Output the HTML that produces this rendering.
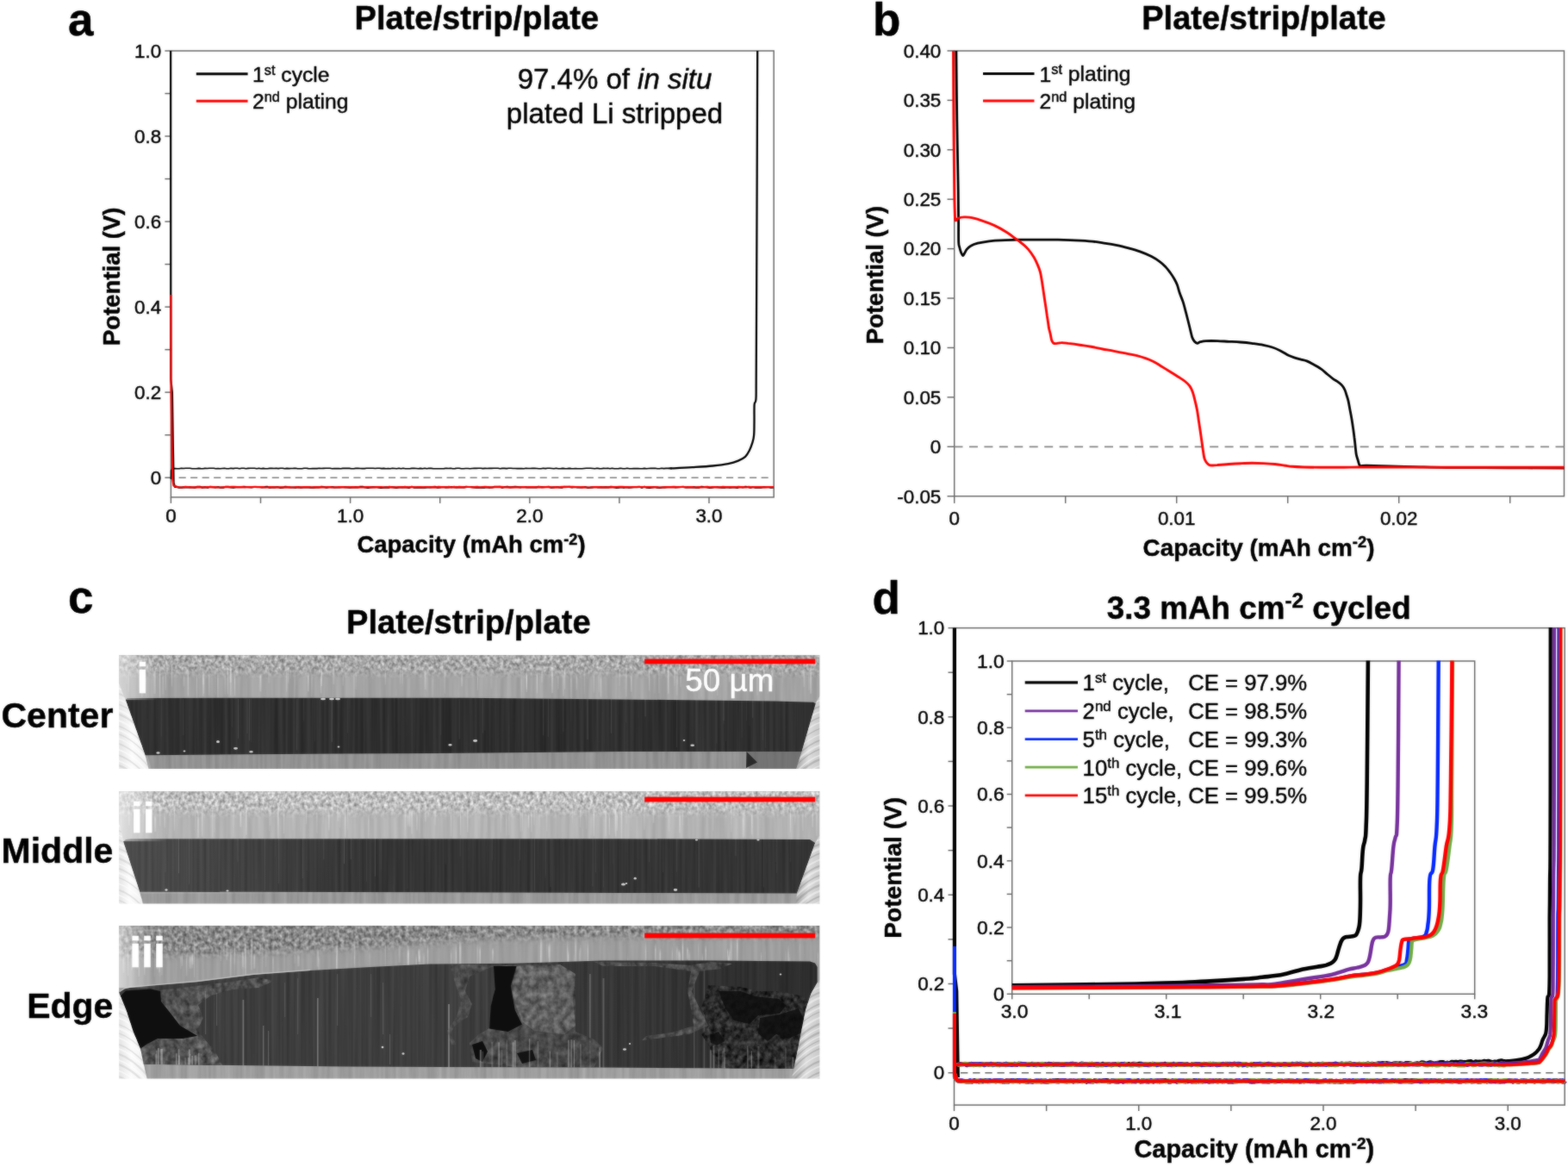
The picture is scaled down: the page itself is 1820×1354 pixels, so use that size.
<!DOCTYPE html>
<html lang="en"><head><meta charset="utf-8"><title>Figure</title>
<style>
html,body{margin:0;padding:0;background:#fff;}
body{width:1820px;height:1354px;overflow:hidden;}
svg{display:block;}
text{font-family:"Liberation Sans",sans-serif;stroke:#000;stroke-width:0.45px;stroke-linejoin:round;}
text[fill="#fff"]{stroke:#fff;}
</style></head><body>
<svg width="1820" height="1354" viewBox="0 0 1820 1354">
<defs><filter id="soft" filterUnits="userSpaceOnUse" x="0" y="0" width="1820" height="1354" color-interpolation-filters="sRGB"><feGaussianBlur in="SourceGraphic" stdDeviation="1" result="b"/><feComposite in="SourceGraphic" in2="b" operator="arithmetic" k1="0" k2="0.6" k3="0.4" k4="0"/></filter></defs>
<g filter="url(#soft)">
<rect x="0" y="0" width="1820" height="1354" fill="#fff"/>
<g id="panel-a">
<text x="79" y="41" font-size="53" text-anchor="start" font-weight="bold" fill="#000" >a</text>
<text x="553.3" y="34" font-size="38.1" text-anchor="middle" font-weight="bold" fill="#000" >Plate/strip/plate</text>
<rect x="198.4" y="59" width="699.8000000000001" height="517.9" fill="none" stroke="#686868" stroke-width="1.45"/>
<line x1="198.4" y1="576.9" x2="198.4" y2="583.9" stroke="#686868" stroke-width="1.45"/>
<line x1="406.6" y1="576.9" x2="406.6" y2="583.9" stroke="#686868" stroke-width="1.45"/>
<line x1="614.8" y1="576.9" x2="614.8" y2="583.9" stroke="#686868" stroke-width="1.45"/>
<line x1="822.9999999999999" y1="576.9" x2="822.9999999999999" y2="583.9" stroke="#686868" stroke-width="1.45"/>
<line x1="302.5" y1="576.9" x2="302.5" y2="583.9" stroke="#686868" stroke-width="1.45"/>
<line x1="510.69999999999993" y1="576.9" x2="510.69999999999993" y2="583.9" stroke="#686868" stroke-width="1.45"/>
<line x1="718.9" y1="576.9" x2="718.9" y2="583.9" stroke="#686868" stroke-width="1.45"/>
<line x1="191.4" y1="59.00000000000006" x2="198.4" y2="59.00000000000006" stroke="#686868" stroke-width="1.45"/>
<line x1="191.4" y1="158.04000000000002" x2="198.4" y2="158.04000000000002" stroke="#686868" stroke-width="1.45"/>
<line x1="191.4" y1="257.08000000000004" x2="198.4" y2="257.08000000000004" stroke="#686868" stroke-width="1.45"/>
<line x1="191.4" y1="356.12" x2="198.4" y2="356.12" stroke="#686868" stroke-width="1.45"/>
<line x1="191.4" y1="455.16" x2="198.4" y2="455.16" stroke="#686868" stroke-width="1.45"/>
<line x1="191.4" y1="554.2" x2="198.4" y2="554.2" stroke="#686868" stroke-width="1.45"/>
<line x1="191.4" y1="108.52000000000004" x2="198.4" y2="108.52000000000004" stroke="#686868" stroke-width="1.45"/>
<line x1="191.4" y1="207.56000000000006" x2="198.4" y2="207.56000000000006" stroke="#686868" stroke-width="1.45"/>
<line x1="191.4" y1="306.6" x2="198.4" y2="306.6" stroke="#686868" stroke-width="1.45"/>
<line x1="191.4" y1="405.64000000000004" x2="198.4" y2="405.64000000000004" stroke="#686868" stroke-width="1.45"/>
<line x1="191.4" y1="504.68000000000006" x2="198.4" y2="504.68000000000006" stroke="#686868" stroke-width="1.45"/>
<text x="198.4" y="606.1" font-size="22.4" text-anchor="middle" font-weight="normal" fill="#000" >0</text>
<text x="406.6" y="606.1" font-size="22.4" text-anchor="middle" font-weight="normal" fill="#000" >1.0</text>
<text x="614.8" y="606.1" font-size="22.4" text-anchor="middle" font-weight="normal" fill="#000" >2.0</text>
<text x="822.9999999999999" y="606.1" font-size="22.4" text-anchor="middle" font-weight="normal" fill="#000" >3.0</text>
<text x="187.20000000000002" y="66.79520000000005" font-size="22.4" text-anchor="end" font-weight="normal" fill="#000" >1.0</text>
<text x="187.20000000000002" y="165.83520000000001" font-size="22.4" text-anchor="end" font-weight="normal" fill="#000" >0.8</text>
<text x="187.20000000000002" y="264.87520000000006" font-size="22.4" text-anchor="end" font-weight="normal" fill="#000" >0.6</text>
<text x="187.20000000000002" y="363.9152" font-size="22.4" text-anchor="end" font-weight="normal" fill="#000" >0.4</text>
<text x="187.20000000000002" y="462.95520000000005" font-size="22.4" text-anchor="end" font-weight="normal" fill="#000" >0.2</text>
<text x="187.20000000000002" y="561.9952000000001" font-size="22.4" text-anchor="end" font-weight="normal" fill="#000" >0</text>
<line x1="207.6" y1="554.3" x2="893" y2="554.3" stroke="#808080" stroke-width="1.6" stroke-dasharray="8.1 5.42"/>
<path d="M198.1,59.0 L198.3,440.0 L199.9,455.0 L200.9,520.0 L201.6,560.0 L203.0,565.0 L205.0,564.9 L208.0,565.6 L211.0,565.6 L214.0,565.1 L217.0,565.3 L220.0,565.2 L223.0,565.5 L226.0,565.6 L229.0,564.9 L232.0,564.8 L235.0,565.6 L238.0,565.2 L241.0,565.6 L244.0,564.8 L247.0,565.2 L250.0,565.5 L253.0,565.0 L256.0,565.7 L259.0,565.7 L262.0,564.8 L265.0,564.8 L268.0,565.3 L271.0,565.7 L274.0,565.2 L277.0,565.0 L280.0,565.2 L283.0,564.8 L286.0,565.0 L289.0,565.2 L292.0,565.3 L295.0,565.0 L298.0,565.0 L301.0,565.0 L304.0,565.3 L307.0,565.1 L310.0,564.8 L313.0,565.6 L316.0,565.4 L319.0,565.4 L322.0,565.0 L325.0,565.8 L328.0,565.7 L331.0,564.9 L334.0,565.1 L337.0,565.5 L340.0,565.5 L343.0,565.7 L346.0,565.2 L349.0,565.6 L352.0,565.5 L355.0,565.1 L358.0,565.4 L361.0,565.7 L364.0,565.6 L367.0,565.3 L370.0,565.4 L373.0,564.8 L376.0,565.0 L379.0,565.6 L382.0,565.2 L385.0,565.0 L388.0,565.3 L391.0,565.5 L394.0,565.5 L397.0,565.2 L400.0,565.2 L403.0,565.3 L406.0,565.6 L409.0,565.3 L412.0,565.2 L415.0,565.3 L418.0,564.8 L421.0,564.8 L424.0,565.5 L427.0,565.8 L430.0,565.4 L433.0,565.2 L436.0,565.0 L439.0,565.3 L442.0,565.8 L445.0,565.6 L448.0,565.3 L451.0,565.7 L454.0,565.0 L457.0,565.3 L460.0,565.8 L463.0,565.4 L466.0,565.3 L469.0,565.1 L472.0,565.3 L475.0,565.8 L478.0,564.8 L481.0,565.6 L484.0,565.6 L487.0,565.7 L490.0,565.5 L493.0,565.6 L496.0,565.3 L499.0,565.4 L502.0,565.2 L505.0,564.9 L508.0,565.7 L511.0,565.4 L514.0,565.0 L517.0,565.3 L520.0,565.3 L523.0,565.2 L526.0,565.1 L529.0,565.3 L532.0,565.4 L535.0,565.4 L538.0,565.3 L541.0,564.8 L544.0,565.0 L547.0,565.0 L550.0,565.4 L553.0,565.7 L556.0,565.6 L559.0,565.6 L562.0,565.6 L565.0,565.1 L568.0,565.6 L571.0,565.5 L574.0,564.9 L577.0,564.8 L580.0,564.8 L583.0,565.6 L586.0,565.0 L589.0,564.9 L592.0,565.4 L595.0,565.1 L598.0,564.9 L601.0,565.0 L604.0,565.3 L607.0,565.0 L610.0,565.1 L613.0,565.5 L616.0,565.3 L619.0,565.1 L622.0,565.3 L625.0,564.8 L628.0,565.2 L631.0,565.2 L634.0,565.0 L637.0,564.9 L640.0,565.7 L643.0,565.3 L646.0,565.0 L649.0,565.4 L652.0,565.6 L655.0,564.8 L658.0,564.8 L661.0,564.9 L664.0,565.5 L667.0,565.0 L670.0,565.5 L673.0,565.5 L676.0,565.3 L679.0,565.0 L682.0,565.8 L685.0,565.6 L688.0,565.3 L691.0,565.0 L694.0,565.4 L697.0,565.2 L700.0,565.4 L703.0,565.1 L706.0,565.4 L709.0,564.9 L712.0,565.1 L715.0,565.8 L718.0,565.7 L721.0,565.1 L724.0,565.7 L727.0,565.1 L730.0,565.7 L733.0,565.5 L736.0,565.2 L739.0,565.1 L742.0,564.8 L745.0,565.7 L748.0,564.8 L751.0,565.6 L754.0,565.8 L757.0,565.4 L760.0,565.0 L763.0,565.7 L766.0,565.8 L769.0,565.5 L772.0,565.3 L775.0,565.2 L778.0,565.1 L781.0,565.0 L784.0,565.5 L787.0,565.2 L790.0,565.0 L793.0,564.9 L796.0,565.5 L799.0,565.1 L802.0,565.3 L805.0,565.1 L808.0,565.7 L811.0,565.7 L814.0,564.8 L817.0,565.0 L820.0,565.1 L823.0,565.8 L826.0,565.6 L829.0,565.1 L832.0,565.0 L835.0,565.5 L838.0,565.6 L841.0,565.7 L844.0,565.1 L847.0,565.7 L850.0,565.5 L853.0,565.3 L856.0,565.8 L859.0,565.0 L862.0,565.5 L865.0,564.9 L868.0,565.0 L871.0,565.7 L874.0,565.0 L877.0,565.6 L880.0,565.4 L883.0,565.6 L886.0,565.2 L889.0,565.1 L892.0,565.1 L895.0,565.7 L898.0,565.3" fill="none" stroke="#000" stroke-width="2.2" stroke-linejoin="round" stroke-linecap="butt" />
<path d="M198.5,556.0 L198.6,546.0 L200.0,543.6 L203.0,543.6 L205.5,543.8 L208.0,543.8 L210.5,543.2 L213.0,543.5 L215.5,543.2 L218.0,543.2 L220.5,543.2 L223.0,543.8 L225.5,543.7 L228.0,543.7 L230.5,543.4 L233.0,543.6 L235.5,543.7 L238.0,543.4 L240.5,543.5 L243.0,543.3 L245.5,543.2 L248.0,543.3 L250.5,543.8 L253.0,543.5 L255.5,543.8 L258.0,543.5 L260.5,543.3 L263.0,543.7 L265.5,543.7 L268.0,543.2 L270.5,543.6 L273.0,543.2 L275.5,543.2 L278.0,543.8 L280.5,543.2 L283.0,543.3 L285.5,543.8 L288.0,543.4 L290.5,543.2 L293.0,543.3 L295.5,543.3 L298.0,543.7 L300.5,543.2 L303.0,543.8 L305.5,543.4 L308.0,543.8 L310.5,543.8 L313.0,543.4 L315.5,543.3 L318.0,543.5 L320.5,543.2 L323.0,543.6 L325.5,543.2 L328.0,543.2 L330.5,543.8 L333.0,543.4 L335.5,543.6 L338.0,543.5 L340.5,543.4 L343.0,543.2 L345.5,543.8 L348.0,543.8 L350.5,543.8 L353.0,543.2 L355.5,543.3 L358.0,543.6 L360.5,543.8 L363.0,543.5 L365.5,543.6 L368.0,543.6 L370.5,543.3 L373.0,543.5 L375.5,543.4 L378.0,543.3 L380.5,543.2 L383.0,543.3 L385.5,543.8 L388.0,543.5 L390.5,543.6 L393.0,543.6 L395.5,543.8 L398.0,543.4 L400.5,543.4 L403.0,543.4 L405.5,543.4 L408.0,543.7 L410.5,543.8 L413.0,543.4 L415.5,543.4 L418.0,543.5 L420.5,543.6 L423.0,543.6 L425.5,543.3 L428.0,543.2 L430.5,543.3 L433.0,543.2 L435.5,543.5 L438.0,543.2 L440.5,543.2 L443.0,543.6 L445.5,543.4 L448.0,543.7 L450.5,543.5 L453.0,543.8 L455.5,543.3 L458.0,543.5 L460.5,543.7 L463.0,543.2 L465.5,543.8 L468.0,543.3 L470.5,543.7 L473.0,543.8 L475.5,543.7 L478.0,543.4 L480.5,543.2 L483.0,543.5 L485.5,543.8 L488.0,543.4 L490.5,543.8 L493.0,543.2 L495.5,543.8 L498.0,543.2 L500.5,543.4 L503.0,543.8 L505.5,543.7 L508.0,543.8 L510.5,543.7 L513.0,543.7 L515.5,543.6 L518.0,543.3 L520.5,543.5 L523.0,543.3 L525.5,543.7 L528.0,543.6 L530.5,543.3 L533.0,543.2 L535.5,543.8 L538.0,543.7 L540.5,543.5 L543.0,543.5 L545.5,543.7 L548.0,543.5 L550.5,543.4 L553.0,543.4 L555.5,543.3 L558.0,543.2 L560.5,543.6 L563.0,543.4 L565.5,543.5 L568.0,543.2 L570.5,543.4 L573.0,543.2 L575.5,543.2 L578.0,543.3 L580.5,543.7 L583.0,543.4 L585.5,543.4 L588.0,543.6 L590.5,543.3 L593.0,543.2 L595.5,543.5 L598.0,543.5 L600.5,543.6 L603.0,543.5 L605.5,543.6 L608.0,543.7 L610.5,543.3 L613.0,543.5 L615.5,543.5 L618.0,543.3 L620.5,543.4 L623.0,543.5 L625.5,543.8 L628.0,543.8 L630.5,543.3 L633.0,543.6 L635.5,543.2 L638.0,543.2 L640.5,543.5 L643.0,543.8 L645.5,543.3 L648.0,543.7 L650.5,543.8 L653.0,543.4 L655.5,543.6 L658.0,543.7 L660.5,543.4 L663.0,543.6 L665.5,543.7 L668.0,543.6 L670.5,543.7 L673.0,543.8 L675.5,543.8 L678.0,543.5 L680.5,543.3 L683.0,543.3 L685.5,543.3 L688.0,543.5 L690.5,543.7 L693.0,543.2 L695.5,543.6 L698.0,543.7 L700.5,543.4 L703.0,543.5 L705.5,543.3 L708.0,543.7 L710.5,543.2 L713.0,543.8 L715.5,543.7 L718.0,543.6 L720.5,543.3 L723.0,543.8 L725.5,543.8 L728.0,543.2 L730.5,543.7 L733.0,543.7 L735.5,543.6 L738.0,543.6 L740.5,543.5 L743.0,543.8 L745.5,543.8 L748.0,543.4 L750.5,543.7 L753.0,543.5 L755.5,543.3 L758.0,543.4 L760.5,543.2 L763.0,543.8 L765.5,543.8 L768.0,543.2 L770.5,543.6 L773.0,543.4 L775.5,543.2 L780.0,543.4" fill="none" stroke="#000" stroke-width="1.6" stroke-linejoin="round" stroke-linecap="butt" />
<path d="M778.0,543.5 C778.3,543.4 775.7,543.6 780.0,543.4 C784.3,543.2 795.7,542.7 803.6,542.2 C811.5,541.7 820.4,541.2 827.3,540.5 C834.2,539.8 840.1,539.1 845.0,538.1 C849.9,537.1 853.4,536.0 856.8,534.6 C860.1,533.2 862.9,531.8 865.1,529.8 C867.3,527.8 868.4,525.5 869.8,522.7 C871.2,520.0 872.5,516.2 873.4,513.3 C874.3,510.3 874.8,508.9 875.1,505.0 C875.5,501.1 875.4,495.9 875.5,490.0 C875.6,484.1 875.3,474.0 875.6,469.6 C875.9,465.2 877.0,468.5 877.4,463.6 C877.8,458.7 877.6,462.3 877.7,440.0 C877.8,417.7 878.0,393.5 878.2,330.0 C878.5,266.5 879.0,104.2 879.2,59.0" fill="none" stroke="#000" stroke-width="2.3" stroke-linejoin="round" stroke-linecap="butt" />
<path d="M198.4,342.0 L198.5,440.0 L199.3,500.0 L200.2,555.0 L201.5,563.5 L206.0,565.0 L209.0,565.5 L212.0,565.5 L215.0,564.9 L218.0,565.0 L221.0,565.4 L224.0,565.3 L227.0,565.3 L230.0,565.1 L233.0,565.3 L236.0,565.3 L239.0,565.2 L242.0,565.0 L245.0,565.2 L248.0,565.1 L251.0,565.3 L254.0,565.5 L257.0,565.5 L260.0,565.2 L263.0,565.2 L266.0,565.1 L269.0,564.9 L272.0,564.9 L275.0,565.2 L278.0,565.1 L281.0,565.1 L284.0,565.4 L287.0,565.2 L290.0,565.2 L293.0,565.0 L296.0,564.9 L299.0,565.1 L302.0,565.0 L305.0,565.2 L308.0,565.5 L311.0,565.3 L314.0,565.0 L317.0,565.4 L320.0,565.4 L323.0,565.3 L326.0,565.4 L329.0,565.4 L332.0,565.4 L335.0,565.1 L338.0,565.5 L341.0,565.5 L344.0,565.0 L347.0,565.4 L350.0,565.3 L353.0,565.2 L356.0,565.2 L359.0,565.2 L362.0,565.5 L365.0,565.2 L368.0,565.4 L371.0,565.1 L374.0,565.4 L377.0,565.4 L380.0,565.2 L383.0,565.2 L386.0,565.5 L389.0,565.3 L392.0,565.2 L395.0,565.0 L398.0,565.1 L401.0,565.3 L404.0,565.0 L407.0,565.4 L410.0,565.1 L413.0,565.4 L416.0,565.1 L419.0,565.5 L422.0,565.3 L425.0,565.2 L428.0,565.2 L431.0,565.3 L434.0,565.3 L437.0,565.1 L440.0,565.0 L443.0,565.2 L446.0,565.5 L449.0,565.3 L452.0,564.9 L455.0,565.4 L458.0,565.3 L461.0,565.4 L464.0,565.0 L467.0,565.3 L470.0,564.9 L473.0,565.3 L476.0,565.1 L479.0,565.0 L482.0,565.4 L485.0,565.0 L488.0,565.2 L491.0,565.4 L494.0,565.0 L497.0,565.0 L500.0,565.4 L503.0,565.2 L506.0,565.3 L509.0,564.9 L512.0,565.1 L515.0,565.0 L518.0,565.3 L521.0,564.9 L524.0,565.5 L527.0,564.9 L530.0,565.3 L533.0,564.9 L536.0,565.1 L539.0,565.4 L542.0,565.0 L545.0,565.0 L548.0,565.3 L551.0,565.1 L554.0,564.9 L557.0,565.5 L560.0,565.0 L563.0,564.9 L566.0,565.1 L569.0,565.3 L572.0,565.3 L575.0,565.0 L578.0,565.1 L581.0,564.9 L584.0,565.2 L587.0,565.4 L590.0,565.3 L593.0,565.4 L596.0,565.4 L599.0,565.4 L602.0,565.3 L605.0,565.2 L608.0,565.0 L611.0,565.3 L614.0,565.1 L617.0,565.0 L620.0,565.2 L623.0,565.4 L626.0,565.0 L629.0,565.3 L632.0,565.1 L635.0,565.2 L638.0,565.0 L641.0,565.5 L644.0,565.1 L647.0,565.3 L650.0,565.2 L653.0,564.9 L656.0,565.2 L659.0,565.0 L662.0,564.9 L665.0,564.9 L668.0,565.0 L671.0,565.0 L674.0,565.3 L677.0,565.2 L680.0,565.5 L683.0,565.5 L686.0,565.5 L689.0,565.0 L692.0,565.2 L695.0,565.1 L698.0,565.3 L701.0,565.3 L704.0,565.4 L707.0,565.3 L710.0,565.1 L713.0,565.2 L716.0,565.2 L719.0,564.9 L722.0,564.9 L725.0,565.1 L728.0,565.0 L731.0,565.3 L734.0,565.0 L737.0,565.0 L740.0,565.0 L743.0,565.0 L746.0,565.0 L749.0,565.2 L752.0,565.2 L755.0,565.1 L758.0,565.3 L761.0,565.0 L764.0,565.4 L767.0,565.5 L770.0,565.3 L773.0,565.2 L776.0,565.2 L779.0,565.2 L782.0,564.9 L785.0,565.2 L788.0,565.2 L791.0,565.0 L794.0,565.0 L797.0,565.4 L800.0,565.1 L803.0,565.2 L806.0,565.5 L809.0,565.3 L812.0,565.1 L815.0,565.5 L818.0,565.1 L821.0,564.9 L824.0,565.3 L827.0,565.0 L830.0,565.1 L833.0,565.4 L836.0,565.3 L839.0,564.9 L842.0,565.2 L845.0,565.1 L848.0,565.2 L851.0,565.0 L854.0,565.3 L857.0,564.9 L860.0,565.1 L863.0,565.1 L866.0,565.5 L869.0,564.9 L872.0,565.4 L875.0,565.0 L878.0,565.2 L881.0,565.1 L884.0,565.2 L887.0,565.4 L890.0,565.1 L893.0,565.0 L896.0,565.0 L898.0,565.2" fill="none" stroke="#ff0000" stroke-width="2.2" stroke-linejoin="round" stroke-linecap="butt" />
<line x1="227.8" y1="85.8" x2="287.6" y2="85.8" stroke="#000" stroke-width="3.1"/>
<line x1="227.8" y1="117.2" x2="287.6" y2="117.2" stroke="#ff0000" stroke-width="3.1"/>
<text x="293" y="95" font-size="24.7">1<tspan font-size="66%" dy="-0.52em">st</tspan><tspan dy="0.343em"> </tspan>cycle</text>
<text x="293" y="126.3" font-size="24.7">2<tspan font-size="66%" dy="-0.52em">nd</tspan><tspan dy="0.343em"> </tspan>plating</text>
<text x="713.5" y="103" font-size="33" text-anchor="middle">97.4% of <tspan font-style="italic">in situ</tspan></text>
<text x="713.5" y="142.6" font-size="33" text-anchor="middle" font-weight="normal" fill="#000" >plated Li stripped</text>
<text transform="translate(138.8,320.8) rotate(-90)" font-size="27.5" font-weight="bold" text-anchor="middle">Potential (V)</text>
<text x="547" y="641" font-size="27.5" font-weight="bold" text-anchor="middle">Capacity (mAh cm<tspan font-size="66%" dy="-0.52em">-2</tspan><tspan dy="0.343em">)</tspan></text>
</g>
<g id="panel-b">
<text x="1013" y="41" font-size="53" text-anchor="start" font-weight="bold" fill="#000" >b</text>
<text x="1467" y="34" font-size="38.1" text-anchor="middle" font-weight="bold" fill="#000" >Plate/strip/plate</text>
<rect x="1107.7" y="59" width="707.8" height="516.7" fill="none" stroke="#686868" stroke-width="1.45"/>
<line x1="1107.7" y1="575.7" x2="1107.7" y2="583.9000000000001" stroke="#686868" stroke-width="1.45"/>
<line x1="1365.7" y1="575.7" x2="1365.7" y2="583.9000000000001" stroke="#686868" stroke-width="1.45"/>
<line x1="1623.7" y1="575.7" x2="1623.7" y2="583.9000000000001" stroke="#686868" stroke-width="1.45"/>
<line x1="1236.7" y1="575.7" x2="1236.7" y2="583.9000000000001" stroke="#686868" stroke-width="1.45"/>
<line x1="1494.7" y1="575.7" x2="1494.7" y2="583.9000000000001" stroke="#686868" stroke-width="1.45"/>
<line x1="1752.7" y1="575.7" x2="1752.7" y2="583.9000000000001" stroke="#686868" stroke-width="1.45"/>
<line x1="1099.5" y1="58.939999999999884" x2="1107.7" y2="58.939999999999884" stroke="#686868" stroke-width="1.45"/>
<line x1="1099.5" y1="116.35999999999996" x2="1107.7" y2="116.35999999999996" stroke="#686868" stroke-width="1.45"/>
<line x1="1099.5" y1="173.77999999999992" x2="1107.7" y2="173.77999999999992" stroke="#686868" stroke-width="1.45"/>
<line x1="1099.5" y1="231.19999999999993" x2="1107.7" y2="231.19999999999993" stroke="#686868" stroke-width="1.45"/>
<line x1="1099.5" y1="288.6199999999999" x2="1107.7" y2="288.6199999999999" stroke="#686868" stroke-width="1.45"/>
<line x1="1099.5" y1="346.03999999999996" x2="1107.7" y2="346.03999999999996" stroke="#686868" stroke-width="1.45"/>
<line x1="1099.5" y1="403.4599999999999" x2="1107.7" y2="403.4599999999999" stroke="#686868" stroke-width="1.45"/>
<line x1="1099.5" y1="460.87999999999994" x2="1107.7" y2="460.87999999999994" stroke="#686868" stroke-width="1.45"/>
<line x1="1099.5" y1="518.3" x2="1107.7" y2="518.3" stroke="#686868" stroke-width="1.45"/>
<line x1="1099.5" y1="575.7199999999999" x2="1107.7" y2="575.7199999999999" stroke="#686868" stroke-width="1.45"/>
<text x="1107.7" y="608.7" font-size="22.4" text-anchor="middle" font-weight="normal" fill="#000" >0</text>
<text x="1365.7" y="608.7" font-size="22.4" text-anchor="middle" font-weight="normal" fill="#000" >0.01</text>
<text x="1623.7" y="608.7" font-size="22.4" text-anchor="middle" font-weight="normal" fill="#000" >0.02</text>
<text x="1092.3" y="66.73519999999988" font-size="22.4" text-anchor="end" font-weight="normal" fill="#000" >0.40</text>
<text x="1092.3" y="124.15519999999995" font-size="22.4" text-anchor="end" font-weight="normal" fill="#000" >0.35</text>
<text x="1092.3" y="181.5751999999999" font-size="22.4" text-anchor="end" font-weight="normal" fill="#000" >0.30</text>
<text x="1092.3" y="238.99519999999993" font-size="22.4" text-anchor="end" font-weight="normal" fill="#000" >0.25</text>
<text x="1092.3" y="296.4151999999999" font-size="22.4" text-anchor="end" font-weight="normal" fill="#000" >0.20</text>
<text x="1092.3" y="353.8352" font-size="22.4" text-anchor="end" font-weight="normal" fill="#000" >0.15</text>
<text x="1092.3" y="411.25519999999995" font-size="22.4" text-anchor="end" font-weight="normal" fill="#000" >0.10</text>
<text x="1092.3" y="468.67519999999996" font-size="22.4" text-anchor="end" font-weight="normal" fill="#000" >0.05</text>
<text x="1092.3" y="526.0952" font-size="22.4" text-anchor="end" font-weight="normal" fill="#000" >0</text>
<text x="1092.3" y="583.5151999999999" font-size="22.4" text-anchor="end" font-weight="normal" fill="#000" >-0.05</text>
<line x1="1107.7" y1="518.3" x2="1815.5" y2="518.3" stroke="#858585" stroke-width="1.75" stroke-dasharray="10 7.45" stroke-dashoffset="0.2"/>
<path d="M1109.9,59.0 C1110.1,72.5 1110.4,113.2 1110.8,140.0 C1111.2,166.8 1111.9,200.0 1112.2,220.0 C1112.5,240.0 1112.5,249.7 1112.6,259.9 C1112.6,270.1 1112.5,276.7 1112.7,281.2 C1112.9,285.6 1113.1,284.5 1113.6,286.5 C1114.1,288.5 1114.9,291.5 1115.6,293.1 C1116.3,294.8 1116.9,296.4 1117.6,296.5 C1118.3,296.6 1118.8,295.0 1119.6,293.8 C1120.4,292.6 1121.0,290.6 1122.3,289.1 C1123.5,287.7 1124.8,286.3 1126.9,285.2 C1129.0,284.0 1131.3,283.1 1134.9,282.2 C1138.4,281.3 1143.8,280.4 1148.2,279.8 C1152.6,279.3 1155.9,279.0 1161.5,278.8 C1167.0,278.5 1173.7,278.4 1181.4,278.2 C1189.2,278.1 1200.3,278.1 1208.0,278.1 C1215.8,278.1 1221.3,278.1 1228.0,278.2 C1234.6,278.4 1241.3,278.5 1247.9,278.8 C1254.6,279.1 1262.0,279.5 1267.9,280.1 C1273.8,280.7 1278.5,281.6 1283.3,282.3 C1288.1,283.0 1292.2,283.7 1296.6,284.6 C1301.0,285.5 1305.5,286.7 1309.9,287.9 C1314.3,289.1 1318.8,290.3 1323.2,291.9 C1327.6,293.5 1332.6,295.6 1336.5,297.6 C1340.4,299.6 1343.7,301.8 1346.5,303.9 C1349.3,305.9 1351.1,307.8 1353.1,309.9 C1355.1,312.0 1356.7,314.2 1358.4,316.5 C1360.1,318.8 1361.8,321.5 1363.1,323.8 C1364.4,326.1 1365.4,327.8 1366.4,330.5 C1367.4,333.2 1368.1,336.5 1369.2,339.8 C1370.3,343.1 1372.0,346.7 1373.2,350.4 C1374.4,354.2 1375.5,358.6 1376.5,362.4 C1377.5,366.2 1378.3,369.5 1379.2,373.0 C1380.1,376.6 1381.1,380.6 1381.8,383.7 C1382.6,386.8 1383.1,389.5 1383.8,391.6 C1384.6,393.8 1385.5,395.2 1386.5,396.3 C1387.5,397.4 1388.7,398.2 1389.8,398.3 C1390.9,398.4 1391.5,397.1 1393.1,396.7 C1394.8,396.3 1396.5,395.8 1399.8,395.6 C1403.1,395.5 1408.7,395.5 1413.1,395.6 C1417.5,395.7 1422.0,396.1 1426.4,396.3 C1430.8,396.5 1435.2,396.6 1439.7,397.0 C1444.1,397.3 1448.5,397.7 1453.0,398.3 C1457.4,398.9 1462.3,399.5 1466.3,400.3 C1470.3,401.1 1473.6,401.8 1476.9,403.0 C1480.2,404.1 1483.1,405.4 1486.2,406.9 C1489.3,408.5 1492.9,410.9 1495.5,412.3 C1498.2,413.6 1499.7,414.1 1502.2,414.9 C1504.6,415.7 1507.7,416.5 1510.2,417.2 C1512.6,417.8 1514.6,418.1 1516.8,418.9 C1519.0,419.8 1520.7,420.7 1523.5,422.2 C1526.2,423.7 1530.2,425.8 1533.1,427.9 C1536.0,429.9 1538.6,432.5 1541.1,434.5 C1543.5,436.5 1545.7,438.4 1547.7,439.8 C1549.7,441.3 1551.4,441.9 1553.0,443.2 C1554.7,444.4 1556.4,445.6 1557.7,447.2 C1559.0,448.7 1560.1,450.6 1561.0,452.5 C1561.9,454.4 1562.3,456.4 1563.0,458.5 C1563.7,460.6 1564.3,462.2 1565.0,465.1 C1565.7,468.0 1566.3,472.2 1567.0,475.7 C1567.7,479.3 1568.4,482.8 1569.0,486.4 C1569.6,489.9 1570.1,493.5 1570.6,497.0 C1571.1,500.6 1571.6,504.1 1572.0,507.7 C1572.5,511.2 1572.9,515.0 1573.2,518.3 C1573.6,521.6 1573.8,524.9 1574.3,527.6 C1574.8,530.3 1575.6,532.1 1576.3,534.3 C1577.0,536.4 1576.9,539.2 1578.6,540.2 C1580.2,541.2 1580.6,540.1 1586.3,540.2 C1592.0,540.4 1604.0,540.7 1612.9,540.9 C1621.7,541.1 1628.3,541.3 1639.5,541.6 C1650.7,541.8 1661.6,542.3 1680.0,542.5 C1698.4,542.7 1727.4,542.7 1750.0,542.8 C1772.6,542.9 1804.6,543.1 1815.5,543.2" fill="none" stroke="#000" stroke-width="2.8" stroke-linejoin="round" stroke-linecap="butt" />
<path d="M1106.5,59.0 C1106.6,72.5 1106.7,113.2 1106.9,140.0 C1107.1,166.8 1107.5,202.2 1107.7,220.0 C1107.9,237.8 1108.1,240.7 1108.3,246.6 C1108.5,252.5 1108.3,254.5 1109.0,255.6 C1109.6,256.7 1110.6,253.9 1112.3,253.2 C1113.9,252.6 1116.3,252.0 1118.9,251.9 C1121.6,251.8 1124.5,251.8 1128.2,252.6 C1132.0,253.4 1137.1,255.0 1141.5,256.6 C1146.0,258.1 1150.4,259.8 1154.8,261.9 C1159.3,264.0 1164.4,266.9 1168.1,269.2 C1171.9,271.5 1174.6,273.7 1177.4,275.9 C1180.3,278.0 1182.8,279.6 1185.4,281.8 C1188.1,284.1 1191.0,286.4 1193.4,289.1 C1195.8,291.9 1198.3,295.6 1200.1,298.5 C1201.8,301.3 1202.8,303.6 1204.0,306.4 C1205.3,309.3 1206.5,312.4 1207.4,315.7 C1208.3,319.1 1208.7,322.4 1209.4,326.4 C1210.0,330.4 1210.7,335.2 1211.4,339.7 C1212.0,344.1 1212.7,348.5 1213.4,353.0 C1214.0,357.4 1214.7,361.8 1215.3,366.3 C1216.0,370.7 1217.0,377.3 1217.3,379.6 C1217.7,381.9 1217.0,378.6 1217.3,380.0 C1217.6,381.4 1218.7,385.5 1219.3,388.0 C1219.8,390.4 1220.1,393.0 1220.6,394.6 C1221.2,396.3 1221.7,397.3 1222.6,398.0 C1223.5,398.6 1224.4,398.7 1225.9,398.6 C1227.5,398.6 1229.6,397.6 1231.9,397.6 C1234.2,397.5 1236.3,397.9 1239.9,398.4 C1243.4,398.8 1248.8,399.5 1253.2,400.2 C1257.6,400.9 1262.1,401.5 1266.5,402.3 C1270.9,403.1 1275.4,404.2 1279.8,405.0 C1284.2,405.8 1288.7,406.4 1293.1,407.3 C1297.5,408.1 1302.0,409.0 1306.4,409.9 C1310.8,410.8 1315.7,411.6 1319.7,412.6 C1323.7,413.6 1327.2,414.8 1330.3,415.9 C1333.4,417.0 1335.6,417.9 1338.3,419.2 C1341.0,420.6 1343.2,422.0 1346.3,423.9 C1349.4,425.8 1353.4,428.3 1356.9,430.5 C1360.5,432.7 1364.5,435.2 1367.6,437.2 C1370.7,439.2 1373.3,440.7 1375.5,442.5 C1377.7,444.3 1379.4,445.8 1380.9,447.8 C1382.3,449.8 1383.2,451.8 1384.2,454.5 C1385.2,457.1 1385.9,460.2 1386.8,463.8 C1387.7,467.3 1388.7,471.5 1389.5,475.7 C1390.3,480.0 1390.8,484.6 1391.5,489.0 C1392.2,493.5 1392.9,498.1 1393.5,502.3 C1394.1,506.6 1394.7,510.8 1395.2,514.3 C1395.7,517.9 1396.1,520.7 1396.5,523.6 C1397.0,526.5 1397.3,529.5 1397.9,531.6 C1398.5,533.7 1399.3,535.0 1400.1,536.2 C1401.0,537.5 1401.8,538.3 1402.8,538.9 C1403.8,539.5 1404.5,539.9 1406.1,540.0 C1407.8,540.1 1409.4,539.8 1412.8,539.6 C1416.1,539.3 1421.5,538.8 1426.1,538.5 C1430.6,538.2 1435.5,537.9 1440.0,537.7 C1444.6,537.5 1448.9,537.3 1453.3,537.3 C1457.7,537.3 1462.2,537.4 1466.6,537.6 C1471.0,537.8 1475.9,538.1 1479.9,538.5 C1483.9,538.9 1487.2,539.5 1490.5,540.0 C1493.9,540.4 1496.1,541.0 1499.8,541.3 C1503.6,541.6 1507.6,541.8 1513.1,542.0 C1518.7,542.1 1525.3,542.2 1533.1,542.2 C1540.8,542.3 1552.1,542.3 1559.7,542.2 C1567.2,542.2 1569.4,542.0 1578.3,542.0 C1587.2,541.9 1595.9,541.9 1612.9,542.0 C1629.8,542.0 1657.2,542.2 1680.0,542.2 C1702.9,542.3 1727.4,542.3 1750.0,542.3 C1772.6,542.3 1804.6,542.2 1815.5,542.2" fill="none" stroke="#ff0000" stroke-width="2.9" stroke-linejoin="round" stroke-linecap="butt" />
<line x1="1141" y1="85.5" x2="1200.5" y2="85.5" stroke="#000" stroke-width="3.1"/>
<line x1="1141" y1="117" x2="1200.5" y2="117" stroke="#ff0000" stroke-width="3.1"/>
<text x="1206.5" y="94.5" font-size="24.7">1<tspan font-size="66%" dy="-0.52em">st</tspan><tspan dy="0.343em"> </tspan>plating</text>
<text x="1206.5" y="126" font-size="24.7">2<tspan font-size="66%" dy="-0.52em">nd</tspan><tspan dy="0.343em"> </tspan>plating</text>
<text transform="translate(1025,319) rotate(-90)" font-size="27.5" font-weight="bold" text-anchor="middle">Potential (V)</text>
<text x="1461" y="645" font-size="27.9" font-weight="bold" text-anchor="middle">Capacity (mAh cm<tspan font-size="66%" dy="-0.52em">-2</tspan><tspan dy="0.343em">)</tspan></text>
</g>
<g id="panel-c">
<defs><linearGradient id="stkfade" x1="0" y1="0" x2="0" y2="1"><stop offset="0" stop-color="#fff" stop-opacity="0"/><stop offset="0.3" stop-color="#fff" stop-opacity="1"/><stop offset="1" stop-color="#fff" stop-opacity="0.45"/></linearGradient></defs>
<text x="79" y="710.8" font-size="53" text-anchor="start" font-weight="bold" fill="#000" >c</text>
<text x="543.8" y="735" font-size="38.1" text-anchor="middle" font-weight="bold" fill="#000" >Plate/strip/plate</text>
<text x="131.4" y="843.5" font-size="41" text-anchor="end" font-weight="bold" fill="#000" >Center</text>
<text x="131.4" y="1001" font-size="41" text-anchor="end" font-weight="bold" fill="#000" >Middle</text>
<text x="131.4" y="1181" font-size="41" text-anchor="end" font-weight="bold" fill="#000" >Edge</text>
<defs>
<clipPath id="clip1"><rect x="138.2" y="760.1" width="813.2" height="132.0"/></clipPath>
<filter id="top1" filterUnits="userSpaceOnUse" x="138.2" y="760.1" width="813.2" height="132.0" color-interpolation-filters="sRGB"><feTurbulence type="fractalNoise" baseFrequency="0.16 0.008" numOctaves="2" seed="11" result="n"/><feColorMatrix in="n" type="matrix" values="0.13 0 0 0 0.575 0.13 0 0 0 0.575 0.13 0 0 0 0.575 0 0 0 0 1" result="g"/><feComposite in="g" in2="SourceGraphic" operator="in"/></filter>
<filter id="spk1" filterUnits="userSpaceOnUse" x="138.2" y="760.1" width="813.2" height="132.0" color-interpolation-filters="sRGB"><feTurbulence type="fractalNoise" baseFrequency="0.26 0.221" numOctaves="2" seed="21" result="n"/><feColorMatrix in="n" type="matrix" values="0.62 0 0 0 0.350 0.62 0 0 0 0.350 0.62 0 0 0 0.350 0 0 0 0 1" result="g"/><feComposite in="g" in2="SourceGraphic" operator="in"/></filter>
<filter id="drk1" filterUnits="userSpaceOnUse" x="138.2" y="760.1" width="813.2" height="132.0" color-interpolation-filters="sRGB"><feTurbulence type="fractalNoise" baseFrequency="0.25 0.004" numOctaves="2" seed="31" result="n"/><feColorMatrix in="n" type="matrix" values="0.12 0 0 0 0.125 0.12 0 0 0 0.125 0.12 0 0 0 0.125 0 0 0 0 1" result="g"/><feComposite in="g" in2="SourceGraphic" operator="in"/></filter>
<filter id="stp1" filterUnits="userSpaceOnUse" x="138.2" y="760.1" width="813.2" height="132.0" color-interpolation-filters="sRGB"><feTurbulence type="fractalNoise" baseFrequency="0.2 0.01" numOctaves="2" seed="41" result="n"/><feColorMatrix in="n" type="matrix" values="0.14 0 0 0 0.505 0.14 0 0 0 0.505 0.14 0 0 0 0.505 0 0 0 0 1" result="g"/><feComposite in="g" in2="SourceGraphic" operator="in"/></filter>
<filter id="clm1" filterUnits="userSpaceOnUse" x="138.2" y="760.1" width="813.2" height="132.0" color-interpolation-filters="sRGB"><feTurbulence type="fractalNoise" baseFrequency="0.14 0.12" numOctaves="3" seed="51" result="n"/><feColorMatrix in="n" type="matrix" values="0.5 0 0 0 0.090 0.5 0 0 0 0.090 0.5 0 0 0 0.090 0 0 0 0 1" result="g"/><feComposite in="g" in2="SourceGraphic" operator="in"/></filter>
<linearGradient id="spkg1" x1="0" y1="0" x2="0" y2="1"><stop offset="0" stop-color="#fff"/><stop offset="0.5" stop-color="#fff"/><stop offset="1" stop-color="#000"/></linearGradient>
<mask id="spkm1" maskUnits="userSpaceOnUse" x="138.2" y="760.1" width="813.2" height="28"><rect x="138.2" y="760.1" width="813.2" height="28" fill="url(#spkg1)"/></mask>
<filter id="clmd1" filterUnits="userSpaceOnUse" x="138.2" y="760.1" width="813.2" height="132.0" color-interpolation-filters="sRGB"><feTurbulence type="fractalNoise" baseFrequency="0.16 0.14" numOctaves="3" seed="61" result="n"/><feColorMatrix in="n" type="matrix" values="0.42 0 0 0 -0.040 0.42 0 0 0 -0.040 0.42 0 0 0 -0.040 0 0 0 0 1" result="g"/><feComposite in="g" in2="SourceGraphic" operator="in"/></filter>
<linearGradient id="lc1" x1="0" y1="0" x2="1" y2="0"><stop offset="0" stop-color="#e2e2e2"/><stop offset="0.45" stop-color="#fcfcfc"/><stop offset="1" stop-color="#f0f0f0"/></linearGradient>
<linearGradient id="rc1" x1="0" y1="0" x2="1" y2="0"><stop offset="0" stop-color="#a8a8a8"/><stop offset="0.5" stop-color="#dcdcdc"/><stop offset="1" stop-color="#c8c8c8"/></linearGradient>
<linearGradient id="lg1" x1="0" y1="0" x2="1" y2="0"><stop offset="0" stop-color="#fff" stop-opacity="0.55"/><stop offset="1" stop-color="#fff" stop-opacity="0"/></linearGradient>
</defs>
<g clip-path="url(#clip1)"><g style="filter:blur(0.6px)">
<rect x="135.2" y="757.1" width="819.2" height="138.0" fill="#888" filter="url(#top1)"/>
<rect x="135.2" y="757.1" width="819.2" height="138.0" fill="#888" opacity="0"/>
<g mask="url(#spkm1)"><rect x="138.2" y="760.1" width="813.2" height="28" fill="#aaa" filter="url(#spk1)"/></g>
<rect x="610.8" y="781.0" width="1.1" height="22.0" fill="url(#stkfade)" opacity="0.37"/><rect x="677.7" y="772.1" width="1.1" height="32.9" fill="url(#stkfade)" opacity="0.18"/><rect x="310.9" y="770.8" width="2.2" height="21.9" fill="url(#stkfade)" opacity="0.14"/><rect x="764.3" y="772.7" width="1.3" height="31.4" fill="url(#stkfade)" opacity="0.24"/><rect x="466.6" y="772.4" width="1.1" height="21.5" fill="url(#stkfade)" opacity="0.23"/><rect x="807.8" y="780.5" width="1.8" height="21.3" fill="url(#stkfade)" opacity="0.29"/><rect x="446.6" y="777.5" width="1.4" height="16.9" fill="url(#stkfade)" opacity="0.23"/><rect x="515.6" y="768.4" width="1.5" height="36.3" fill="url(#stkfade)" opacity="0.21"/><rect x="145.9" y="768.6" width="1.6" height="25.0" fill="url(#stkfade)" opacity="0.16"/><rect x="191.7" y="778.3" width="1.0" height="22.3" fill="url(#stkfade)" opacity="0.30"/><rect x="668.7" y="780.4" width="1.5" height="20.1" fill="url(#stkfade)" opacity="0.25"/><rect x="845.7" y="768.2" width="1.8" height="23.2" fill="url(#stkfade)" opacity="0.30"/><rect x="164.2" y="780.4" width="1.3" height="28.2" fill="url(#stkfade)" opacity="0.37"/><rect x="234.9" y="779.4" width="1.8" height="28.3" fill="url(#stkfade)" opacity="0.32"/><rect x="252.3" y="778.4" width="1.1" height="30.8" fill="url(#stkfade)" opacity="0.33"/><rect x="501.3" y="781.5" width="2.0" height="27.8" fill="url(#stkfade)" opacity="0.16"/><rect x="412.7" y="777.7" width="0.9" height="22.5" fill="url(#stkfade)" opacity="0.26"/><rect x="185.0" y="769.4" width="1.2" height="40.3" fill="url(#stkfade)" opacity="0.33"/><rect x="341.5" y="781.8" width="1.1" height="27.7" fill="url(#stkfade)" opacity="0.15"/><rect x="397.7" y="780.5" width="0.9" height="15.4" fill="url(#stkfade)" opacity="0.29"/><rect x="653.0" y="776.1" width="2.0" height="31.5" fill="url(#stkfade)" opacity="0.24"/><rect x="332.2" y="775.8" width="1.2" height="27.0" fill="url(#stkfade)" opacity="0.29"/><rect x="410.1" y="777.6" width="2.1" height="31.6" fill="url(#stkfade)" opacity="0.19"/><rect x="464.1" y="769.0" width="0.9" height="24.1" fill="url(#stkfade)" opacity="0.18"/><rect x="236.1" y="774.4" width="1.3" height="30.5" fill="url(#stkfade)" opacity="0.22"/><rect x="688.5" y="777.4" width="1.8" height="26.1" fill="url(#stkfade)" opacity="0.21"/><rect x="241.9" y="777.6" width="1.6" height="29.0" fill="url(#stkfade)" opacity="0.20"/><rect x="334.0" y="772.3" width="1.4" height="20.2" fill="url(#stkfade)" opacity="0.24"/><rect x="178.5" y="774.2" width="2.2" height="30.6" fill="url(#stkfade)" opacity="0.31"/><rect x="356.9" y="778.9" width="1.8" height="23.5" fill="url(#stkfade)" opacity="0.37"/><rect x="938.0" y="773.9" width="2.1" height="27.0" fill="url(#stkfade)" opacity="0.14"/><rect x="361.1" y="778.6" width="1.7" height="30.1" fill="url(#stkfade)" opacity="0.16"/><rect x="188.3" y="777.0" width="1.8" height="28.7" fill="url(#stkfade)" opacity="0.19"/><rect x="932.4" y="778.3" width="1.9" height="18.7" fill="url(#stkfade)" opacity="0.21"/><rect x="718.5" y="771.4" width="1.4" height="24.1" fill="url(#stkfade)" opacity="0.19"/><rect x="785.8" y="770.8" width="0.9" height="23.3" fill="url(#stkfade)" opacity="0.18"/><rect x="731.8" y="780.7" width="1.6" height="21.9" fill="url(#stkfade)" opacity="0.29"/><rect x="169.0" y="778.1" width="1.1" height="31.5" fill="url(#stkfade)" opacity="0.25"/><rect x="553.9" y="781.2" width="1.1" height="19.9" fill="url(#stkfade)" opacity="0.27"/><rect x="895.3" y="774.8" width="2.1" height="20.4" fill="url(#stkfade)" opacity="0.27"/><rect x="228.0" y="778.1" width="0.9" height="32.8" fill="url(#stkfade)" opacity="0.28"/><rect x="628.1" y="770.0" width="2.2" height="21.7" fill="url(#stkfade)" opacity="0.22"/><rect x="372.6" y="772.3" width="1.5" height="23.9" fill="url(#stkfade)" opacity="0.38"/><rect x="726.3" y="770.2" width="1.3" height="37.8" fill="url(#stkfade)" opacity="0.27"/><rect x="885.8" y="772.8" width="1.9" height="19.7" fill="url(#stkfade)" opacity="0.36"/><rect x="386.2" y="770.9" width="2.1" height="23.1" fill="url(#stkfade)" opacity="0.24"/><rect x="271.8" y="780.5" width="1.4" height="26.8" fill="url(#stkfade)" opacity="0.36"/><rect x="753.1" y="771.2" width="1.1" height="30.3" fill="url(#stkfade)" opacity="0.32"/><rect x="165.4" y="776.4" width="2.0" height="28.8" fill="url(#stkfade)" opacity="0.15"/><rect x="661.9" y="779.2" width="1.8" height="30.8" fill="url(#stkfade)" opacity="0.22"/><rect x="640.0" y="768.9" width="2.2" height="35.2" fill="url(#stkfade)" opacity="0.34"/><rect x="212.6" y="780.1" width="1.7" height="16.2" fill="url(#stkfade)" opacity="0.22"/><rect x="907.9" y="768.1" width="0.9" height="24.1" fill="url(#stkfade)" opacity="0.13"/><rect x="940.1" y="770.7" width="2.0" height="34.0" fill="url(#stkfade)" opacity="0.36"/><rect x="784.9" y="781.7" width="1.8" height="25.3" fill="url(#stkfade)" opacity="0.19"/><rect x="694.7" y="778.7" width="1.2" height="24.5" fill="url(#stkfade)" opacity="0.22"/><rect x="535.0" y="780.1" width="2.1" height="16.2" fill="url(#stkfade)" opacity="0.23"/><rect x="569.6" y="777.8" width="1.8" height="21.3" fill="url(#stkfade)" opacity="0.12"/><rect x="647.0" y="781.3" width="1.7" height="18.4" fill="url(#stkfade)" opacity="0.16"/><rect x="249.2" y="769.5" width="1.4" height="36.5" fill="url(#stkfade)" opacity="0.14"/><rect x="217.5" y="774.5" width="1.6" height="33.2" fill="url(#stkfade)" opacity="0.35"/><rect x="813.4" y="779.1" width="1.0" height="29.8" fill="url(#stkfade)" opacity="0.14"/><rect x="831.8" y="781.5" width="1.8" height="25.7" fill="url(#stkfade)" opacity="0.25"/><rect x="758.6" y="778.5" width="2.1" height="25.8" fill="url(#stkfade)" opacity="0.13"/><rect x="148.5" y="775.5" width="1.2" height="27.7" fill="url(#stkfade)" opacity="0.31"/><rect x="371.8" y="781.8" width="1.6" height="22.6" fill="url(#stkfade)" opacity="0.35"/><rect x="732.9" y="775.9" width="0.9" height="32.0" fill="url(#stkfade)" opacity="0.16"/><rect x="235.3" y="772.4" width="1.0" height="22.0" fill="url(#stkfade)" opacity="0.25"/><rect x="267.1" y="770.5" width="1.4" height="36.6" fill="url(#stkfade)" opacity="0.33"/><rect x="198.9" y="768.2" width="1.2" height="28.3" fill="url(#stkfade)" opacity="0.29"/><rect x="263.8" y="770.3" width="1.1" height="35.0" fill="url(#stkfade)" opacity="0.35"/><rect x="878.4" y="772.6" width="1.1" height="34.0" fill="url(#stkfade)" opacity="0.34"/><rect x="610.6" y="777.8" width="1.3" height="21.9" fill="url(#stkfade)" opacity="0.35"/><rect x="604.5" y="781.2" width="1.2" height="29.4" fill="url(#stkfade)" opacity="0.19"/><rect x="266.6" y="768.3" width="2.1" height="23.7" fill="url(#stkfade)" opacity="0.31"/><rect x="492.6" y="771.6" width="2.0" height="28.5" fill="url(#stkfade)" opacity="0.35"/><rect x="890.6" y="773.9" width="1.1" height="31.2" fill="url(#stkfade)" opacity="0.15"/><rect x="847.9" y="770.6" width="2.0" height="22.8" fill="url(#stkfade)" opacity="0.12"/><rect x="622.7" y="776.7" width="1.4" height="27.7" fill="url(#stkfade)" opacity="0.36"/><rect x="696.9" y="780.2" width="1.1" height="28.1" fill="url(#stkfade)" opacity="0.35"/><rect x="774.5" y="773.2" width="1.0" height="32.4" fill="url(#stkfade)" opacity="0.13"/><rect x="301.4" y="777.9" width="2.0" height="24.6" fill="url(#stkfade)" opacity="0.34"/><rect x="260.5" y="775.0" width="1.9" height="31.6" fill="url(#stkfade)" opacity="0.16"/><rect x="655.0" y="772.6" width="1.1" height="27.3" fill="url(#stkfade)" opacity="0.35"/><rect x="494.8" y="777.0" width="1.8" height="25.3" fill="url(#stkfade)" opacity="0.13"/><rect x="789.4" y="781.6" width="1.3" height="15.5" fill="url(#stkfade)" opacity="0.27"/><rect x="782.3" y="771.9" width="1.5" height="23.8" fill="url(#stkfade)" opacity="0.20"/><rect x="824.0" y="775.3" width="1.1" height="22.9" fill="url(#stkfade)" opacity="0.37"/><rect x="775.0" y="770.1" width="1.6" height="34.6" fill="url(#stkfade)" opacity="0.35"/><rect x="160.8" y="772.5" width="1.1" height="24.7" fill="url(#stkfade)" opacity="0.23"/>
<polygon points="171.0,876.0 400.0,874.3 720.0,871.6 931.0,871.6 924.0,893.0 176.0,893.0" fill="#808080" filter="url(#stp1)"/>
<polygon points="866.0,871.0 931.0,871.0 924.0,893.0 870.0,893.0" fill="#5a5a5a" opacity="0.55"/>
<polygon points="866.5,872.0 879.0,884.5 866.0,891.0" fill="#2a2a2a" />
<polygon points="145.6,811.5 147.5,810.2 152.0,809.9 400.0,809.8 540.0,809.7 720.0,811.4 900.0,813.6 944.0,814.8 947.0,816.5 930.6,872.0 720.0,872.0 540.0,873.8 400.0,874.5 168.5,876.2" fill="#303030" filter="url(#drk1)"/>
<rect x="291.1" y="811.0" width="1.0" height="50.3" fill="#fff" opacity="0.05"/><rect x="635.9" y="811.0" width="0.8" height="43.9" fill="#fff" opacity="0.09"/><rect x="212.4" y="811.0" width="0.9" height="41.8" fill="#fff" opacity="0.09"/><rect x="839.6" y="811.0" width="1.0" height="28.9" fill="#fff" opacity="0.07"/><rect x="276.0" y="811.0" width="1.1" height="45.8" fill="#fff" opacity="0.10"/><rect x="511.3" y="811.0" width="0.9" height="42.3" fill="#fff" opacity="0.06"/><rect x="289.0" y="811.0" width="1.0" height="48.5" fill="#fff" opacity="0.09"/><rect x="364.8" y="811.0" width="0.7" height="49.2" fill="#fff" opacity="0.07"/><rect x="562.4" y="811.0" width="1.0" height="36.5" fill="#fff" opacity="0.07"/><rect x="860.7" y="811.0" width="0.7" height="44.9" fill="#fff" opacity="0.06"/><rect x="653.5" y="811.0" width="0.9" height="38.3" fill="#fff" opacity="0.08"/><rect x="681.5" y="811.0" width="1.1" height="47.1" fill="#fff" opacity="0.11"/><rect x="532.6" y="811.0" width="1.2" height="46.5" fill="#fff" opacity="0.08"/><rect x="831.4" y="811.0" width="1.0" height="51.7" fill="#fff" opacity="0.07"/><rect x="630.2" y="811.0" width="1.1" height="42.4" fill="#fff" opacity="0.09"/><rect x="910.5" y="811.0" width="0.9" height="60.3" fill="#fff" opacity="0.07"/><rect x="888.1" y="811.0" width="0.7" height="56.7" fill="#fff" opacity="0.05"/><rect x="842.0" y="811.0" width="0.8" height="49.1" fill="#fff" opacity="0.06"/><rect x="885.1" y="811.0" width="0.7" height="48.1" fill="#fff" opacity="0.08"/><rect x="345.6" y="811.0" width="0.8" height="40.1" fill="#fff" opacity="0.05"/><rect x="352.4" y="811.0" width="0.6" height="25.5" fill="#fff" opacity="0.07"/><rect x="269.1" y="811.0" width="0.7" height="32.9" fill="#fff" opacity="0.07"/><rect x="726.2" y="811.0" width="0.8" height="27.2" fill="#fff" opacity="0.06"/><rect x="402.8" y="811.0" width="1.0" height="39.4" fill="#fff" opacity="0.06"/><rect x="785.0" y="811.0" width="1.1" height="56.1" fill="#fff" opacity="0.08"/><rect x="661.8" y="811.0" width="0.7" height="26.4" fill="#fff" opacity="0.05"/><rect x="772.6" y="811.0" width="0.8" height="61.6" fill="#fff" opacity="0.11"/><rect x="869.5" y="811.0" width="0.9" height="31.1" fill="#fff" opacity="0.04"/><rect x="344.2" y="811.0" width="1.0" height="59.5" fill="#fff" opacity="0.10"/><rect x="708.9" y="811.0" width="1.2" height="39.8" fill="#fff" opacity="0.09"/><rect x="807.6" y="811.0" width="0.8" height="51.0" fill="#fff" opacity="0.10"/><rect x="830.2" y="811.0" width="0.6" height="60.8" fill="#fff" opacity="0.06"/><rect x="286.6" y="811.0" width="0.9" height="40.2" fill="#fff" opacity="0.09"/><rect x="839.5" y="811.0" width="1.2" height="24.8" fill="#fff" opacity="0.07"/><rect x="865.9" y="811.0" width="0.9" height="25.0" fill="#fff" opacity="0.06"/><rect x="186.8" y="811.0" width="0.9" height="43.4" fill="#fff" opacity="0.06"/><rect x="873.3" y="811.0" width="0.9" height="21.8" fill="#fff" opacity="0.12"/><rect x="748.5" y="811.0" width="1.1" height="20.3" fill="#fff" opacity="0.12"/><rect x="560.0" y="811.0" width="0.9" height="39.7" fill="#fff" opacity="0.09"/><rect x="384.7" y="811.0" width="1.1" height="49.8" fill="#fff" opacity="0.11"/>
<ellipse cx="183.5" cy="873.5" rx="2.2" ry="1.3" fill="#d0d0d0"/>
<ellipse cx="253" cy="860.5" rx="2" ry="1.6" fill="#d0d0d0"/>
<ellipse cx="273.5" cy="868.3" rx="2.5" ry="1.4" fill="#d0d0d0"/>
<ellipse cx="291.5" cy="872.2" rx="2.3" ry="1.3" fill="#d0d0d0"/>
<ellipse cx="214" cy="871.5" rx="1.4" ry="1" fill="#d0d0d0"/>
<ellipse cx="393" cy="866.4" rx="1.4" ry="1" fill="#d0d0d0"/>
<ellipse cx="522.5" cy="864.3" rx="2.2" ry="1.3" fill="#d0d0d0"/>
<ellipse cx="551.6" cy="859.5" rx="2.6" ry="1.4" fill="#d0d0d0"/>
<ellipse cx="803.7" cy="864.7" rx="2.4" ry="1.3" fill="#d0d0d0"/>
<ellipse cx="794" cy="859" rx="1.3" ry="1" fill="#d0d0d0"/>
<ellipse cx="375" cy="811" rx="3" ry="1.2" fill="#d0d0d0"/>
<ellipse cx="385" cy="811" rx="3" ry="1.2" fill="#d0d0d0"/>
<ellipse cx="392" cy="811" rx="3" ry="1.2" fill="#d0d0d0"/>
<rect x="138.2" y="760.1" width="45" height="52" fill="url(#lg1)"/>
<defs><clipPath id="cc1l"><polygon points="137.0,790.0 141.5,802.0 145.6,811.5 168.5,876.2 172.8,893.0 137.0,893.0"/></clipPath></defs>
<polygon points="137.0,790.0 141.5,802.0 145.6,811.5 168.5,876.2 172.8,893.0 137.0,893.0" fill="url(#lc1)" />
<g clip-path="url(#cc1l)" fill="none">
<path d="M178.2,814.0 Q156.2,786.0 136.2,780.0" stroke="#b4b4b4" stroke-width="1.7" opacity="0.35"/>
<path d="M178.2,820.2 Q156.2,792.2 136.2,786.2" stroke="#ffffff" stroke-width="2.3" opacity="0.6"/>
<path d="M178.2,826.1 Q156.2,798.1 136.2,792.1" stroke="#b4b4b4" stroke-width="1.8" opacity="0.35"/>
<path d="M178.2,832.3 Q156.2,804.3 136.2,798.3" stroke="#ffffff" stroke-width="1.4" opacity="0.6"/>
<path d="M178.2,838.4 Q156.2,810.4 136.2,804.4" stroke="#b4b4b4" stroke-width="2.0" opacity="0.35"/>
<path d="M178.2,845.3 Q156.2,817.3 136.2,811.3" stroke="#ffffff" stroke-width="1.3" opacity="0.6"/>
<path d="M178.2,850.7 Q156.2,822.7 136.2,816.7" stroke="#b4b4b4" stroke-width="1.3" opacity="0.35"/>
<path d="M178.2,857.6 Q156.2,829.6 136.2,823.6" stroke="#ffffff" stroke-width="2.0" opacity="0.6"/>
<path d="M178.2,862.2 Q156.2,834.2 136.2,828.2" stroke="#b4b4b4" stroke-width="2.4" opacity="0.35"/>
<path d="M178.2,869.6 Q156.2,841.6 136.2,835.6" stroke="#ffffff" stroke-width="2.0" opacity="0.6"/>
<path d="M178.2,876.0 Q156.2,848.0 136.2,842.0" stroke="#b4b4b4" stroke-width="1.4" opacity="0.35"/>
<path d="M178.2,880.5 Q156.2,852.5 136.2,846.5" stroke="#ffffff" stroke-width="1.8" opacity="0.6"/>
<path d="M178.2,885.2 Q156.2,857.2 136.2,851.2" stroke="#b4b4b4" stroke-width="1.4" opacity="0.35"/>
<path d="M178.2,890.4 Q156.2,862.4 136.2,856.4" stroke="#ffffff" stroke-width="1.2" opacity="0.6"/>
<path d="M178.2,896.3 Q156.2,868.3 136.2,862.3" stroke="#b4b4b4" stroke-width="1.7" opacity="0.35"/>
<path d="M178.2,903.3 Q156.2,875.3 136.2,869.3" stroke="#ffffff" stroke-width="1.8" opacity="0.6"/>
<path d="M178.2,909.7 Q156.2,881.7 136.2,875.7" stroke="#b4b4b4" stroke-width="1.8" opacity="0.35"/>
<path d="M178.2,916.2 Q156.2,888.2 136.2,882.2" stroke="#ffffff" stroke-width="1.7" opacity="0.6"/>
<path d="M178.2,921.6 Q156.2,893.6 136.2,887.6" stroke="#b4b4b4" stroke-width="2.4" opacity="0.35"/>
<path d="M178.2,929.1 Q156.2,901.1 136.2,895.1" stroke="#ffffff" stroke-width="2.2" opacity="0.6"/>
<path d="M178.2,935.7 Q156.2,907.7 136.2,901.7" stroke="#b4b4b4" stroke-width="1.6" opacity="0.35"/>
<path d="M178.2,940.9 Q156.2,912.9 136.2,906.9" stroke="#ffffff" stroke-width="1.5" opacity="0.6"/>
<path d="M178.2,945.6 Q156.2,917.6 136.2,911.6" stroke="#b4b4b4" stroke-width="2.1" opacity="0.35"/>
<path d="M178.2,951.3 Q156.2,923.3 136.2,917.3" stroke="#ffffff" stroke-width="2.2" opacity="0.6"/>
<path d="M178.2,956.9 Q156.2,928.9 136.2,922.9" stroke="#b4b4b4" stroke-width="2.3" opacity="0.35"/>
</g>
<defs><clipPath id="cc1r"><polygon points="953.0,805.0 950.0,810.0 947.0,815.5 930.6,872.0 924.0,893.0 953.0,893.0"/></clipPath></defs>
<polygon points="953.0,805.0 950.0,810.0 947.0,815.5 930.6,872.0 924.0,893.0 953.0,893.0" fill="url(#rc1)" />
<g clip-path="url(#cc1r)" fill="none">
<path d="M911.4,829.0 Q933.4,801.0 953.4,795.0" stroke="#6e6e6e" stroke-width="1.8" opacity="0.3"/>
<path d="M911.4,835.5 Q933.4,807.5 953.4,801.5" stroke="#ffffff" stroke-width="2.0" opacity="0.45"/>
<path d="M911.4,840.4 Q933.4,812.4 953.4,806.4" stroke="#6e6e6e" stroke-width="1.2" opacity="0.3"/>
<path d="M911.4,846.0 Q933.4,818.0 953.4,812.0" stroke="#ffffff" stroke-width="1.5" opacity="0.45"/>
<path d="M911.4,853.0 Q933.4,825.0 953.4,819.0" stroke="#6e6e6e" stroke-width="2.0" opacity="0.3"/>
<path d="M911.4,859.3 Q933.4,831.3 953.4,825.3" stroke="#ffffff" stroke-width="1.9" opacity="0.45"/>
<path d="M911.4,865.7 Q933.4,837.7 953.4,831.7" stroke="#6e6e6e" stroke-width="1.4" opacity="0.3"/>
<path d="M911.4,871.6 Q933.4,843.6 953.4,837.6" stroke="#ffffff" stroke-width="1.4" opacity="0.45"/>
<path d="M911.4,878.8 Q933.4,850.8 953.4,844.8" stroke="#6e6e6e" stroke-width="1.3" opacity="0.3"/>
<path d="M911.4,885.7 Q933.4,857.7 953.4,851.7" stroke="#ffffff" stroke-width="1.3" opacity="0.45"/>
<path d="M911.4,892.3 Q933.4,864.3 953.4,858.3" stroke="#6e6e6e" stroke-width="1.6" opacity="0.3"/>
<path d="M911.4,898.0 Q933.4,870.0 953.4,864.0" stroke="#ffffff" stroke-width="2.2" opacity="0.45"/>
<path d="M911.4,902.6 Q933.4,874.6 953.4,868.6" stroke="#6e6e6e" stroke-width="1.3" opacity="0.3"/>
<path d="M911.4,909.8 Q933.4,881.8 953.4,875.8" stroke="#ffffff" stroke-width="1.8" opacity="0.45"/>
<path d="M911.4,914.6 Q933.4,886.6 953.4,880.6" stroke="#6e6e6e" stroke-width="2.4" opacity="0.3"/>
<path d="M911.4,921.9 Q933.4,893.9 953.4,887.9" stroke="#ffffff" stroke-width="1.3" opacity="0.45"/>
<path d="M911.4,927.7 Q933.4,899.7 953.4,893.7" stroke="#6e6e6e" stroke-width="1.4" opacity="0.3"/>
<path d="M911.4,933.1 Q933.4,905.1 953.4,899.1" stroke="#ffffff" stroke-width="1.9" opacity="0.45"/>
<path d="M911.4,938.1 Q933.4,910.1 953.4,904.1" stroke="#6e6e6e" stroke-width="2.0" opacity="0.3"/>
<path d="M911.4,942.8 Q933.4,914.8 953.4,908.8" stroke="#ffffff" stroke-width="1.4" opacity="0.45"/>
<path d="M911.4,949.7 Q933.4,921.7 953.4,915.7" stroke="#6e6e6e" stroke-width="1.7" opacity="0.3"/>
<path d="M911.4,955.5 Q933.4,927.5 953.4,921.5" stroke="#ffffff" stroke-width="1.9" opacity="0.45"/>
</g>
</g></g>
<rect x="748.2" y="764.5" width="198" height="5.8" fill="#ff0000"/>
<text x="158.6" y="804.3" font-size="50" font-weight="bold" fill="#fff">i</text>
<text x="846.8" y="802.2" font-size="36.8" fill="#fff" text-anchor="middle">50 µm</text>
<defs>
<clipPath id="clip2"><rect x="138.2" y="918.1" width="813.2" height="130.4999999999999"/></clipPath>
<filter id="top2" filterUnits="userSpaceOnUse" x="138.2" y="918.1" width="813.2" height="130.4999999999999" color-interpolation-filters="sRGB"><feTurbulence type="fractalNoise" baseFrequency="0.16 0.008" numOctaves="2" seed="12" result="n"/><feColorMatrix in="n" type="matrix" values="0.13 0 0 0 0.640 0.13 0 0 0 0.640 0.13 0 0 0 0.640 0 0 0 0 1" result="g"/><feComposite in="g" in2="SourceGraphic" operator="in"/></filter>
<filter id="spk2" filterUnits="userSpaceOnUse" x="138.2" y="918.1" width="813.2" height="130.4999999999999" color-interpolation-filters="sRGB"><feTurbulence type="fractalNoise" baseFrequency="0.26 0.221" numOctaves="2" seed="22" result="n"/><feColorMatrix in="n" type="matrix" values="0.62 0 0 0 0.435 0.62 0 0 0 0.435 0.62 0 0 0 0.435 0 0 0 0 1" result="g"/><feComposite in="g" in2="SourceGraphic" operator="in"/></filter>
<filter id="drk2" filterUnits="userSpaceOnUse" x="138.2" y="918.1" width="813.2" height="130.4999999999999" color-interpolation-filters="sRGB"><feTurbulence type="fractalNoise" baseFrequency="0.25 0.004" numOctaves="2" seed="32" result="n"/><feColorMatrix in="n" type="matrix" values="0.12 0 0 0 0.145 0.12 0 0 0 0.145 0.12 0 0 0 0.145 0 0 0 0 1" result="g"/><feComposite in="g" in2="SourceGraphic" operator="in"/></filter>
<filter id="stp2" filterUnits="userSpaceOnUse" x="138.2" y="918.1" width="813.2" height="130.4999999999999" color-interpolation-filters="sRGB"><feTurbulence type="fractalNoise" baseFrequency="0.2 0.01" numOctaves="2" seed="42" result="n"/><feColorMatrix in="n" type="matrix" values="0.14 0 0 0 0.530 0.14 0 0 0 0.530 0.14 0 0 0 0.530 0 0 0 0 1" result="g"/><feComposite in="g" in2="SourceGraphic" operator="in"/></filter>
<filter id="clm2" filterUnits="userSpaceOnUse" x="138.2" y="918.1" width="813.2" height="130.4999999999999" color-interpolation-filters="sRGB"><feTurbulence type="fractalNoise" baseFrequency="0.14 0.12" numOctaves="3" seed="52" result="n"/><feColorMatrix in="n" type="matrix" values="0.5 0 0 0 0.090 0.5 0 0 0 0.090 0.5 0 0 0 0.090 0 0 0 0 1" result="g"/><feComposite in="g" in2="SourceGraphic" operator="in"/></filter>
<linearGradient id="spkg2" x1="0" y1="0" x2="0" y2="1"><stop offset="0" stop-color="#fff"/><stop offset="0.5" stop-color="#fff"/><stop offset="1" stop-color="#000"/></linearGradient>
<mask id="spkm2" maskUnits="userSpaceOnUse" x="138.2" y="918.1" width="813.2" height="32"><rect x="138.2" y="918.1" width="813.2" height="32" fill="url(#spkg2)"/></mask>
<filter id="clmd2" filterUnits="userSpaceOnUse" x="138.2" y="918.1" width="813.2" height="130.4999999999999" color-interpolation-filters="sRGB"><feTurbulence type="fractalNoise" baseFrequency="0.16 0.14" numOctaves="3" seed="62" result="n"/><feColorMatrix in="n" type="matrix" values="0.42 0 0 0 -0.040 0.42 0 0 0 -0.040 0.42 0 0 0 -0.040 0 0 0 0 1" result="g"/><feComposite in="g" in2="SourceGraphic" operator="in"/></filter>
<linearGradient id="lc2" x1="0" y1="0" x2="1" y2="0"><stop offset="0" stop-color="#e2e2e2"/><stop offset="0.45" stop-color="#fcfcfc"/><stop offset="1" stop-color="#f0f0f0"/></linearGradient>
<linearGradient id="rc2" x1="0" y1="0" x2="1" y2="0"><stop offset="0" stop-color="#a8a8a8"/><stop offset="0.5" stop-color="#dcdcdc"/><stop offset="1" stop-color="#c8c8c8"/></linearGradient>
<linearGradient id="lg2" x1="0" y1="0" x2="1" y2="0"><stop offset="0" stop-color="#fff" stop-opacity="0.55"/><stop offset="1" stop-color="#fff" stop-opacity="0"/></linearGradient>
</defs>
<g clip-path="url(#clip2)"><g style="filter:blur(0.6px)">
<rect x="135.2" y="915.1" width="819.2" height="136.4999999999999" fill="#888" filter="url(#top2)"/>
<rect x="135.2" y="915.1" width="819.2" height="136.4999999999999" fill="#888" opacity="0"/>
<g mask="url(#spkm2)"><rect x="138.2" y="918.1" width="813.2" height="32" fill="#aaa" filter="url(#spk2)"/></g>
<rect x="192.8" y="932.6" width="1.3" height="35.4" fill="url(#stkfade)" opacity="0.12"/><rect x="702.5" y="935.3" width="1.5" height="35.1" fill="url(#stkfade)" opacity="0.32"/><rect x="634.3" y="935.7" width="1.0" height="28.6" fill="url(#stkfade)" opacity="0.27"/><rect x="313.1" y="932.9" width="1.8" height="24.9" fill="url(#stkfade)" opacity="0.17"/><rect x="355.2" y="938.7" width="1.1" height="17.6" fill="url(#stkfade)" opacity="0.32"/><rect x="606.2" y="934.6" width="0.9" height="29.5" fill="url(#stkfade)" opacity="0.29"/><rect x="757.6" y="932.8" width="1.9" height="22.0" fill="url(#stkfade)" opacity="0.30"/><rect x="612.8" y="942.2" width="1.5" height="18.3" fill="url(#stkfade)" opacity="0.35"/><rect x="472.5" y="943.6" width="1.8" height="14.9" fill="url(#stkfade)" opacity="0.23"/><rect x="474.6" y="936.2" width="2.0" height="23.0" fill="url(#stkfade)" opacity="0.37"/><rect x="619.3" y="933.6" width="1.2" height="23.5" fill="url(#stkfade)" opacity="0.30"/><rect x="616.0" y="937.6" width="1.9" height="27.8" fill="url(#stkfade)" opacity="0.25"/><rect x="564.6" y="942.1" width="0.8" height="23.4" fill="url(#stkfade)" opacity="0.22"/><rect x="775.3" y="939.7" width="2.1" height="24.8" fill="url(#stkfade)" opacity="0.13"/><rect x="140.2" y="935.5" width="1.1" height="35.1" fill="url(#stkfade)" opacity="0.25"/><rect x="427.0" y="943.2" width="1.9" height="29.5" fill="url(#stkfade)" opacity="0.23"/><rect x="269.8" y="933.5" width="1.9" height="37.3" fill="url(#stkfade)" opacity="0.15"/><rect x="490.9" y="943.9" width="0.8" height="27.1" fill="url(#stkfade)" opacity="0.12"/><rect x="922.2" y="939.1" width="1.3" height="17.8" fill="url(#stkfade)" opacity="0.20"/><rect x="625.5" y="940.2" width="1.0" height="20.3" fill="url(#stkfade)" opacity="0.17"/><rect x="942.4" y="938.4" width="1.7" height="21.4" fill="url(#stkfade)" opacity="0.28"/><rect x="917.1" y="936.6" width="0.9" height="29.1" fill="url(#stkfade)" opacity="0.36"/><rect x="580.6" y="933.7" width="1.3" height="32.2" fill="url(#stkfade)" opacity="0.16"/><rect x="391.4" y="928.6" width="1.9" height="24.3" fill="url(#stkfade)" opacity="0.30"/><rect x="826.9" y="936.6" width="1.5" height="28.2" fill="url(#stkfade)" opacity="0.15"/><rect x="713.9" y="928.3" width="1.5" height="42.1" fill="url(#stkfade)" opacity="0.36"/><rect x="713.0" y="930.4" width="1.3" height="36.3" fill="url(#stkfade)" opacity="0.15"/><rect x="679.7" y="929.7" width="1.5" height="32.2" fill="url(#stkfade)" opacity="0.14"/><rect x="225.9" y="931.7" width="1.2" height="32.0" fill="url(#stkfade)" opacity="0.13"/><rect x="792.2" y="933.4" width="0.8" height="24.2" fill="url(#stkfade)" opacity="0.20"/><rect x="469.9" y="932.3" width="0.8" height="37.7" fill="url(#stkfade)" opacity="0.17"/><rect x="380.9" y="939.2" width="1.8" height="24.2" fill="url(#stkfade)" opacity="0.32"/><rect x="393.9" y="933.0" width="1.5" height="27.5" fill="url(#stkfade)" opacity="0.21"/><rect x="184.8" y="929.1" width="1.6" height="29.4" fill="url(#stkfade)" opacity="0.22"/><rect x="190.5" y="943.6" width="1.5" height="16.9" fill="url(#stkfade)" opacity="0.26"/><rect x="603.4" y="935.3" width="1.9" height="29.8" fill="url(#stkfade)" opacity="0.18"/><rect x="229.3" y="942.7" width="1.4" height="28.9" fill="url(#stkfade)" opacity="0.35"/><rect x="148.9" y="933.1" width="1.7" height="24.7" fill="url(#stkfade)" opacity="0.31"/><rect x="688.6" y="933.2" width="1.3" height="37.1" fill="url(#stkfade)" opacity="0.36"/><rect x="706.7" y="942.5" width="1.3" height="26.3" fill="url(#stkfade)" opacity="0.31"/><rect x="367.4" y="940.3" width="1.0" height="26.4" fill="url(#stkfade)" opacity="0.27"/><rect x="328.7" y="934.4" width="1.7" height="32.7" fill="url(#stkfade)" opacity="0.30"/><rect x="685.4" y="943.3" width="2.1" height="25.6" fill="url(#stkfade)" opacity="0.12"/><rect x="248.5" y="937.9" width="1.0" height="27.7" fill="url(#stkfade)" opacity="0.22"/><rect x="477.0" y="937.6" width="2.0" height="30.1" fill="url(#stkfade)" opacity="0.26"/><rect x="820.1" y="935.6" width="1.0" height="34.2" fill="url(#stkfade)" opacity="0.14"/><rect x="863.7" y="938.3" width="1.6" height="32.1" fill="url(#stkfade)" opacity="0.16"/><rect x="748.7" y="935.5" width="1.0" height="23.2" fill="url(#stkfade)" opacity="0.13"/><rect x="399.8" y="937.2" width="1.8" height="34.3" fill="url(#stkfade)" opacity="0.32"/><rect x="714.4" y="932.9" width="1.0" height="39.8" fill="url(#stkfade)" opacity="0.22"/><rect x="483.4" y="943.4" width="1.2" height="20.2" fill="url(#stkfade)" opacity="0.34"/><rect x="374.5" y="938.4" width="1.2" height="17.7" fill="url(#stkfade)" opacity="0.13"/><rect x="946.9" y="937.5" width="1.9" height="32.6" fill="url(#stkfade)" opacity="0.22"/><rect x="233.7" y="936.3" width="1.8" height="34.4" fill="url(#stkfade)" opacity="0.34"/><rect x="339.6" y="944.0" width="0.8" height="19.4" fill="url(#stkfade)" opacity="0.18"/><rect x="403.2" y="932.1" width="0.9" height="30.6" fill="url(#stkfade)" opacity="0.22"/><rect x="164.3" y="943.0" width="1.0" height="26.6" fill="url(#stkfade)" opacity="0.12"/><rect x="311.8" y="936.0" width="1.2" height="27.9" fill="url(#stkfade)" opacity="0.18"/><rect x="726.5" y="937.5" width="1.7" height="18.3" fill="url(#stkfade)" opacity="0.13"/><rect x="486.3" y="930.5" width="0.9" height="36.1" fill="url(#stkfade)" opacity="0.21"/><rect x="469.5" y="932.1" width="1.9" height="30.6" fill="url(#stkfade)" opacity="0.14"/><rect x="523.2" y="937.0" width="1.0" height="33.2" fill="url(#stkfade)" opacity="0.28"/><rect x="930.7" y="938.4" width="1.9" height="25.4" fill="url(#stkfade)" opacity="0.19"/><rect x="165.6" y="931.8" width="1.6" height="33.6" fill="url(#stkfade)" opacity="0.19"/><rect x="321.7" y="931.0" width="2.1" height="41.6" fill="url(#stkfade)" opacity="0.35"/><rect x="285.0" y="933.4" width="1.7" height="35.4" fill="url(#stkfade)" opacity="0.35"/><rect x="534.1" y="936.1" width="1.1" height="32.7" fill="url(#stkfade)" opacity="0.33"/><rect x="871.9" y="940.0" width="1.4" height="28.3" fill="url(#stkfade)" opacity="0.38"/><rect x="589.7" y="930.4" width="1.9" height="38.6" fill="url(#stkfade)" opacity="0.15"/><rect x="861.8" y="942.7" width="1.8" height="28.9" fill="url(#stkfade)" opacity="0.35"/><rect x="879.2" y="934.0" width="1.4" height="36.1" fill="url(#stkfade)" opacity="0.13"/><rect x="663.9" y="934.5" width="1.0" height="20.2" fill="url(#stkfade)" opacity="0.18"/><rect x="715.5" y="940.3" width="1.5" height="23.6" fill="url(#stkfade)" opacity="0.36"/><rect x="278.6" y="940.3" width="1.6" height="19.3" fill="url(#stkfade)" opacity="0.38"/><rect x="246.3" y="929.3" width="1.0" height="41.7" fill="url(#stkfade)" opacity="0.25"/><rect x="542.0" y="934.7" width="1.6" height="30.6" fill="url(#stkfade)" opacity="0.29"/><rect x="179.2" y="943.3" width="2.1" height="21.6" fill="url(#stkfade)" opacity="0.38"/><rect x="201.9" y="934.7" width="1.0" height="29.3" fill="url(#stkfade)" opacity="0.26"/><rect x="788.0" y="940.2" width="2.1" height="26.3" fill="url(#stkfade)" opacity="0.30"/><rect x="587.2" y="943.6" width="1.3" height="25.9" fill="url(#stkfade)" opacity="0.20"/><rect x="673.3" y="933.3" width="0.9" height="27.0" fill="url(#stkfade)" opacity="0.33"/><rect x="473.4" y="937.1" width="1.9" height="19.3" fill="url(#stkfade)" opacity="0.17"/><rect x="747.3" y="932.3" width="1.1" height="30.6" fill="url(#stkfade)" opacity="0.33"/><rect x="142.5" y="931.3" width="1.2" height="29.5" fill="url(#stkfade)" opacity="0.13"/><rect x="158.3" y="933.6" width="1.4" height="20.7" fill="url(#stkfade)" opacity="0.15"/><rect x="504.5" y="937.3" width="1.3" height="20.0" fill="url(#stkfade)" opacity="0.23"/><rect x="873.0" y="939.7" width="1.1" height="30.4" fill="url(#stkfade)" opacity="0.12"/><rect x="492.7" y="931.9" width="2.2" height="21.4" fill="url(#stkfade)" opacity="0.27"/><rect x="720.5" y="932.4" width="1.8" height="40.6" fill="url(#stkfade)" opacity="0.36"/><rect x="848.0" y="931.2" width="1.5" height="34.2" fill="url(#stkfade)" opacity="0.21"/>
<polygon points="161.5,1034.6 400.0,1034.8 720.0,1035.8 925.5,1036.3 924.0,1049.5 167.0,1049.5" fill="#808080" filter="url(#stp2)"/>
<polygon points="143.2,976.5 146.0,974.0 152.0,973.3 400.0,973.2 720.0,973.2 940.0,974.0 946.2,978.0 925.0,1036.5 720.0,1036.0 400.0,1035.0 162.2,1034.8" fill="#303030" filter="url(#drk2)"/>
<rect x="752.9" y="973.0" width="1.0" height="27.2" fill="#fff" opacity="0.07"/><rect x="687.5" y="973.0" width="1.2" height="55.5" fill="#fff" opacity="0.07"/><rect x="207.1" y="973.0" width="0.9" height="40.1" fill="#fff" opacity="0.06"/><rect x="638.4" y="973.0" width="1.1" height="56.3" fill="#fff" opacity="0.08"/><rect x="425.1" y="973.0" width="0.7" height="49.6" fill="#fff" opacity="0.08"/><rect x="711.0" y="973.0" width="0.6" height="29.6" fill="#fff" opacity="0.06"/><rect x="533.7" y="973.0" width="1.1" height="20.6" fill="#fff" opacity="0.06"/><rect x="853.5" y="973.0" width="1.1" height="20.3" fill="#fff" opacity="0.10"/><rect x="375.5" y="973.0" width="0.7" height="24.0" fill="#fff" opacity="0.11"/><rect x="275.6" y="973.0" width="0.7" height="27.2" fill="#fff" opacity="0.10"/><rect x="917.5" y="973.0" width="0.8" height="26.9" fill="#fff" opacity="0.09"/><rect x="399.0" y="973.0" width="1.1" height="29.1" fill="#fff" opacity="0.12"/><rect x="442.1" y="973.0" width="0.6" height="35.3" fill="#fff" opacity="0.06"/><rect x="570.8" y="973.0" width="0.9" height="25.5" fill="#fff" opacity="0.07"/><rect x="596.8" y="973.0" width="0.8" height="60.8" fill="#fff" opacity="0.07"/><rect x="620.4" y="973.0" width="0.6" height="60.7" fill="#fff" opacity="0.12"/><rect x="472.4" y="973.0" width="1.2" height="58.5" fill="#fff" opacity="0.05"/><rect x="306.7" y="973.0" width="1.1" height="60.2" fill="#fff" opacity="0.09"/><rect x="406.7" y="973.0" width="1.0" height="24.2" fill="#fff" opacity="0.12"/><rect x="318.8" y="973.0" width="0.9" height="21.0" fill="#fff" opacity="0.05"/><rect x="191.6" y="973.0" width="0.8" height="38.8" fill="#fff" opacity="0.09"/><rect x="633.1" y="973.0" width="0.6" height="43.1" fill="#fff" opacity="0.05"/><rect x="297.6" y="973.0" width="0.6" height="46.9" fill="#fff" opacity="0.04"/><rect x="899.9" y="973.0" width="0.9" height="27.1" fill="#fff" opacity="0.04"/><rect x="691.0" y="973.0" width="1.1" height="38.9" fill="#fff" opacity="0.06"/><rect x="207.2" y="973.0" width="0.9" height="40.3" fill="#fff" opacity="0.10"/><rect x="769.0" y="973.0" width="0.7" height="39.0" fill="#fff" opacity="0.09"/><rect x="632.7" y="973.0" width="0.6" height="45.5" fill="#fff" opacity="0.08"/><rect x="355.6" y="973.0" width="0.9" height="36.7" fill="#fff" opacity="0.04"/><rect x="885.9" y="973.0" width="1.0" height="56.4" fill="#fff" opacity="0.08"/><rect x="700.2" y="973.0" width="0.9" height="56.5" fill="#fff" opacity="0.07"/><rect x="603.2" y="973.0" width="0.9" height="25.2" fill="#fff" opacity="0.07"/><rect x="322.9" y="973.0" width="1.0" height="52.2" fill="#fff" opacity="0.08"/><rect x="516.8" y="973.0" width="0.8" height="29.5" fill="#fff" opacity="0.08"/><rect x="901.2" y="973.0" width="1.0" height="39.9" fill="#fff" opacity="0.06"/><rect x="810.6" y="973.0" width="1.2" height="56.7" fill="#fff" opacity="0.10"/><rect x="785.0" y="973.0" width="0.8" height="38.8" fill="#fff" opacity="0.07"/><rect x="219.0" y="973.0" width="1.0" height="52.8" fill="#fff" opacity="0.08"/><rect x="434.9" y="973.0" width="1.2" height="43.7" fill="#fff" opacity="0.10"/><rect x="350.7" y="973.0" width="1.2" height="46.1" fill="#fff" opacity="0.09"/>
<ellipse cx="193" cy="1032.5" rx="1.6" ry="1.3" fill="#d0d0d0"/>
<ellipse cx="264" cy="1033.5" rx="1.6" ry="1.1" fill="#d0d0d0"/>
<ellipse cx="723.5" cy="1026" rx="2.5" ry="1.6" fill="#d0d0d0"/>
<ellipse cx="737.2" cy="1019.2" rx="1.6" ry="1.4" fill="#d0d0d0"/>
<ellipse cx="727" cy="1025" rx="1.3" ry="1" fill="#d0d0d0"/>
<ellipse cx="784" cy="1032.5" rx="2.3" ry="1.4" fill="#d0d0d0"/>
<ellipse cx="808.5" cy="974.5" rx="1.6" ry="1.1" fill="#d0d0d0"/>
<ellipse cx="880" cy="974.5" rx="1.6" ry="1.1" fill="#d0d0d0"/>
<rect x="138.2" y="918.1" width="55" height="58" fill="url(#lg2)"/>
<rect x="138.2" y="973" width="300" height="64" fill="url(#lg2)" opacity="0.22"/>
<defs><clipPath id="cc2l"><polygon points="137.0,948.0 140.5,964.0 143.2,977.0 162.2,1035.0 166.0,1049.5 137.0,1049.5"/></clipPath></defs>
<polygon points="137.0,948.0 140.5,964.0 143.2,977.0 162.2,1035.0 166.0,1049.5 137.0,1049.5" fill="url(#lc2)" />
<g clip-path="url(#cc2l)" fill="none">
<path d="M178.2,972.0 Q156.2,944.0 136.2,938.0" stroke="#b4b4b4" stroke-width="1.4" opacity="0.35"/>
<path d="M178.2,978.6 Q156.2,950.6 136.2,944.6" stroke="#ffffff" stroke-width="2.0" opacity="0.6"/>
<path d="M178.2,984.5 Q156.2,956.5 136.2,950.5" stroke="#b4b4b4" stroke-width="1.5" opacity="0.35"/>
<path d="M178.2,991.4 Q156.2,963.4 136.2,957.4" stroke="#ffffff" stroke-width="2.2" opacity="0.6"/>
<path d="M178.2,997.4 Q156.2,969.4 136.2,963.4" stroke="#b4b4b4" stroke-width="1.8" opacity="0.35"/>
<path d="M178.2,1002.6 Q156.2,974.6 136.2,968.6" stroke="#ffffff" stroke-width="1.2" opacity="0.6"/>
<path d="M178.2,1008.2 Q156.2,980.2 136.2,974.2" stroke="#b4b4b4" stroke-width="1.9" opacity="0.35"/>
<path d="M178.2,1013.0 Q156.2,985.0 136.2,979.0" stroke="#ffffff" stroke-width="2.2" opacity="0.6"/>
<path d="M178.2,1018.1 Q156.2,990.1 136.2,984.1" stroke="#b4b4b4" stroke-width="1.5" opacity="0.35"/>
<path d="M178.2,1022.8 Q156.2,994.8 136.2,988.8" stroke="#ffffff" stroke-width="2.4" opacity="0.6"/>
<path d="M178.2,1029.5 Q156.2,1001.5 136.2,995.5" stroke="#b4b4b4" stroke-width="2.3" opacity="0.35"/>
<path d="M178.2,1035.8 Q156.2,1007.8 136.2,1001.8" stroke="#ffffff" stroke-width="1.2" opacity="0.6"/>
<path d="M178.2,1041.3 Q156.2,1013.3 136.2,1007.3" stroke="#b4b4b4" stroke-width="1.8" opacity="0.35"/>
<path d="M178.2,1046.2 Q156.2,1018.2 136.2,1012.2" stroke="#ffffff" stroke-width="2.3" opacity="0.6"/>
<path d="M178.2,1051.8 Q156.2,1023.8 136.2,1017.8" stroke="#b4b4b4" stroke-width="1.4" opacity="0.35"/>
<path d="M178.2,1058.7 Q156.2,1030.7 136.2,1024.7" stroke="#ffffff" stroke-width="1.3" opacity="0.6"/>
<path d="M178.2,1066.0 Q156.2,1038.0 136.2,1032.0" stroke="#b4b4b4" stroke-width="1.7" opacity="0.35"/>
<path d="M178.2,1072.2 Q156.2,1044.2 136.2,1038.2" stroke="#ffffff" stroke-width="1.6" opacity="0.6"/>
<path d="M178.2,1078.1 Q156.2,1050.1 136.2,1044.1" stroke="#b4b4b4" stroke-width="1.4" opacity="0.35"/>
<path d="M178.2,1082.7 Q156.2,1054.7 136.2,1048.7" stroke="#ffffff" stroke-width="2.2" opacity="0.6"/>
<path d="M178.2,1087.9 Q156.2,1059.9 136.2,1053.9" stroke="#b4b4b4" stroke-width="2.1" opacity="0.35"/>
<path d="M178.2,1093.1 Q156.2,1065.1 136.2,1059.1" stroke="#ffffff" stroke-width="2.4" opacity="0.6"/>
<path d="M178.2,1100.2 Q156.2,1072.2 136.2,1066.2" stroke="#b4b4b4" stroke-width="2.1" opacity="0.35"/>
<path d="M178.2,1107.0 Q156.2,1079.0 136.2,1073.0" stroke="#ffffff" stroke-width="1.9" opacity="0.6"/>
</g>
<defs><clipPath id="cc2r"><polygon points="953.0,966.0 949.5,972.0 946.2,978.0 925.0,1036.5 923.8,1049.5 953.0,1049.5"/></clipPath></defs>
<polygon points="953.0,966.0 949.5,972.0 946.2,978.0 925.0,1036.5 923.8,1049.5 953.0,1049.5" fill="url(#rc2)" />
<g clip-path="url(#cc2r)" fill="none">
<path d="M911.4,990.0 Q933.4,962.0 953.4,956.0" stroke="#6e6e6e" stroke-width="2.3" opacity="0.3"/>
<path d="M911.4,994.9 Q933.4,966.9 953.4,960.9" stroke="#ffffff" stroke-width="1.2" opacity="0.45"/>
<path d="M911.4,1002.4 Q933.4,974.4 953.4,968.4" stroke="#6e6e6e" stroke-width="1.4" opacity="0.3"/>
<path d="M911.4,1007.3 Q933.4,979.3 953.4,973.3" stroke="#ffffff" stroke-width="2.0" opacity="0.45"/>
<path d="M911.4,1012.8 Q933.4,984.8 953.4,978.8" stroke="#6e6e6e" stroke-width="2.3" opacity="0.3"/>
<path d="M911.4,1018.0 Q933.4,990.0 953.4,984.0" stroke="#ffffff" stroke-width="2.4" opacity="0.45"/>
<path d="M911.4,1023.5 Q933.4,995.5 953.4,989.5" stroke="#6e6e6e" stroke-width="1.9" opacity="0.3"/>
<path d="M911.4,1030.8 Q933.4,1002.8 953.4,996.8" stroke="#ffffff" stroke-width="2.0" opacity="0.45"/>
<path d="M911.4,1038.0 Q933.4,1010.0 953.4,1004.0" stroke="#6e6e6e" stroke-width="2.0" opacity="0.3"/>
<path d="M911.4,1042.7 Q933.4,1014.7 953.4,1008.7" stroke="#ffffff" stroke-width="2.3" opacity="0.45"/>
<path d="M911.4,1049.0 Q933.4,1021.0 953.4,1015.0" stroke="#6e6e6e" stroke-width="1.6" opacity="0.3"/>
<path d="M911.4,1054.0 Q933.4,1026.0 953.4,1020.0" stroke="#ffffff" stroke-width="2.2" opacity="0.45"/>
<path d="M911.4,1060.3 Q933.4,1032.3 953.4,1026.3" stroke="#6e6e6e" stroke-width="2.3" opacity="0.3"/>
<path d="M911.4,1067.1 Q933.4,1039.1 953.4,1033.1" stroke="#ffffff" stroke-width="2.4" opacity="0.45"/>
<path d="M911.4,1073.3 Q933.4,1045.3 953.4,1039.3" stroke="#6e6e6e" stroke-width="2.0" opacity="0.3"/>
<path d="M911.4,1079.6 Q933.4,1051.6 953.4,1045.6" stroke="#ffffff" stroke-width="1.5" opacity="0.45"/>
<path d="M911.4,1087.0 Q933.4,1059.0 953.4,1053.0" stroke="#6e6e6e" stroke-width="1.6" opacity="0.3"/>
<path d="M911.4,1093.8 Q933.4,1065.8 953.4,1059.8" stroke="#ffffff" stroke-width="2.3" opacity="0.45"/>
<path d="M911.4,1100.3 Q933.4,1072.3 953.4,1066.3" stroke="#6e6e6e" stroke-width="1.4" opacity="0.3"/>
<path d="M911.4,1107.3 Q933.4,1079.3 953.4,1073.3" stroke="#ffffff" stroke-width="2.0" opacity="0.45"/>
<path d="M911.4,1112.3 Q933.4,1084.3 953.4,1078.3" stroke="#6e6e6e" stroke-width="1.3" opacity="0.3"/>
</g>
</g></g>
<rect x="748.2" y="924.6" width="198" height="5.8" fill="#ff0000"/>
<text x="151.8" y="966.2" font-size="50" font-weight="bold" fill="#fff">ii</text>
<defs>
<clipPath id="clip3"><rect x="138.2" y="1074.1" width="813.2" height="177.5"/></clipPath>
<filter id="top3" filterUnits="userSpaceOnUse" x="138.2" y="1074.1" width="813.2" height="177.5" color-interpolation-filters="sRGB"><feTurbulence type="fractalNoise" baseFrequency="0.16 0.008" numOctaves="2" seed="13" result="n"/><feColorMatrix in="n" type="matrix" values="0.13 0 0 0 0.555 0.13 0 0 0 0.555 0.13 0 0 0 0.555 0 0 0 0 1" result="g"/><feComposite in="g" in2="SourceGraphic" operator="in"/></filter>
<filter id="spk3" filterUnits="userSpaceOnUse" x="138.2" y="1074.1" width="813.2" height="177.5" color-interpolation-filters="sRGB"><feTurbulence type="fractalNoise" baseFrequency="0.24 0.204" numOctaves="2" seed="23" result="n"/><feColorMatrix in="n" type="matrix" values="0.62 0 0 0 0.230 0.62 0 0 0 0.230 0.62 0 0 0 0.230 0 0 0 0 1" result="g"/><feComposite in="g" in2="SourceGraphic" operator="in"/></filter>
<filter id="drk3" filterUnits="userSpaceOnUse" x="138.2" y="1074.1" width="813.2" height="177.5" color-interpolation-filters="sRGB"><feTurbulence type="fractalNoise" baseFrequency="0.25 0.004" numOctaves="2" seed="33" result="n"/><feColorMatrix in="n" type="matrix" values="0.12 0 0 0 0.180 0.12 0 0 0 0.180 0.12 0 0 0 0.180 0 0 0 0 1" result="g"/><feComposite in="g" in2="SourceGraphic" operator="in"/></filter>
<filter id="stp3" filterUnits="userSpaceOnUse" x="138.2" y="1074.1" width="813.2" height="177.5" color-interpolation-filters="sRGB"><feTurbulence type="fractalNoise" baseFrequency="0.2 0.01" numOctaves="2" seed="43" result="n"/><feColorMatrix in="n" type="matrix" values="0.14 0 0 0 0.550 0.14 0 0 0 0.550 0.14 0 0 0 0.550 0 0 0 0 1" result="g"/><feComposite in="g" in2="SourceGraphic" operator="in"/></filter>
<filter id="clm3" filterUnits="userSpaceOnUse" x="138.2" y="1074.1" width="813.2" height="177.5" color-interpolation-filters="sRGB"><feTurbulence type="fractalNoise" baseFrequency="0.14 0.12" numOctaves="3" seed="53" result="n"/><feColorMatrix in="n" type="matrix" values="0.5 0 0 0 0.090 0.5 0 0 0 0.090 0.5 0 0 0 0.090 0 0 0 0 1" result="g"/><feComposite in="g" in2="SourceGraphic" operator="in"/></filter>
<linearGradient id="spkg3" x1="0" y1="0" x2="0" y2="1"><stop offset="0" stop-color="#fff"/><stop offset="0.5" stop-color="#fff"/><stop offset="1" stop-color="#000"/></linearGradient>
<filter id="mblur3" x="-5%" y="-30%" width="110%" height="160%"><feGaussianBlur stdDeviation="4"/></filter>
<mask id="spkm3" maskUnits="userSpaceOnUse" x="138.2" y="1074.1" width="813.2" height="56"><polygon points="120.0,1060.0 970.0,1060.0 970.0,1086.0 700.0,1087.0 560.0,1090.0 450.0,1098.0 300.0,1106.0 138.0,1110.0 120.0,1110.0" fill="#fff" filter="url(#mblur3)"/></mask>
<filter id="clmd3" filterUnits="userSpaceOnUse" x="138.2" y="1074.1" width="813.2" height="177.5" color-interpolation-filters="sRGB"><feTurbulence type="fractalNoise" baseFrequency="0.16 0.14" numOctaves="3" seed="63" result="n"/><feColorMatrix in="n" type="matrix" values="0.42 0 0 0 -0.040 0.42 0 0 0 -0.040 0.42 0 0 0 -0.040 0 0 0 0 1" result="g"/><feComposite in="g" in2="SourceGraphic" operator="in"/></filter>
<linearGradient id="lc3" x1="0" y1="0" x2="1" y2="0"><stop offset="0" stop-color="#e2e2e2"/><stop offset="0.45" stop-color="#fcfcfc"/><stop offset="1" stop-color="#f0f0f0"/></linearGradient>
<linearGradient id="rc3" x1="0" y1="0" x2="1" y2="0"><stop offset="0" stop-color="#a8a8a8"/><stop offset="0.5" stop-color="#dcdcdc"/><stop offset="1" stop-color="#c8c8c8"/></linearGradient>
<linearGradient id="lg3" x1="0" y1="0" x2="1" y2="0"><stop offset="0" stop-color="#fff" stop-opacity="0.55"/><stop offset="1" stop-color="#fff" stop-opacity="0"/></linearGradient>
</defs>
<g clip-path="url(#clip3)"><g style="filter:blur(0.6px)">
<rect x="135.2" y="1071.1" width="819.2" height="183.5" fill="#888" filter="url(#top3)"/>
<rect x="135.2" y="1071.1" width="819.2" height="183.5" fill="#888" opacity="0"/>
<g mask="url(#spkm3)"><rect x="138.2" y="1074.1" width="813.2" height="56" fill="#aaa" filter="url(#spk3)"/></g>
<rect x="462.5" y="1095.1" width="2.1" height="21.6" fill="url(#stkfade)" opacity="0.25"/><rect x="681.7" y="1089.9" width="1.2" height="44.0" fill="url(#stkfade)" opacity="0.37"/><rect x="215.8" y="1106.9" width="1.5" height="25.5" fill="url(#stkfade)" opacity="0.26"/><rect x="390.3" y="1088.3" width="1.8" height="41.6" fill="url(#stkfade)" opacity="0.34"/><rect x="798.8" y="1101.8" width="2.3" height="22.4" fill="url(#stkfade)" opacity="0.18"/><rect x="915.3" y="1106.7" width="2.0" height="25.3" fill="url(#stkfade)" opacity="0.12"/><rect x="369.0" y="1106.7" width="2.3" height="21.5" fill="url(#stkfade)" opacity="0.16"/><rect x="157.5" y="1085.8" width="2.1" height="24.5" fill="url(#stkfade)" opacity="0.20"/><rect x="209.0" y="1106.2" width="1.5" height="18.2" fill="url(#stkfade)" opacity="0.19"/><rect x="225.0" y="1086.7" width="0.8" height="47.1" fill="url(#stkfade)" opacity="0.30"/><rect x="748.7" y="1090.8" width="1.7" height="41.6" fill="url(#stkfade)" opacity="0.27"/><rect x="390.1" y="1104.9" width="1.0" height="29.6" fill="url(#stkfade)" opacity="0.27"/><rect x="446.7" y="1086.7" width="1.2" height="36.7" fill="url(#stkfade)" opacity="0.24"/><rect x="316.3" y="1106.8" width="1.3" height="21.8" fill="url(#stkfade)" opacity="0.32"/><rect x="367.6" y="1097.4" width="2.3" height="24.2" fill="url(#stkfade)" opacity="0.27"/><rect x="810.0" y="1092.7" width="1.3" height="25.0" fill="url(#stkfade)" opacity="0.16"/><rect x="271.7" y="1089.9" width="1.0" height="41.4" fill="url(#stkfade)" opacity="0.30"/><rect x="667.2" y="1085.5" width="2.1" height="43.7" fill="url(#stkfade)" opacity="0.29"/><rect x="160.6" y="1097.3" width="1.5" height="35.6" fill="url(#stkfade)" opacity="0.34"/><rect x="553.3" y="1092.3" width="2.0" height="33.4" fill="url(#stkfade)" opacity="0.22"/><rect x="528.7" y="1093.6" width="1.4" height="40.0" fill="url(#stkfade)" opacity="0.33"/><rect x="556.4" y="1096.9" width="1.5" height="24.1" fill="url(#stkfade)" opacity="0.37"/><rect x="634.0" y="1089.7" width="1.6" height="26.1" fill="url(#stkfade)" opacity="0.13"/><rect x="636.7" y="1092.3" width="1.5" height="37.2" fill="url(#stkfade)" opacity="0.23"/><rect x="428.5" y="1103.0" width="1.1" height="18.9" fill="url(#stkfade)" opacity="0.17"/><rect x="410.9" y="1107.1" width="1.0" height="11.7" fill="url(#stkfade)" opacity="0.13"/><rect x="341.5" y="1104.7" width="1.2" height="13.1" fill="url(#stkfade)" opacity="0.19"/><rect x="914.2" y="1096.5" width="1.6" height="35.8" fill="url(#stkfade)" opacity="0.24"/><rect x="271.6" y="1100.9" width="1.6" height="18.3" fill="url(#stkfade)" opacity="0.17"/><rect x="845.0" y="1106.1" width="1.7" height="22.9" fill="url(#stkfade)" opacity="0.38"/><rect x="152.2" y="1097.0" width="1.4" height="28.9" fill="url(#stkfade)" opacity="0.29"/><rect x="256.0" y="1100.9" width="1.0" height="14.1" fill="url(#stkfade)" opacity="0.25"/><rect x="779.7" y="1097.8" width="1.3" height="28.3" fill="url(#stkfade)" opacity="0.20"/><rect x="284.2" y="1091.9" width="1.8" height="41.3" fill="url(#stkfade)" opacity="0.34"/><rect x="796.9" y="1098.2" width="2.1" height="15.0" fill="url(#stkfade)" opacity="0.26"/><rect x="533.0" y="1085.3" width="2.4" height="49.0" fill="url(#stkfade)" opacity="0.37"/><rect x="280.3" y="1089.1" width="1.5" height="35.4" fill="url(#stkfade)" opacity="0.16"/><rect x="818.5" y="1096.4" width="1.4" height="19.5" fill="url(#stkfade)" opacity="0.32"/><rect x="222.0" y="1107.2" width="2.1" height="16.2" fill="url(#stkfade)" opacity="0.24"/><rect x="219.6" y="1107.8" width="2.2" height="16.1" fill="url(#stkfade)" opacity="0.32"/><rect x="846.4" y="1099.7" width="1.1" height="20.0" fill="url(#stkfade)" opacity="0.35"/><rect x="266.9" y="1096.1" width="1.7" height="36.9" fill="url(#stkfade)" opacity="0.29"/><rect x="303.9" y="1087.1" width="1.4" height="42.7" fill="url(#stkfade)" opacity="0.14"/><rect x="784.8" y="1096.9" width="2.0" height="19.4" fill="url(#stkfade)" opacity="0.22"/><rect x="184.6" y="1102.1" width="2.0" height="30.9" fill="url(#stkfade)" opacity="0.16"/><rect x="178.9" y="1088.5" width="1.3" height="45.0" fill="url(#stkfade)" opacity="0.15"/><rect x="671.8" y="1099.1" width="1.8" height="25.2" fill="url(#stkfade)" opacity="0.22"/><rect x="308.0" y="1091.4" width="1.2" height="30.5" fill="url(#stkfade)" opacity="0.18"/><rect x="627.2" y="1101.4" width="1.0" height="25.3" fill="url(#stkfade)" opacity="0.20"/><rect x="210.6" y="1105.0" width="1.5" height="15.8" fill="url(#stkfade)" opacity="0.28"/><rect x="262.5" y="1084.8" width="1.7" height="29.1" fill="url(#stkfade)" opacity="0.33"/><rect x="665.6" y="1105.6" width="1.3" height="23.8" fill="url(#stkfade)" opacity="0.13"/><rect x="329.6" y="1098.2" width="0.9" height="30.5" fill="url(#stkfade)" opacity="0.19"/><rect x="948.9" y="1103.6" width="0.8" height="15.2" fill="url(#stkfade)" opacity="0.27"/><rect x="345.3" y="1105.7" width="2.3" height="15.6" fill="url(#stkfade)" opacity="0.28"/><rect x="847.5" y="1084.5" width="2.2" height="47.0" fill="url(#stkfade)" opacity="0.24"/><rect x="787.0" y="1100.9" width="2.1" height="16.3" fill="url(#stkfade)" opacity="0.29"/><rect x="183.9" y="1098.9" width="2.2" height="29.4" fill="url(#stkfade)" opacity="0.29"/><rect x="294.3" y="1105.5" width="2.0" height="18.3" fill="url(#stkfade)" opacity="0.36"/><rect x="281.6" y="1104.5" width="1.7" height="30.4" fill="url(#stkfade)" opacity="0.16"/><rect x="473.3" y="1097.3" width="1.8" height="29.5" fill="url(#stkfade)" opacity="0.37"/><rect x="855.0" y="1084.9" width="1.6" height="40.0" fill="url(#stkfade)" opacity="0.35"/><rect x="814.5" y="1105.3" width="1.6" height="24.2" fill="url(#stkfade)" opacity="0.19"/><rect x="158.7" y="1084.7" width="0.9" height="40.2" fill="url(#stkfade)" opacity="0.34"/><rect x="490.9" y="1104.6" width="2.2" height="21.8" fill="url(#stkfade)" opacity="0.16"/><rect x="636.0" y="1094.2" width="1.4" height="17.3" fill="url(#stkfade)" opacity="0.20"/><rect x="482.5" y="1106.3" width="1.5" height="26.3" fill="url(#stkfade)" opacity="0.24"/><rect x="281.1" y="1102.2" width="1.8" height="19.8" fill="url(#stkfade)" opacity="0.24"/><rect x="410.8" y="1086.3" width="1.6" height="35.5" fill="url(#stkfade)" opacity="0.26"/><rect x="759.9" y="1093.9" width="1.8" height="27.6" fill="url(#stkfade)" opacity="0.30"/><rect x="486.0" y="1106.2" width="2.2" height="14.8" fill="url(#stkfade)" opacity="0.25"/><rect x="928.0" y="1090.4" width="0.8" height="31.7" fill="url(#stkfade)" opacity="0.15"/><rect x="571.1" y="1099.0" width="2.0" height="16.4" fill="url(#stkfade)" opacity="0.32"/><rect x="844.1" y="1099.6" width="1.2" height="16.0" fill="url(#stkfade)" opacity="0.36"/><rect x="472.2" y="1095.1" width="2.3" height="38.9" fill="url(#stkfade)" opacity="0.26"/><rect x="883.0" y="1103.6" width="1.2" height="20.3" fill="url(#stkfade)" opacity="0.19"/><rect x="792.3" y="1092.5" width="0.8" height="35.5" fill="url(#stkfade)" opacity="0.17"/><rect x="911.5" y="1102.6" width="1.1" height="21.8" fill="url(#stkfade)" opacity="0.12"/><rect x="673.1" y="1095.0" width="1.6" height="21.2" fill="url(#stkfade)" opacity="0.18"/><rect x="728.0" y="1105.7" width="1.1" height="27.9" fill="url(#stkfade)" opacity="0.14"/><rect x="186.8" y="1086.9" width="2.0" height="44.6" fill="url(#stkfade)" opacity="0.23"/><rect x="162.5" y="1087.5" width="1.1" height="21.2" fill="url(#stkfade)" opacity="0.16"/><rect x="657.9" y="1089.4" width="1.6" height="44.0" fill="url(#stkfade)" opacity="0.28"/><rect x="283.2" y="1084.2" width="1.8" height="39.3" fill="url(#stkfade)" opacity="0.16"/><rect x="167.0" y="1096.8" width="1.5" height="34.3" fill="url(#stkfade)" opacity="0.29"/><rect x="788.5" y="1101.9" width="1.6" height="21.3" fill="url(#stkfade)" opacity="0.29"/><rect x="222.5" y="1105.2" width="2.1" height="13.7" fill="url(#stkfade)" opacity="0.32"/><rect x="659.0" y="1102.1" width="1.4" height="23.7" fill="url(#stkfade)" opacity="0.34"/><rect x="142.5" y="1107.5" width="1.9" height="21.2" fill="url(#stkfade)" opacity="0.29"/><rect x="485.2" y="1099.8" width="2.4" height="16.0" fill="url(#stkfade)" opacity="0.37"/><rect x="627.0" y="1085.0" width="2.3" height="40.5" fill="url(#stkfade)" opacity="0.30"/><rect x="181.7" y="1086.0" width="2.1" height="38.4" fill="url(#stkfade)" opacity="0.36"/><rect x="765.5" y="1099.8" width="1.7" height="23.2" fill="url(#stkfade)" opacity="0.33"/><rect x="637.5" y="1092.1" width="1.1" height="25.4" fill="url(#stkfade)" opacity="0.38"/><rect x="290.9" y="1088.3" width="2.3" height="37.1" fill="url(#stkfade)" opacity="0.26"/><rect x="791.6" y="1084.7" width="1.7" height="47.2" fill="url(#stkfade)" opacity="0.34"/><rect x="887.8" y="1096.7" width="0.9" height="27.5" fill="url(#stkfade)" opacity="0.14"/><rect x="522.9" y="1100.2" width="1.4" height="26.9" fill="url(#stkfade)" opacity="0.26"/><rect x="495.7" y="1092.7" width="1.6" height="36.8" fill="url(#stkfade)" opacity="0.33"/><rect x="148.1" y="1100.6" width="1.1" height="31.7" fill="url(#stkfade)" opacity="0.36"/>
<polygon points="160.0,1234.0 400.0,1237.5 700.0,1238.5 925.0,1239.5 921.0,1253.0 165.0,1253.0" fill="#808080" filter="url(#stp3)"/>
<polygon points="138.0,1151.0 144.0,1147.5 151.4,1145.8 229.0,1139.2 294.8,1131.0 360.7,1126.0 430.0,1121.9 499.0,1118.6 597.8,1117.7 700.0,1114.4 824.8,1114.4 940.0,1115.5 946.0,1117.5 948.6,1122.0 948.6,1140.0 941.4,1152.7 935.1,1171.6 930.1,1196.7 925.1,1221.7 921.5,1239.8 700.0,1238.6 400.0,1237.6 165.0,1234.8 154.0,1200.0 146.0,1172.0" fill="#303030" filter="url(#drk3)"/>
<defs><clipPath id="bodyclip3"><polygon points="138.0,1151.0 144.0,1147.5 151.4,1145.8 229.0,1139.2 294.8,1131.0 360.7,1126.0 430.0,1121.9 499.0,1118.6 597.8,1117.7 700.0,1114.4 824.8,1114.4 940.0,1115.5 946.0,1117.5 948.6,1122.0 948.6,1140.0 941.4,1152.7 935.1,1171.6 930.1,1196.7 925.1,1221.7 921.5,1239.8 700.0,1238.6 400.0,1237.6 165.0,1234.8 154.0,1200.0 146.0,1172.0"/></clipPath></defs>
<path d="M139.0,1150.5 L145.0,1146.6 L152.0,1145.0 L229.0,1138.4 L294.8,1130.2 L360.0,1125.3" fill="none" stroke="#c8c8c8" stroke-width="1.2" stroke-linejoin="round" stroke-linecap="butt" opacity="0.8"/>
<g clip-path="url(#bodyclip3)">
<polygon points="186.0,1149.0 262.0,1140.0 300.0,1134.0 318.0,1138.0 300.0,1146.0 270.0,1148.0 245.0,1155.0 230.0,1166.0 236.0,1181.0 229.0,1195.0 241.0,1210.0 251.0,1222.0 259.0,1238.0 240.0,1240.0 226.0,1222.0 229.0,1203.0 209.0,1191.0 199.0,1178.0 187.0,1163.0" fill="#555" filter="url(#clm3)" opacity="0.8"/>
<polygon points="160.0,1218.0 183.0,1205.0 212.0,1204.0 229.0,1202.0 246.0,1215.0 254.0,1236.0 168.0,1236.0" fill="#555" filter="url(#clm3)" opacity="0.8"/>
<polygon points="139.5,1156.0 146.0,1149.5 175.0,1147.5 186.0,1150.0 187.0,1162.0 199.0,1177.0 209.0,1190.0 229.0,1201.8 212.4,1205.0 182.7,1205.0 171.0,1211.0 163.0,1216.6 154.7,1197.0 146.5,1172.0" fill="#0f0f0f" />
<rect x="220.1" y="1222.8" width="1.5" height="17.2" fill="#ddd" opacity="0.22"/><rect x="230.1" y="1221.6" width="1.4" height="18.4" fill="#ddd" opacity="0.37"/><rect x="181.0" y="1219.1" width="1.6" height="20.9" fill="#ddd" opacity="0.29"/><rect x="206.8" y="1224.5" width="2.1" height="15.5" fill="#ddd" opacity="0.41"/><rect x="222.2" y="1224.9" width="1.9" height="15.1" fill="#ddd" opacity="0.38"/><rect x="186.4" y="1217.0" width="2.3" height="23.0" fill="#ddd" opacity="0.43"/><rect x="183.1" y="1216.1" width="1.3" height="23.9" fill="#ddd" opacity="0.48"/><rect x="217.9" y="1226.8" width="1.8" height="13.2" fill="#ddd" opacity="0.37"/><rect x="180.0" y="1222.7" width="2.1" height="17.3" fill="#ddd" opacity="0.22"/><rect x="214.2" y="1226.9" width="1.9" height="13.1" fill="#ddd" opacity="0.21"/><rect x="204.1" y="1222.3" width="1.4" height="17.7" fill="#ddd" opacity="0.40"/><rect x="206.8" y="1216.9" width="1.5" height="23.1" fill="#ddd" opacity="0.29"/><rect x="225.7" y="1224.4" width="2.3" height="15.6" fill="#ddd" opacity="0.30"/><rect x="218.8" y="1217.5" width="2.1" height="22.5" fill="#ddd" opacity="0.37"/>
<rect x="281.6" y="1160" width="1.6" height="78" fill="#ddd" opacity="0.33"/>
<rect x="368" y="1158" width="1.6" height="80" fill="#ddd" opacity="0.36"/>
<rect x="305" y="1190" width="1.4" height="48" fill="#ddd" opacity="0.27"/>
<rect x="311" y="1196" width="1.2" height="40" fill="#ddd" opacity="0.21"/>
<rect x="238" y="1150" width="1.2" height="50" fill="#ddd" opacity="0.18"/>
<rect x="251" y="1152" width="1.2" height="38" fill="#ddd" opacity="0.18"/>
<rect x="330" y="1140" width="1.2" height="40" fill="#ddd" opacity="0.12"/>
<rect x="345" y="1135" width="1.2" height="65" fill="#ddd" opacity="0.12"/>
<rect x="391" y="1130" width="1.2" height="60" fill="#ddd" opacity="0.15"/>
<rect x="430" y="1130" width="1.2" height="50" fill="#ddd" opacity="0.12"/>
<rect x="444" y="1140" width="1.2" height="60" fill="#ddd" opacity="0.15"/>
<rect x="452" y="1200" width="1.2" height="35" fill="#ddd" opacity="0.18"/>
<rect x="520" y="1165" width="2.0" height="75" fill="#ddd" opacity="0.36"/>
<rect x="684" y="1130" width="1.8" height="115" fill="#ddd" opacity="0.27"/>
<rect x="699.6" y="1135" width="1.8" height="110" fill="#ddd" opacity="0.27"/>
<rect x="805" y="1125" width="1.6" height="120" fill="#ddd" opacity="0.21"/>
<rect x="816.6" y="1125" width="1.6" height="120" fill="#ddd" opacity="0.21"/>
<polygon points="522.0,1119.0 560.0,1119.0 575.0,1121.0 574.7,1147.0 570.0,1167.0 568.0,1193.0 556.0,1200.0 545.0,1210.0 548.0,1232.0 600.0,1238.0 690.0,1238.0 700.0,1216.0 690.0,1206.0 668.0,1197.0 668.0,1130.0 650.0,1119.0 600.0,1119.0 573.0,1121.0 545.0,1133.0 540.0,1150.0 548.0,1165.0 543.0,1180.0 528.0,1190.0 523.0,1200.0 530.0,1212.0 524.0,1212.0 519.0,1196.0 530.0,1180.0 535.0,1160.0 528.0,1140.0" fill="#555" filter="url(#clm3)" opacity="0.6"/>
<polygon points="600.0,1121.0 650.0,1119.0 668.0,1130.0 665.0,1160.0 668.0,1190.0 655.0,1200.0 620.0,1196.0 606.0,1185.0 598.0,1165.0 594.0,1145.0" fill="#6a6a6a" filter="url(#clm3)" opacity="0.9"/>
<polygon points="600.0,1121.0 650.0,1119.0 668.0,1130.0 665.0,1160.0 668.0,1190.0 655.0,1200.0 620.0,1196.0 606.0,1185.0 598.0,1165.0 594.0,1145.0" fill="#fff" opacity="0.10"/>
<polygon points="573.0,1121.0 599.4,1121.0 592.8,1144.0 597.8,1172.0 606.0,1188.6 589.5,1197.0 568.0,1193.6 569.8,1167.0 574.7,1147.4" fill="#0e0e0e" />
<polygon points="548.0,1212.0 560.0,1208.0 566.0,1220.0 560.0,1232.0 552.0,1228.0" fill="#0e0e0e" />
<polygon points="600.0,1222.0 618.0,1218.0 622.0,1230.0 606.0,1234.0" fill="#141414" />
<rect x="645.8" y="1220.8" width="2.0" height="21.2" fill="#ddd" opacity="0.16"/><rect x="695.5" y="1215.3" width="1.4" height="26.7" fill="#ddd" opacity="0.32"/><rect x="694.9" y="1220.7" width="2.0" height="21.3" fill="#ddd" opacity="0.23"/><rect x="594.5" y="1209.4" width="2.2" height="32.6" fill="#ddd" opacity="0.40"/><rect x="570.3" y="1208.7" width="2.1" height="33.3" fill="#ddd" opacity="0.21"/><rect x="587.7" y="1206.6" width="1.4" height="35.4" fill="#ddd" opacity="0.20"/><rect x="581.9" y="1217.8" width="1.3" height="24.2" fill="#ddd" opacity="0.18"/><rect x="613.9" y="1205.1" width="1.4" height="36.9" fill="#ddd" opacity="0.31"/><rect x="673.0" y="1211.6" width="2.0" height="30.4" fill="#ddd" opacity="0.19"/><rect x="637.7" y="1219.8" width="1.4" height="22.2" fill="#ddd" opacity="0.36"/><rect x="658.9" y="1206.6" width="2.0" height="35.4" fill="#ddd" opacity="0.32"/><rect x="578.3" y="1209.3" width="1.6" height="32.7" fill="#ddd" opacity="0.33"/><rect x="623.5" y="1208.1" width="1.9" height="33.9" fill="#ddd" opacity="0.24"/><rect x="665.9" y="1207.0" width="1.2" height="35.0" fill="#ddd" opacity="0.38"/><rect x="556.8" y="1218.0" width="2.1" height="24.0" fill="#ddd" opacity="0.38"/><rect x="596.7" y="1206.9" width="2.3" height="35.1" fill="#ddd" opacity="0.32"/><rect x="662.4" y="1206.1" width="1.5" height="35.9" fill="#ddd" opacity="0.33"/><rect x="559.5" y="1219.8" width="1.6" height="22.2" fill="#ddd" opacity="0.20"/>
<defs><linearGradient id="dkr3" x1="0" y1="0" x2="1" y2="0"><stop offset="0" stop-color="#000" stop-opacity="0"/><stop offset="1" stop-color="#000" stop-opacity="0.28"/></linearGradient></defs>
<rect x="560" y="1112" width="392" height="128" fill="url(#dkr3)"/>
<polygon points="690.0,1116.0 760.0,1117.0 800.0,1120.0 825.0,1116.0 850.0,1118.0 836.0,1124.0 812.0,1127.0 803.0,1150.0 812.0,1170.0 822.0,1190.0 800.0,1200.0 770.0,1204.0 745.0,1207.0 750.0,1202.0 780.0,1198.0 805.0,1190.0 802.0,1170.0 798.0,1150.0 802.0,1127.0 760.0,1121.0 700.0,1121.0" fill="#555" filter="url(#clm3)" opacity="0.75"/>
<polygon points="822.0,1143.0 860.0,1145.0 880.0,1150.0 905.0,1150.0 932.0,1156.0 945.0,1165.0 940.0,1202.0 930.0,1240.0 900.0,1240.0 850.0,1240.0 832.0,1238.0 824.0,1215.0 814.0,1200.0 824.0,1190.0 814.0,1170.0" fill="#111" filter="url(#clmd3)"/>
<polygon points="834.0,1150.0 860.0,1150.0 876.0,1156.0 904.0,1159.0 912.0,1167.0 905.0,1176.0 880.0,1178.0 870.0,1188.0 852.0,1184.0 842.0,1170.0" fill="#0e0e0e" opacity="0.85"/>
<polygon points="882.0,1181.0 905.0,1177.0 927.0,1170.0 933.0,1183.0 929.0,1199.0 915.0,1205.0 901.0,1200.0 891.0,1208.0 880.0,1199.0" fill="#0e0e0e" opacity="0.85"/>
<polygon points="824.0,1201.0 834.0,1197.0 841.0,1208.0 832.0,1213.0 825.0,1210.0" fill="#0e0e0e" opacity="0.8"/>
<rect x="879.3" y="1213.9" width="2.2" height="28.1" fill="#ddd" opacity="0.22"/><rect x="840.2" y="1226.7" width="1.3" height="15.3" fill="#ddd" opacity="0.20"/><rect x="867.0" y="1213.5" width="1.6" height="28.5" fill="#ddd" opacity="0.25"/><rect x="833.5" y="1217.6" width="1.4" height="24.4" fill="#ddd" opacity="0.24"/><rect x="840.7" y="1221.9" width="1.7" height="20.1" fill="#ddd" opacity="0.17"/><rect x="839.8" y="1215.7" width="1.5" height="26.3" fill="#ddd" opacity="0.23"/><rect x="898.5" y="1225.8" width="2.1" height="16.2" fill="#ddd" opacity="0.12"/><rect x="871.6" y="1219.3" width="1.4" height="22.7" fill="#ddd" opacity="0.35"/><rect x="919.4" y="1226.4" width="2.0" height="15.6" fill="#ddd" opacity="0.32"/><rect x="911.0" y="1215.3" width="2.0" height="26.7" fill="#ddd" opacity="0.13"/><rect x="823.9" y="1218.3" width="2.0" height="23.7" fill="#ddd" opacity="0.26"/><rect x="827.3" y="1213.2" width="2.0" height="28.8" fill="#ddd" opacity="0.23"/><rect x="838.2" y="1219.5" width="1.6" height="22.5" fill="#ddd" opacity="0.23"/><rect x="828.4" y="1215.6" width="1.2" height="26.4" fill="#ddd" opacity="0.16"/>
<ellipse cx="444" cy="1215" rx="1.4" ry="1.2" fill="#d0d0d0"/>
<ellipse cx="468" cy="1222.5" rx="1.5" ry="1.3" fill="#d0d0d0"/>
<ellipse cx="725" cy="1217.5" rx="2" ry="1.2" fill="#d0d0d0"/>
<ellipse cx="731" cy="1211" rx="1.2" ry="1" fill="#d0d0d0"/>
<ellipse cx="906" cy="1130.5" rx="1.3" ry="1.1" fill="#d0d0d0"/>
</g>
<rect x="138.2" y="1074.1" width="40" height="72" fill="url(#lg3)"/>
<defs><clipPath id="cc3l"><polygon points="137.0,1150.0 140.0,1156.0 146.5,1172.0 154.7,1197.0 163.0,1217.0 167.0,1236.0 171.0,1253.0 137.0,1253.0"/></clipPath></defs>
<polygon points="137.0,1150.0 140.0,1156.0 146.5,1172.0 154.7,1197.0 163.0,1217.0 167.0,1236.0 171.0,1253.0 137.0,1253.0" fill="url(#lc3)" />
<g clip-path="url(#cc3l)" fill="none">
<path d="M178.2,1174.0 Q156.2,1146.0 136.2,1140.0" stroke="#b4b4b4" stroke-width="1.2" opacity="0.35"/>
<path d="M178.2,1178.8 Q156.2,1150.8 136.2,1144.8" stroke="#ffffff" stroke-width="1.7" opacity="0.6"/>
<path d="M178.2,1185.4 Q156.2,1157.4 136.2,1151.4" stroke="#b4b4b4" stroke-width="1.4" opacity="0.35"/>
<path d="M178.2,1190.2 Q156.2,1162.2 136.2,1156.2" stroke="#ffffff" stroke-width="1.5" opacity="0.6"/>
<path d="M178.2,1197.0 Q156.2,1169.0 136.2,1163.0" stroke="#b4b4b4" stroke-width="1.4" opacity="0.35"/>
<path d="M178.2,1203.7 Q156.2,1175.7 136.2,1169.7" stroke="#ffffff" stroke-width="2.0" opacity="0.6"/>
<path d="M178.2,1208.6 Q156.2,1180.6 136.2,1174.6" stroke="#b4b4b4" stroke-width="1.8" opacity="0.35"/>
<path d="M178.2,1214.5 Q156.2,1186.5 136.2,1180.5" stroke="#ffffff" stroke-width="1.7" opacity="0.6"/>
<path d="M178.2,1222.0 Q156.2,1194.0 136.2,1188.0" stroke="#b4b4b4" stroke-width="1.3" opacity="0.35"/>
<path d="M178.2,1226.5 Q156.2,1198.5 136.2,1192.5" stroke="#ffffff" stroke-width="2.3" opacity="0.6"/>
<path d="M178.2,1232.2 Q156.2,1204.2 136.2,1198.2" stroke="#b4b4b4" stroke-width="1.4" opacity="0.35"/>
<path d="M178.2,1237.7 Q156.2,1209.7 136.2,1203.7" stroke="#ffffff" stroke-width="1.6" opacity="0.6"/>
<path d="M178.2,1245.1 Q156.2,1217.1 136.2,1211.1" stroke="#b4b4b4" stroke-width="1.5" opacity="0.35"/>
<path d="M178.2,1250.2 Q156.2,1222.2 136.2,1216.2" stroke="#ffffff" stroke-width="1.9" opacity="0.6"/>
<path d="M178.2,1256.4 Q156.2,1228.4 136.2,1222.4" stroke="#b4b4b4" stroke-width="2.3" opacity="0.35"/>
<path d="M178.2,1263.4 Q156.2,1235.4 136.2,1229.4" stroke="#ffffff" stroke-width="1.6" opacity="0.6"/>
<path d="M178.2,1268.5 Q156.2,1240.5 136.2,1234.5" stroke="#b4b4b4" stroke-width="2.2" opacity="0.35"/>
<path d="M178.2,1276.0 Q156.2,1248.0 136.2,1242.0" stroke="#ffffff" stroke-width="1.2" opacity="0.6"/>
<path d="M178.2,1282.7 Q156.2,1254.7 136.2,1248.7" stroke="#b4b4b4" stroke-width="2.2" opacity="0.35"/>
<path d="M178.2,1289.1 Q156.2,1261.1 136.2,1255.1" stroke="#ffffff" stroke-width="1.5" opacity="0.6"/>
<path d="M178.2,1296.0 Q156.2,1268.0 136.2,1262.0" stroke="#b4b4b4" stroke-width="2.1" opacity="0.35"/>
<path d="M178.2,1301.1 Q156.2,1273.1 136.2,1267.1" stroke="#ffffff" stroke-width="2.0" opacity="0.6"/>
<path d="M178.2,1306.3 Q156.2,1278.3 136.2,1272.3" stroke="#b4b4b4" stroke-width="1.2" opacity="0.35"/>
<path d="M178.2,1311.8 Q156.2,1283.8 136.2,1277.8" stroke="#ffffff" stroke-width="1.6" opacity="0.6"/>
</g>
<defs><clipPath id="cc3r"><polygon points="953.0,1136.0 948.6,1140.0 941.4,1152.7 935.1,1171.6 930.1,1196.7 925.1,1221.7 918.6,1253.0 953.0,1253.0"/></clipPath></defs>
<polygon points="953.0,1136.0 948.6,1140.0 941.4,1152.7 935.1,1171.6 930.1,1196.7 925.1,1221.7 918.6,1253.0 953.0,1253.0" fill="url(#rc3)" />
<g clip-path="url(#cc3r)" fill="none">
<path d="M911.4,1160.0 Q933.4,1132.0 953.4,1126.0" stroke="#6e6e6e" stroke-width="1.3" opacity="0.3"/>
<path d="M911.4,1165.1 Q933.4,1137.1 953.4,1131.1" stroke="#ffffff" stroke-width="1.6" opacity="0.45"/>
<path d="M911.4,1172.3 Q933.4,1144.3 953.4,1138.3" stroke="#6e6e6e" stroke-width="1.8" opacity="0.3"/>
<path d="M911.4,1179.0 Q933.4,1151.0 953.4,1145.0" stroke="#ffffff" stroke-width="1.3" opacity="0.45"/>
<path d="M911.4,1185.0 Q933.4,1157.0 953.4,1151.0" stroke="#6e6e6e" stroke-width="2.2" opacity="0.3"/>
<path d="M911.4,1191.1 Q933.4,1163.1 953.4,1157.1" stroke="#ffffff" stroke-width="2.3" opacity="0.45"/>
<path d="M911.4,1198.2 Q933.4,1170.2 953.4,1164.2" stroke="#6e6e6e" stroke-width="1.6" opacity="0.3"/>
<path d="M911.4,1202.7 Q933.4,1174.7 953.4,1168.7" stroke="#ffffff" stroke-width="2.1" opacity="0.45"/>
<path d="M911.4,1207.6 Q933.4,1179.6 953.4,1173.6" stroke="#6e6e6e" stroke-width="1.2" opacity="0.3"/>
<path d="M911.4,1214.3 Q933.4,1186.3 953.4,1180.3" stroke="#ffffff" stroke-width="2.2" opacity="0.45"/>
<path d="M911.4,1221.3 Q933.4,1193.3 953.4,1187.3" stroke="#6e6e6e" stroke-width="2.3" opacity="0.3"/>
<path d="M911.4,1226.4 Q933.4,1198.4 953.4,1192.4" stroke="#ffffff" stroke-width="1.3" opacity="0.45"/>
<path d="M911.4,1231.3 Q933.4,1203.3 953.4,1197.3" stroke="#6e6e6e" stroke-width="2.4" opacity="0.3"/>
<path d="M911.4,1236.1 Q933.4,1208.1 953.4,1202.1" stroke="#ffffff" stroke-width="1.4" opacity="0.45"/>
<path d="M911.4,1240.7 Q933.4,1212.7 953.4,1206.7" stroke="#6e6e6e" stroke-width="1.3" opacity="0.3"/>
<path d="M911.4,1245.3 Q933.4,1217.3 953.4,1211.3" stroke="#ffffff" stroke-width="1.6" opacity="0.45"/>
<path d="M911.4,1250.3 Q933.4,1222.3 953.4,1216.3" stroke="#6e6e6e" stroke-width="1.6" opacity="0.3"/>
<path d="M911.4,1257.6 Q933.4,1229.6 953.4,1223.6" stroke="#ffffff" stroke-width="1.4" opacity="0.45"/>
<path d="M911.4,1264.5 Q933.4,1236.5 953.4,1230.5" stroke="#6e6e6e" stroke-width="2.1" opacity="0.3"/>
<path d="M911.4,1270.7 Q933.4,1242.7 953.4,1236.7" stroke="#ffffff" stroke-width="1.9" opacity="0.45"/>
<path d="M911.4,1277.5 Q933.4,1249.5 953.4,1243.5" stroke="#6e6e6e" stroke-width="1.9" opacity="0.3"/>
<path d="M911.4,1282.7 Q933.4,1254.7 953.4,1248.7" stroke="#ffffff" stroke-width="1.6" opacity="0.45"/>
<path d="M911.4,1288.0 Q933.4,1260.0 953.4,1254.0" stroke="#6e6e6e" stroke-width="1.7" opacity="0.3"/>
<path d="M911.4,1295.4 Q933.4,1267.4 953.4,1261.4" stroke="#ffffff" stroke-width="1.7" opacity="0.45"/>
<path d="M911.4,1300.1 Q933.4,1272.1 953.4,1266.1" stroke="#6e6e6e" stroke-width="1.8" opacity="0.3"/>
<path d="M911.4,1307.1 Q933.4,1279.1 953.4,1273.1" stroke="#ffffff" stroke-width="1.7" opacity="0.45"/>
<path d="M911.4,1313.7 Q933.4,1285.7 953.4,1279.7" stroke="#6e6e6e" stroke-width="1.3" opacity="0.3"/>
</g>
</g></g>
<rect x="748.2" y="1082.6" width="198" height="5.8" fill="#ff0000"/>
<text x="150.2" y="1122.3" font-size="50" font-weight="bold" fill="#fff">iii</text>
</g>
<g id="panel-d">
<text x="1012.6" y="711.5" font-size="53" text-anchor="start" font-weight="bold" fill="#000" >d</text>
<text x="1461.3" y="718" font-size="36.8" font-weight="bold" text-anchor="middle">3.3 mAh cm<tspan font-size="66%" dy="-0.52em">-2</tspan><tspan dy="0.343em"> cycled</tspan></text>
<rect x="1107.5" y="728.6" width="708.7" height="553.4999999999999" fill="none" stroke="#686868" stroke-width="1.45"/>
<line x1="1107.5" y1="1282.1" x2="1107.5" y2="1289.1" stroke="#686868" stroke-width="1.45"/>
<line x1="1321.75" y1="1282.1" x2="1321.75" y2="1289.1" stroke="#686868" stroke-width="1.45"/>
<line x1="1536.0" y1="1282.1" x2="1536.0" y2="1289.1" stroke="#686868" stroke-width="1.45"/>
<line x1="1750.25" y1="1282.1" x2="1750.25" y2="1289.1" stroke="#686868" stroke-width="1.45"/>
<line x1="1214.625" y1="1282.1" x2="1214.625" y2="1289.1" stroke="#686868" stroke-width="1.45"/>
<line x1="1428.875" y1="1282.1" x2="1428.875" y2="1289.1" stroke="#686868" stroke-width="1.45"/>
<line x1="1643.125" y1="1282.1" x2="1643.125" y2="1289.1" stroke="#686868" stroke-width="1.45"/>
<line x1="1100.5" y1="728.6" x2="1107.5" y2="728.6" stroke="#686868" stroke-width="1.45"/>
<line x1="1100.5" y1="831.8199999999999" x2="1107.5" y2="831.8199999999999" stroke="#686868" stroke-width="1.45"/>
<line x1="1100.5" y1="935.04" x2="1107.5" y2="935.04" stroke="#686868" stroke-width="1.45"/>
<line x1="1100.5" y1="1038.26" x2="1107.5" y2="1038.26" stroke="#686868" stroke-width="1.45"/>
<line x1="1100.5" y1="1141.48" x2="1107.5" y2="1141.48" stroke="#686868" stroke-width="1.45"/>
<line x1="1100.5" y1="1244.7" x2="1107.5" y2="1244.7" stroke="#686868" stroke-width="1.45"/>
<line x1="1100.5" y1="780.21" x2="1107.5" y2="780.21" stroke="#686868" stroke-width="1.45"/>
<line x1="1100.5" y1="883.4300000000001" x2="1107.5" y2="883.4300000000001" stroke="#686868" stroke-width="1.45"/>
<line x1="1100.5" y1="986.6500000000001" x2="1107.5" y2="986.6500000000001" stroke="#686868" stroke-width="1.45"/>
<line x1="1100.5" y1="1089.8700000000001" x2="1107.5" y2="1089.8700000000001" stroke="#686868" stroke-width="1.45"/>
<line x1="1100.5" y1="1193.0900000000001" x2="1107.5" y2="1193.0900000000001" stroke="#686868" stroke-width="1.45"/>
<text x="1107.5" y="1311.3" font-size="22.4" text-anchor="middle" font-weight="normal" fill="#000" >0</text>
<text x="1321.75" y="1311.3" font-size="22.4" text-anchor="middle" font-weight="normal" fill="#000" >1.0</text>
<text x="1536.0" y="1311.3" font-size="22.4" text-anchor="middle" font-weight="normal" fill="#000" >2.0</text>
<text x="1750.25" y="1311.3" font-size="22.4" text-anchor="middle" font-weight="normal" fill="#000" >3.0</text>
<text x="1096.3" y="736.3952" font-size="22.4" text-anchor="end" font-weight="normal" fill="#000" >1.0</text>
<text x="1096.3" y="839.6152" font-size="22.4" text-anchor="end" font-weight="normal" fill="#000" >0.8</text>
<text x="1096.3" y="942.8352" font-size="22.4" text-anchor="end" font-weight="normal" fill="#000" >0.6</text>
<text x="1096.3" y="1046.0552" font-size="22.4" text-anchor="end" font-weight="normal" fill="#000" >0.4</text>
<text x="1096.3" y="1149.2752" font-size="22.4" text-anchor="end" font-weight="normal" fill="#000" >0.2</text>
<text x="1096.3" y="1252.4952" font-size="22.4" text-anchor="end" font-weight="normal" fill="#000" >0</text>
<line x1="1107.5" y1="1244.7" x2="1816.2" y2="1244.7" stroke="#686868" stroke-width="1.6" stroke-dasharray="8.3 5.85" stroke-dashoffset="6.6"/>
<path d="M1107.9,728.6 L1107.9,1100.0 L1107.9,1130.0 L1110.2,1150.0 L1111.2,1215.0 L1111.8,1250.0" fill="none" stroke="#000" stroke-width="4.2" stroke-linejoin="round" stroke-linecap="butt" />
<path d="M1107.9,1098.0 L1107.9,1250.0" fill="none" stroke="#0428ff" stroke-width="4.0" stroke-linejoin="round" stroke-linecap="butt" />
<path d="M1107.9,1174.0 L1107.9,1250.0" fill="none" stroke="#70ad47" stroke-width="4.0" stroke-linejoin="round" stroke-linecap="butt" />
<path d="M1108.5,1246.0 L1109.1,1251.0 L1111.5,1253.8 L1116.0,1254.5 L1118.5,1254.7 L1121.0,1254.8 L1123.5,1255.1 L1126.0,1254.7 L1128.5,1255.1 L1131.0,1253.5 L1133.5,1254.2 L1136.0,1255.1 L1138.5,1254.6 L1141.0,1255.0 L1143.5,1253.6 L1146.0,1254.2 L1148.5,1253.8 L1151.0,1254.4 L1153.5,1254.4 L1156.0,1253.4 L1158.5,1253.8 L1161.0,1253.9 L1163.5,1255.0 L1166.0,1254.8 L1168.5,1253.7 L1171.0,1254.8 L1173.5,1253.6 L1176.0,1254.5 L1178.5,1253.6 L1181.0,1253.4 L1183.5,1255.0 L1186.0,1253.8 L1188.5,1253.8 L1191.0,1255.2 L1193.5,1255.0 L1196.0,1253.9 L1198.5,1255.1 L1201.0,1254.4 L1203.5,1254.6 L1206.0,1253.8 L1208.5,1255.1 L1211.0,1254.6 L1213.5,1255.1 L1216.0,1255.0 L1218.5,1253.9 L1221.0,1254.1 L1223.5,1253.7 L1226.0,1253.7 L1228.5,1253.5 L1231.0,1253.9 L1233.5,1254.5 L1236.0,1253.4 L1238.5,1254.6 L1241.0,1254.0 L1243.5,1254.0 L1246.0,1254.9 L1248.5,1254.3 L1251.0,1254.0 L1253.5,1254.3 L1256.0,1254.7 L1258.5,1253.5 L1261.0,1255.2 L1263.5,1253.4 L1266.0,1254.7 L1268.5,1254.9 L1271.0,1253.4 L1273.5,1254.8 L1276.0,1254.1 L1278.5,1254.4 L1281.0,1253.4 L1283.5,1253.5 L1286.0,1253.7 L1288.5,1255.1 L1291.0,1253.8 L1293.5,1254.8 L1296.0,1255.1 L1298.5,1255.1 L1301.0,1254.0 L1303.5,1254.0 L1306.0,1254.3 L1308.5,1254.8 L1311.0,1253.6 L1313.5,1254.7 L1316.0,1254.8 L1318.5,1254.9 L1321.0,1253.5 L1323.5,1255.1 L1326.0,1253.6 L1328.5,1254.0 L1331.0,1254.5 L1333.5,1255.1 L1336.0,1254.0 L1338.5,1255.1 L1341.0,1254.4 L1343.5,1254.0 L1346.0,1254.0 L1348.5,1253.7 L1351.0,1253.5 L1353.5,1253.7 L1356.0,1254.6 L1358.5,1255.2 L1361.0,1253.7 L1363.5,1253.5 L1366.0,1255.2 L1368.5,1254.4 L1371.0,1254.1 L1373.5,1253.8 L1376.0,1254.5 L1378.5,1254.9 L1381.0,1254.2 L1383.5,1254.2 L1386.0,1253.5 L1388.5,1255.0 L1391.0,1253.5 L1393.5,1254.3 L1396.0,1254.9 L1398.5,1253.6 L1401.0,1254.7 L1403.5,1255.1 L1406.0,1254.5 L1408.5,1254.8 L1411.0,1253.6 L1413.5,1254.2 L1416.0,1253.7 L1418.5,1254.9 L1421.0,1253.9 L1423.5,1254.2 L1426.0,1255.2 L1428.5,1254.9 L1431.0,1255.2 L1433.5,1254.2 L1436.0,1254.3 L1438.5,1254.7 L1441.0,1254.3 L1443.5,1253.9 L1446.0,1254.1 L1448.5,1253.7 L1451.0,1254.1 L1453.5,1255.2 L1456.0,1255.1 L1458.5,1254.5 L1461.0,1254.3 L1463.5,1254.0 L1466.0,1253.6 L1468.5,1253.9 L1471.0,1254.8 L1473.5,1255.0 L1476.0,1254.1 L1478.5,1254.8 L1481.0,1254.8 L1483.5,1254.7 L1486.0,1254.6 L1488.5,1254.8 L1491.0,1254.1 L1493.5,1254.7 L1496.0,1253.9 L1498.5,1254.3 L1501.0,1254.8 L1503.5,1254.6 L1506.0,1253.9 L1508.5,1255.1 L1511.0,1254.6 L1513.5,1254.4 L1516.0,1253.4 L1518.5,1254.4 L1521.0,1253.9 L1523.5,1254.6 L1526.0,1254.2 L1528.5,1254.9 L1531.0,1254.6 L1533.5,1254.8 L1536.0,1254.0 L1538.5,1254.6 L1541.0,1254.7 L1543.5,1254.9 L1546.0,1254.0 L1548.5,1254.9 L1551.0,1255.0 L1553.5,1254.6 L1556.0,1255.2 L1558.5,1255.1 L1561.0,1254.3 L1563.5,1254.4 L1566.0,1253.7 L1568.5,1254.9 L1571.0,1255.1 L1573.5,1254.3 L1576.0,1254.6 L1578.5,1254.7 L1581.0,1254.7 L1583.5,1253.7 L1586.0,1254.8 L1588.5,1254.4 L1591.0,1254.6 L1593.5,1254.2 L1596.0,1254.5 L1598.5,1254.8 L1601.0,1254.5 L1603.5,1254.7 L1606.0,1253.4 L1608.5,1253.7 L1611.0,1254.2 L1613.5,1254.6 L1616.0,1253.8 L1618.5,1254.6 L1621.0,1254.5 L1623.5,1253.5 L1626.0,1254.2 L1628.5,1253.8 L1631.0,1253.5 L1633.5,1253.6 L1636.0,1254.0 L1638.5,1253.7 L1641.0,1253.7 L1643.5,1253.5 L1646.0,1254.2 L1648.5,1254.1 L1651.0,1254.5 L1653.5,1254.5 L1656.0,1253.8 L1658.5,1255.0 L1661.0,1253.4 L1663.5,1254.1 L1666.0,1253.9 L1668.5,1254.1 L1671.0,1253.6 L1673.5,1254.9 L1676.0,1254.1 L1678.5,1253.5 L1681.0,1254.5 L1683.5,1253.6 L1686.0,1254.4 L1688.5,1254.0 L1691.0,1254.4 L1693.5,1255.1 L1696.0,1254.9 L1698.5,1254.2 L1701.0,1254.9 L1703.5,1254.6 L1706.0,1254.1 L1708.5,1253.7 L1711.0,1254.5 L1713.5,1254.4 L1716.0,1255.1 L1718.5,1255.1 L1721.0,1254.5 L1723.5,1254.0 L1726.0,1255.0 L1728.5,1253.4 L1731.0,1253.6 L1733.5,1254.4 L1736.0,1254.5 L1738.5,1253.7 L1741.0,1254.5 L1743.5,1255.0 L1746.0,1254.1 L1748.5,1254.2 L1751.0,1253.8 L1753.5,1253.9 L1756.0,1255.2 L1758.5,1254.1 L1761.0,1255.1 L1763.5,1255.0 L1766.0,1254.5 L1768.5,1253.9 L1771.0,1255.2 L1773.5,1254.3 L1776.0,1254.1 L1778.5,1254.0 L1781.0,1255.2 L1783.5,1254.3 L1786.0,1253.9 L1788.5,1254.3 L1791.0,1253.6 L1793.5,1254.5 L1796.0,1254.2 L1798.5,1253.9 L1801.0,1254.8 L1803.5,1254.9 L1806.0,1253.4 L1808.5,1254.4 L1811.0,1253.9 L1813.5,1255.1 L1816.0,1254.8 L1816.2,1254.3" fill="none" stroke="#000" stroke-width="4.8" stroke-linejoin="round" stroke-linecap="butt" />
<path d="M1110.6,1236.2 L1112.0,1235.2 L1115.0,1234.5 L1117.5,1234.6 L1120.0,1234.4 L1122.5,1235.9 L1125.0,1234.6 L1127.5,1235.2 L1130.0,1235.0 L1132.5,1235.3 L1135.0,1235.2 L1137.5,1235.4 L1140.0,1234.3 L1142.5,1235.5 L1145.0,1234.6 L1147.5,1235.1 L1150.0,1234.7 L1152.5,1234.6 L1155.0,1235.1 L1157.5,1234.9 L1160.0,1234.7 L1162.5,1235.4 L1165.0,1235.2 L1167.5,1234.2 L1170.0,1234.6 L1172.5,1234.9 L1175.0,1235.7 L1177.5,1235.7 L1180.0,1235.1 L1182.5,1234.1 L1185.0,1235.5 L1187.5,1234.9 L1190.0,1235.1 L1192.5,1235.4 L1195.0,1235.2 L1197.5,1235.0 L1200.0,1235.7 L1202.5,1234.8 L1205.0,1234.8 L1207.5,1235.6 L1210.0,1234.5 L1212.5,1234.6 L1215.0,1235.6 L1217.5,1234.2 L1220.0,1235.6 L1222.5,1235.4 L1225.0,1234.9 L1227.5,1234.6 L1230.0,1235.5 L1232.5,1235.7 L1235.0,1234.4 L1237.5,1235.0 L1240.0,1235.1 L1242.5,1235.0 L1245.0,1234.7 L1247.5,1234.4 L1250.0,1235.2 L1252.5,1235.6 L1255.0,1234.2 L1257.5,1234.5 L1260.0,1235.6 L1262.5,1235.5 L1265.0,1235.3 L1267.5,1234.1 L1270.0,1235.4 L1272.5,1235.9 L1275.0,1235.9 L1277.5,1235.4 L1280.0,1234.2 L1282.5,1235.6 L1285.0,1234.5 L1287.5,1235.3 L1290.0,1235.8 L1292.5,1235.4 L1295.0,1234.3 L1297.5,1234.6 L1300.0,1235.8 L1302.5,1234.4 L1305.0,1235.2 L1307.5,1234.8 L1310.0,1234.4 L1312.5,1235.2 L1315.0,1234.2 L1317.5,1234.3 L1320.0,1234.8 L1322.5,1234.2 L1325.0,1234.2 L1327.5,1235.1 L1330.0,1235.4 L1332.5,1235.7 L1335.0,1234.3 L1337.5,1234.9 L1340.0,1234.7 L1342.5,1235.2 L1345.0,1235.0 L1347.5,1235.8 L1350.0,1234.8 L1352.5,1234.2 L1355.0,1235.4 L1357.5,1234.4 L1360.0,1235.2 L1362.5,1235.0 L1365.0,1235.7 L1367.5,1235.1 L1370.0,1235.2 L1372.5,1234.6 L1375.0,1235.1 L1377.5,1234.6 L1380.0,1235.5 L1382.5,1235.0 L1385.0,1234.3 L1387.5,1234.5 L1390.0,1234.8 L1392.5,1235.4 L1395.0,1234.4 L1397.5,1235.4 L1400.0,1235.3 L1402.5,1234.3 L1405.0,1235.3 L1407.5,1234.3 L1410.0,1234.3 L1412.5,1235.2 L1415.0,1234.5 L1417.5,1235.7 L1420.0,1235.0 L1422.5,1234.7 L1425.0,1235.5 L1427.5,1234.2 L1430.0,1235.4 L1432.5,1234.2 L1435.0,1234.4 L1437.5,1235.8 L1440.0,1235.3 L1442.5,1234.5 L1445.0,1234.3 L1447.5,1235.9 L1450.0,1235.3 L1452.5,1235.6 L1455.0,1234.4 L1457.5,1235.2 L1460.0,1234.7 L1462.5,1234.5 L1465.0,1234.7 L1467.5,1235.2 L1470.0,1234.7 L1472.5,1234.8 L1475.0,1234.3 L1477.5,1235.6 L1480.0,1235.3 L1482.5,1235.5 L1485.0,1234.9 L1487.5,1235.6 L1490.0,1235.0 L1492.5,1235.2 L1495.0,1235.1 L1497.5,1235.4 L1500.0,1234.8 L1502.5,1234.3 L1505.0,1234.2 L1507.5,1234.5 L1510.0,1234.2 L1512.5,1235.7 L1515.0,1234.9 L1517.5,1235.4 L1520.0,1234.1 L1522.5,1234.9 L1525.0,1235.6 L1527.5,1235.1 L1530.0,1234.8 L1532.5,1234.8 L1535.0,1234.2 L1537.5,1234.3 L1540.0,1234.3 L1542.5,1234.6 L1545.0,1234.6 L1547.5,1235.5 L1550.0,1234.2 L1552.5,1234.4 L1555.0,1234.4 L1557.5,1234.2 L1560.0,1234.4 L1562.5,1234.2 L1565.0,1234.7 L1567.5,1233.8 L1570.0,1235.4 L1572.5,1234.4 L1575.0,1235.4 L1577.5,1234.9 L1580.0,1234.9 L1582.5,1234.5 L1585.0,1235.3 L1587.5,1233.8 L1590.0,1234.8 L1592.5,1234.1 L1595.0,1234.7 L1597.5,1234.8 L1600.0,1233.7 L1602.5,1233.8 L1605.0,1233.4 L1607.5,1233.8 L1610.0,1233.5 L1612.5,1234.0 L1615.0,1235.0 L1617.5,1233.9 L1620.0,1233.7 L1622.5,1234.0 L1625.0,1233.6 L1627.5,1234.4 L1630.0,1234.3 L1632.5,1233.3 L1635.0,1233.4 L1637.5,1234.1 L1640.0,1234.6 L1642.5,1234.0 L1645.0,1233.6 L1647.5,1234.5 L1650.0,1232.7 L1652.5,1232.8 L1655.0,1234.0 L1657.5,1233.3 L1660.0,1232.6 L1662.5,1233.4 L1665.0,1234.2 L1667.5,1233.3 L1670.0,1232.9 L1672.5,1232.4 L1675.0,1232.3 L1677.5,1233.8 L1680.0,1233.0 L1682.5,1233.7 L1685.0,1232.1 L1687.5,1232.4 L1690.0,1232.0 L1692.5,1232.5 L1695.0,1231.9 L1697.5,1232.2 L1700.0,1232.4 L1702.5,1232.1 L1705.0,1231.6 L1707.5,1231.5 L1710.0,1233.2 L1712.5,1231.7 L1715.0,1232.2 L1717.5,1231.9 L1720.0,1232.1 L1722.5,1231.2 L1725.0,1231.6 L1727.5,1231.1 L1730.0,1231.9 L1732.5,1232.5 L1735.0,1231.8 L1737.5,1232.2 L1740.0,1231.0 L1742.5,1230.6 L1745.0,1231.4 L1747.5,1231.3" fill="none" stroke="#000" stroke-width="4.8" stroke-linejoin="round" stroke-linecap="butt" />
<path d="M1742.2,1231.4 C1743.8,1231.4 1746.6,1231.5 1750.2,1231.2 C1753.9,1230.9 1756.2,1230.8 1760.5,1230.1 C1764.7,1229.4 1768.1,1228.7 1771.4,1227.7 C1774.8,1226.7 1775.0,1226.3 1777.2,1225.1 C1779.5,1223.8 1781.1,1222.6 1782.6,1221.3 C1784.2,1220.0 1784.2,1219.6 1785.0,1218.6 C1785.8,1217.7 1786.1,1217.7 1786.8,1216.4 C1787.5,1215.2 1787.9,1214.3 1788.6,1212.5 C1789.3,1210.6 1789.8,1208.6 1790.3,1207.1 C1790.9,1205.7 1790.8,1206.1 1791.2,1205.2 C1791.7,1204.3 1792.1,1203.6 1792.6,1202.6 C1793.2,1201.6 1793.5,1201.2 1793.9,1200.0 C1794.3,1198.9 1794.3,1198.1 1794.6,1196.7 C1794.8,1195.2 1794.9,1194.5 1795.0,1192.7 C1795.2,1191.0 1795.2,1190.8 1795.3,1187.8 C1795.4,1184.8 1795.4,1181.9 1795.5,1177.9 C1795.7,1174.0 1795.7,1171.4 1795.8,1168.1 C1795.9,1164.7 1796.0,1163.3 1796.1,1161.1 C1796.2,1159.0 1796.2,1158.3 1796.4,1157.2 C1796.6,1156.1 1796.8,1156.3 1797.0,1155.8 C1797.3,1155.3 1797.5,1155.4 1797.8,1154.6 C1798.0,1153.8 1798.0,1153.9 1798.1,1151.9 C1798.2,1149.8 1798.3,1148.2 1798.4,1144.4 C1798.5,1140.5 1798.5,1140.4 1798.6,1132.5 C1798.6,1124.6 1798.6,1118.3 1798.6,1104.9 C1798.7,1091.5 1798.6,1076.5 1798.6,1065.4 C1798.7,1054.4 1798.7,1058.7 1798.8,1049.6 C1798.9,1040.5 1798.9,1028.7 1799.0,1020.0 C1799.1,1011.3 1799.2,1012.9 1799.3,1006.2 C1799.3,999.5 1799.4,1004.4 1799.4,986.4 C1799.5,968.5 1799.5,968.3 1799.6,916.6 C1799.6,865.0 1799.7,765.8 1799.7,728.1" fill="none" stroke="#000" stroke-width="4.2" stroke-linejoin="round" stroke-linecap="butt" />
<path d="M1108.5,1246.0 L1109.1,1251.0 L1111.5,1253.8 L1116.0,1254.4 L1118.5,1254.1 L1121.0,1254.5 L1123.5,1254.7 L1126.0,1255.0 L1128.5,1254.0 L1131.0,1254.2 L1133.5,1254.9 L1136.0,1253.8 L1138.5,1253.6 L1141.0,1254.0 L1143.5,1253.6 L1146.0,1254.8 L1148.5,1254.9 L1151.0,1254.0 L1153.5,1253.6 L1156.0,1253.5 L1158.5,1253.8 L1161.0,1253.6 L1163.5,1254.2 L1166.0,1254.4 L1168.5,1253.8 L1171.0,1253.5 L1173.5,1254.7 L1176.0,1253.5 L1178.5,1253.8 L1181.0,1253.9 L1183.5,1254.1 L1186.0,1253.6 L1188.5,1254.2 L1191.0,1254.0 L1193.5,1254.8 L1196.0,1254.4 L1198.5,1255.0 L1201.0,1254.6 L1203.5,1254.8 L1206.0,1254.4 L1208.5,1254.2 L1211.0,1254.9 L1213.5,1254.6 L1216.0,1255.1 L1218.5,1254.7 L1221.0,1254.7 L1223.5,1253.9 L1226.0,1254.9 L1228.5,1254.1 L1231.0,1253.6 L1233.5,1253.5 L1236.0,1253.7 L1238.5,1253.9 L1241.0,1254.6 L1243.5,1253.9 L1246.0,1253.5 L1248.5,1254.8 L1251.0,1254.4 L1253.5,1253.4 L1256.0,1253.5 L1258.5,1253.6 L1261.0,1254.0 L1263.5,1254.9 L1266.0,1255.1 L1268.5,1254.5 L1271.0,1253.8 L1273.5,1254.2 L1276.0,1254.1 L1278.5,1254.0 L1281.0,1253.4 L1283.5,1254.5 L1286.0,1254.9 L1288.5,1254.7 L1291.0,1253.6 L1293.5,1254.4 L1296.0,1253.7 L1298.5,1254.7 L1301.0,1254.2 L1303.5,1255.1 L1306.0,1254.8 L1308.5,1253.6 L1311.0,1254.0 L1313.5,1255.0 L1316.0,1254.2 L1318.5,1254.2 L1321.0,1254.2 L1323.5,1254.8 L1326.0,1255.1 L1328.5,1254.4 L1331.0,1255.1 L1333.5,1254.5 L1336.0,1253.6 L1338.5,1254.9 L1341.0,1254.2 L1343.5,1253.5 L1346.0,1255.2 L1348.5,1253.5 L1351.0,1254.4 L1353.5,1254.3 L1356.0,1255.0 L1358.5,1254.1 L1361.0,1253.8 L1363.5,1253.9 L1366.0,1253.8 L1368.5,1254.4 L1371.0,1254.0 L1373.5,1254.8 L1376.0,1253.8 L1378.5,1254.0 L1381.0,1253.8 L1383.5,1255.2 L1386.0,1254.9 L1388.5,1254.9 L1391.0,1254.5 L1393.5,1254.1 L1396.0,1253.7 L1398.5,1254.9 L1401.0,1254.3 L1403.5,1253.5 L1406.0,1253.7 L1408.5,1253.6 L1411.0,1254.7 L1413.5,1255.0 L1416.0,1253.8 L1418.5,1254.8 L1421.0,1254.0 L1423.5,1254.6 L1426.0,1255.0 L1428.5,1254.5 L1431.0,1254.8 L1433.5,1254.1 L1436.0,1253.4 L1438.5,1254.3 L1441.0,1254.5 L1443.5,1253.7 L1446.0,1254.1 L1448.5,1254.0 L1451.0,1253.4 L1453.5,1254.0 L1456.0,1254.1 L1458.5,1254.3 L1461.0,1254.7 L1463.5,1254.1 L1466.0,1255.2 L1468.5,1254.9 L1471.0,1255.1 L1473.5,1254.6 L1476.0,1254.6 L1478.5,1254.4 L1481.0,1254.8 L1483.5,1254.1 L1486.0,1254.5 L1488.5,1254.6 L1491.0,1254.3 L1493.5,1253.9 L1496.0,1253.5 L1498.5,1253.6 L1501.0,1254.0 L1503.5,1254.4 L1506.0,1254.8 L1508.5,1254.7 L1511.0,1254.0 L1513.5,1255.1 L1516.0,1253.9 L1518.5,1254.7 L1521.0,1253.5 L1523.5,1254.8 L1526.0,1254.6 L1528.5,1255.1 L1531.0,1255.0 L1533.5,1254.6 L1536.0,1254.9 L1538.5,1254.7 L1541.0,1254.5 L1543.5,1253.8 L1546.0,1254.3 L1548.5,1255.0 L1551.0,1253.8 L1553.5,1255.2 L1556.0,1254.4 L1558.5,1254.1 L1561.0,1253.4 L1563.5,1254.1 L1566.0,1253.7 L1568.5,1254.6 L1571.0,1255.0 L1573.5,1255.0 L1576.0,1254.5 L1578.5,1254.1 L1581.0,1253.6 L1583.5,1254.6 L1586.0,1254.4 L1588.5,1254.7 L1591.0,1254.1 L1593.5,1255.0 L1596.0,1253.8 L1598.5,1254.0 L1601.0,1253.9 L1603.5,1254.5 L1606.0,1255.0 L1608.5,1253.7 L1611.0,1254.5 L1613.5,1254.8 L1616.0,1253.8 L1618.5,1253.5 L1621.0,1254.4 L1623.5,1254.9 L1626.0,1255.0 L1628.5,1254.7 L1631.0,1254.2 L1633.5,1254.2 L1636.0,1254.4 L1638.5,1255.0 L1641.0,1253.9 L1643.5,1253.9 L1646.0,1254.5 L1648.5,1255.1 L1651.0,1253.7 L1653.5,1253.5 L1656.0,1253.6 L1658.5,1254.4 L1661.0,1254.5 L1663.5,1253.7 L1666.0,1253.7 L1668.5,1254.5 L1671.0,1254.6 L1673.5,1254.6 L1676.0,1254.7 L1678.5,1253.5 L1681.0,1254.3 L1683.5,1254.9 L1686.0,1255.1 L1688.5,1254.0 L1691.0,1254.9 L1693.5,1254.6 L1696.0,1255.1 L1698.5,1253.8 L1701.0,1254.7 L1703.5,1254.9 L1706.0,1254.3 L1708.5,1253.6 L1711.0,1253.7 L1713.5,1253.7 L1716.0,1253.6 L1718.5,1253.7 L1721.0,1254.5 L1723.5,1253.6 L1726.0,1254.8 L1728.5,1254.7 L1731.0,1254.9 L1733.5,1254.8 L1736.0,1254.7 L1738.5,1255.1 L1741.0,1255.1 L1743.5,1254.5 L1746.0,1255.1 L1748.5,1253.6 L1751.0,1253.6 L1753.5,1253.5 L1756.0,1253.8 L1758.5,1254.1 L1761.0,1254.2 L1763.5,1254.6 L1766.0,1254.7 L1768.5,1253.6 L1771.0,1254.1 L1773.5,1254.4 L1776.0,1254.1 L1778.5,1253.6 L1781.0,1254.5 L1783.5,1254.1 L1786.0,1254.6 L1788.5,1254.3 L1791.0,1255.1 L1793.5,1255.1 L1796.0,1253.5 L1798.5,1254.8 L1801.0,1254.7 L1803.5,1253.9 L1806.0,1253.6 L1808.5,1254.3 L1811.0,1254.0 L1813.5,1254.7 L1816.0,1255.1 L1816.2,1254.3" fill="none" stroke="#76309c" stroke-width="4.8" stroke-linejoin="round" stroke-linecap="butt" />
<path d="M1110.6,1236.2 L1112.0,1235.2 L1115.0,1234.8 L1117.5,1234.6 L1120.0,1235.0 L1122.5,1235.4 L1125.0,1235.5 L1127.5,1235.1 L1130.0,1234.6 L1132.5,1234.7 L1135.0,1235.6 L1137.5,1235.0 L1140.0,1234.2 L1142.5,1234.9 L1145.0,1234.5 L1147.5,1235.3 L1150.0,1234.2 L1152.5,1234.6 L1155.0,1234.3 L1157.5,1235.0 L1160.0,1235.9 L1162.5,1235.1 L1165.0,1234.8 L1167.5,1235.8 L1170.0,1234.3 L1172.5,1234.7 L1175.0,1235.6 L1177.5,1234.1 L1180.0,1235.5 L1182.5,1234.7 L1185.0,1234.1 L1187.5,1234.6 L1190.0,1234.9 L1192.5,1234.8 L1195.0,1235.0 L1197.5,1234.2 L1200.0,1234.5 L1202.5,1235.9 L1205.0,1234.9 L1207.5,1234.9 L1210.0,1234.3 L1212.5,1234.6 L1215.0,1235.8 L1217.5,1235.3 L1220.0,1235.0 L1222.5,1234.2 L1225.0,1234.8 L1227.5,1235.5 L1230.0,1234.9 L1232.5,1235.2 L1235.0,1235.7 L1237.5,1235.3 L1240.0,1235.2 L1242.5,1234.2 L1245.0,1234.1 L1247.5,1235.5 L1250.0,1234.8 L1252.5,1235.7 L1255.0,1235.6 L1257.5,1235.7 L1260.0,1234.8 L1262.5,1235.9 L1265.0,1235.5 L1267.5,1235.7 L1270.0,1234.4 L1272.5,1235.5 L1275.0,1234.9 L1277.5,1235.8 L1280.0,1235.9 L1282.5,1234.5 L1285.0,1234.9 L1287.5,1234.6 L1290.0,1234.9 L1292.5,1234.6 L1295.0,1235.3 L1297.5,1234.3 L1300.0,1234.4 L1302.5,1234.9 L1305.0,1234.2 L1307.5,1234.8 L1310.0,1235.7 L1312.5,1235.7 L1315.0,1234.5 L1317.5,1234.1 L1320.0,1235.6 L1322.5,1235.8 L1325.0,1235.2 L1327.5,1234.3 L1330.0,1234.5 L1332.5,1235.8 L1335.0,1235.8 L1337.5,1234.2 L1340.0,1234.4 L1342.5,1234.9 L1345.0,1234.6 L1347.5,1235.5 L1350.0,1234.8 L1352.5,1235.5 L1355.0,1234.4 L1357.5,1235.0 L1360.0,1235.9 L1362.5,1235.4 L1365.0,1234.3 L1367.5,1234.3 L1370.0,1235.3 L1372.5,1234.8 L1375.0,1234.8 L1377.5,1235.0 L1380.0,1235.1 L1382.5,1235.8 L1385.0,1234.5 L1387.5,1235.1 L1390.0,1234.6 L1392.5,1235.1 L1395.0,1235.4 L1397.5,1234.3 L1400.0,1235.0 L1402.5,1235.4 L1405.0,1234.1 L1407.5,1235.5 L1410.0,1234.9 L1412.5,1235.0 L1415.0,1235.2 L1417.5,1235.5 L1420.0,1234.2 L1422.5,1235.0 L1425.0,1234.2 L1427.5,1234.8 L1430.0,1234.7 L1432.5,1234.1 L1435.0,1234.6 L1437.5,1234.9 L1440.0,1235.3 L1442.5,1235.8 L1445.0,1234.8 L1447.5,1235.1 L1450.0,1235.4 L1452.5,1235.8 L1455.0,1235.8 L1457.5,1235.9 L1460.0,1234.6 L1462.5,1234.4 L1465.0,1235.8 L1467.5,1234.2 L1470.0,1234.9 L1472.5,1235.4 L1475.0,1235.1 L1477.5,1234.8 L1480.0,1235.8 L1482.5,1234.6 L1485.0,1235.1 L1487.5,1235.6 L1490.0,1234.3 L1492.5,1234.7 L1495.0,1235.0 L1497.5,1235.1 L1500.0,1234.5 L1502.5,1234.9 L1505.0,1234.2 L1507.5,1234.3 L1510.0,1234.7 L1512.5,1234.4 L1515.0,1235.8 L1517.5,1234.6 L1520.0,1234.6 L1522.5,1235.5 L1525.0,1235.4 L1527.5,1234.6 L1530.0,1235.6 L1532.5,1235.2 L1535.0,1234.8 L1537.5,1235.2 L1540.0,1234.5 L1542.5,1234.5 L1545.0,1235.6 L1547.5,1234.8 L1550.0,1235.7 L1552.5,1234.4 L1555.0,1234.3 L1557.5,1234.1 L1560.0,1235.4 L1562.5,1235.0 L1565.0,1234.0 L1567.5,1234.1 L1570.0,1235.5 L1572.5,1234.9 L1575.0,1235.6 L1577.5,1234.1 L1580.0,1235.0 L1582.5,1234.2 L1585.0,1235.3 L1587.5,1235.0 L1590.0,1235.0 L1592.5,1234.3 L1595.0,1235.6 L1597.5,1234.1 L1600.0,1234.0 L1602.5,1235.1 L1605.0,1234.1 L1607.5,1234.0 L1610.0,1234.7 L1612.5,1235.0 L1615.0,1235.5 L1617.5,1235.1 L1620.0,1234.0 L1622.5,1235.0 L1625.0,1235.3 L1627.5,1234.0 L1630.0,1235.1 L1632.5,1234.2 L1635.0,1234.3 L1637.5,1233.7 L1640.0,1235.1 L1642.5,1234.6 L1645.0,1235.3 L1647.5,1234.5 L1650.0,1234.0 L1652.5,1234.1 L1655.0,1234.1 L1657.5,1235.3 L1660.0,1234.0 L1662.5,1233.8 L1665.0,1234.2 L1667.5,1233.7 L1670.0,1234.3 L1672.5,1234.7 L1675.0,1234.7 L1677.5,1233.8 L1680.0,1233.8 L1682.5,1234.4 L1685.0,1234.7 L1687.5,1234.3 L1690.0,1234.5 L1692.5,1235.1 L1695.0,1233.7 L1697.5,1233.9 L1700.0,1234.3 L1702.5,1234.3 L1705.0,1235.0 L1707.5,1234.3 L1710.0,1234.5 L1712.5,1234.0 L1715.0,1234.7 L1717.5,1234.8 L1720.0,1233.8 L1722.5,1233.4 L1725.0,1233.7 L1727.5,1233.8 L1730.0,1234.7 L1732.5,1233.6 L1735.0,1234.2 L1737.5,1234.2 L1740.0,1234.8 L1742.5,1233.3 L1745.0,1234.4 L1747.5,1233.6" fill="none" stroke="#76309c" stroke-width="4.8" stroke-linejoin="round" stroke-linecap="butt" />
<path d="M1742.2,1233.9 C1743.8,1233.9 1746.6,1234.0 1750.2,1233.9 C1753.9,1233.7 1756.2,1233.6 1760.5,1233.2 C1764.7,1232.9 1768.1,1232.5 1771.4,1232.1 C1774.8,1231.8 1775.0,1231.7 1777.2,1231.3 C1779.5,1231.0 1781.1,1230.7 1782.6,1230.4 C1784.2,1230.1 1784.2,1230.1 1785.0,1229.9 C1785.8,1229.6 1785.7,1230.8 1786.8,1229.3 C1787.9,1227.7 1788.9,1224.9 1790.3,1222.3 C1791.7,1219.8 1792.8,1218.6 1793.9,1216.4 C1794.9,1214.3 1795.0,1213.5 1795.6,1211.5 C1796.3,1209.5 1796.5,1208.1 1797.0,1206.6 C1797.6,1205.0 1797.9,1204.8 1798.3,1203.6 C1798.7,1202.4 1798.9,1202.0 1799.2,1200.6 C1799.4,1199.2 1799.5,1198.9 1799.6,1196.7 C1799.8,1194.5 1799.8,1193.1 1799.9,1189.8 C1800.0,1186.4 1800.0,1184.2 1800.1,1179.9 C1800.1,1175.6 1800.2,1171.8 1800.2,1168.1 C1800.3,1164.3 1800.3,1163.3 1800.4,1161.1 C1800.5,1159.0 1800.6,1158.1 1800.8,1157.2 C1801.0,1156.3 1801.2,1156.9 1801.5,1156.6 C1801.7,1156.3 1801.8,1156.7 1802.0,1155.8 C1802.2,1155.0 1802.2,1154.6 1802.4,1152.3 C1802.5,1150.0 1802.5,1149.9 1802.6,1144.4 C1802.6,1138.8 1802.7,1132.5 1802.7,1124.6 C1802.8,1116.7 1802.8,1116.7 1802.8,1104.9 C1802.8,1093.0 1802.8,1076.1 1802.8,1065.4 C1802.8,1054.8 1802.9,1061.5 1803.0,1051.6 C1803.1,1041.7 1803.1,1025.9 1803.2,1016.1 C1803.3,1006.2 1803.4,1008.2 1803.5,1002.2 C1803.6,996.3 1803.7,1003.6 1803.7,986.4 C1803.8,969.3 1803.8,968.3 1803.9,916.6 C1803.9,865.0 1804.0,765.8 1804.0,728.1" fill="none" stroke="#76309c" stroke-width="4.2" stroke-linejoin="round" stroke-linecap="butt" />
<path d="M1108.5,1246.0 L1109.1,1251.0 L1111.5,1253.8 L1116.0,1253.6 L1118.5,1254.5 L1121.0,1254.9 L1123.5,1254.4 L1126.0,1253.5 L1128.5,1255.1 L1131.0,1254.1 L1133.5,1254.5 L1136.0,1254.7 L1138.5,1253.9 L1141.0,1254.1 L1143.5,1254.0 L1146.0,1253.6 L1148.5,1253.5 L1151.0,1254.7 L1153.5,1254.1 L1156.0,1255.0 L1158.5,1253.5 L1161.0,1253.9 L1163.5,1253.7 L1166.0,1255.1 L1168.5,1254.8 L1171.0,1255.0 L1173.5,1254.3 L1176.0,1253.6 L1178.5,1254.1 L1181.0,1253.8 L1183.5,1253.4 L1186.0,1254.4 L1188.5,1253.9 L1191.0,1253.6 L1193.5,1254.3 L1196.0,1255.1 L1198.5,1255.1 L1201.0,1254.2 L1203.5,1253.6 L1206.0,1254.8 L1208.5,1253.6 L1211.0,1254.4 L1213.5,1253.6 L1216.0,1255.2 L1218.5,1254.4 L1221.0,1254.2 L1223.5,1253.9 L1226.0,1254.4 L1228.5,1255.2 L1231.0,1254.2 L1233.5,1253.8 L1236.0,1254.3 L1238.5,1255.1 L1241.0,1254.1 L1243.5,1254.5 L1246.0,1255.1 L1248.5,1254.0 L1251.0,1254.9 L1253.5,1254.4 L1256.0,1253.7 L1258.5,1253.5 L1261.0,1255.1 L1263.5,1254.2 L1266.0,1254.2 L1268.5,1255.1 L1271.0,1254.4 L1273.5,1254.3 L1276.0,1253.9 L1278.5,1254.7 L1281.0,1253.9 L1283.5,1254.2 L1286.0,1254.8 L1288.5,1254.5 L1291.0,1253.6 L1293.5,1253.8 L1296.0,1254.7 L1298.5,1254.7 L1301.0,1253.6 L1303.5,1255.2 L1306.0,1253.6 L1308.5,1253.7 L1311.0,1253.6 L1313.5,1254.2 L1316.0,1254.5 L1318.5,1254.9 L1321.0,1253.7 L1323.5,1254.7 L1326.0,1253.6 L1328.5,1254.4 L1331.0,1253.9 L1333.5,1254.0 L1336.0,1253.5 L1338.5,1254.7 L1341.0,1253.6 L1343.5,1254.8 L1346.0,1254.0 L1348.5,1254.5 L1351.0,1254.6 L1353.5,1254.3 L1356.0,1255.0 L1358.5,1255.1 L1361.0,1253.9 L1363.5,1254.0 L1366.0,1255.0 L1368.5,1253.6 L1371.0,1254.2 L1373.5,1254.1 L1376.0,1255.2 L1378.5,1253.6 L1381.0,1254.6 L1383.5,1254.8 L1386.0,1254.7 L1388.5,1253.4 L1391.0,1255.1 L1393.5,1254.0 L1396.0,1254.9 L1398.5,1254.6 L1401.0,1254.2 L1403.5,1254.9 L1406.0,1254.6 L1408.5,1254.0 L1411.0,1254.7 L1413.5,1254.3 L1416.0,1254.7 L1418.5,1254.5 L1421.0,1254.8 L1423.5,1253.7 L1426.0,1254.3 L1428.5,1253.4 L1431.0,1254.8 L1433.5,1254.8 L1436.0,1254.9 L1438.5,1253.5 L1441.0,1254.4 L1443.5,1254.3 L1446.0,1253.6 L1448.5,1253.8 L1451.0,1255.2 L1453.5,1254.9 L1456.0,1253.8 L1458.5,1254.9 L1461.0,1254.6 L1463.5,1254.1 L1466.0,1254.6 L1468.5,1253.8 L1471.0,1253.9 L1473.5,1253.4 L1476.0,1254.6 L1478.5,1254.4 L1481.0,1254.7 L1483.5,1254.3 L1486.0,1254.2 L1488.5,1254.0 L1491.0,1254.7 L1493.5,1254.1 L1496.0,1254.5 L1498.5,1254.8 L1501.0,1254.2 L1503.5,1254.6 L1506.0,1253.5 L1508.5,1253.9 L1511.0,1254.9 L1513.5,1253.7 L1516.0,1253.5 L1518.5,1253.4 L1521.0,1254.8 L1523.5,1253.6 L1526.0,1254.2 L1528.5,1254.2 L1531.0,1254.8 L1533.5,1254.3 L1536.0,1254.3 L1538.5,1253.4 L1541.0,1254.8 L1543.5,1254.8 L1546.0,1254.5 L1548.5,1254.9 L1551.0,1254.5 L1553.5,1254.7 L1556.0,1254.9 L1558.5,1254.5 L1561.0,1253.4 L1563.5,1255.0 L1566.0,1255.2 L1568.5,1253.8 L1571.0,1253.5 L1573.5,1254.0 L1576.0,1253.6 L1578.5,1254.1 L1581.0,1253.6 L1583.5,1253.8 L1586.0,1253.4 L1588.5,1254.2 L1591.0,1253.9 L1593.5,1254.7 L1596.0,1254.1 L1598.5,1253.7 L1601.0,1255.1 L1603.5,1255.0 L1606.0,1254.6 L1608.5,1253.8 L1611.0,1254.1 L1613.5,1254.2 L1616.0,1254.1 L1618.5,1253.4 L1621.0,1254.2 L1623.5,1254.8 L1626.0,1254.6 L1628.5,1254.9 L1631.0,1254.6 L1633.5,1254.8 L1636.0,1255.0 L1638.5,1255.1 L1641.0,1254.8 L1643.5,1254.1 L1646.0,1254.6 L1648.5,1254.6 L1651.0,1255.0 L1653.5,1254.7 L1656.0,1254.2 L1658.5,1253.7 L1661.0,1254.0 L1663.5,1253.9 L1666.0,1254.6 L1668.5,1254.8 L1671.0,1253.7 L1673.5,1254.4 L1676.0,1254.9 L1678.5,1254.1 L1681.0,1253.6 L1683.5,1254.5 L1686.0,1254.1 L1688.5,1253.7 L1691.0,1253.9 L1693.5,1253.4 L1696.0,1253.7 L1698.5,1254.2 L1701.0,1253.6 L1703.5,1253.4 L1706.0,1254.4 L1708.5,1255.1 L1711.0,1254.9 L1713.5,1254.0 L1716.0,1255.1 L1718.5,1253.5 L1721.0,1253.7 L1723.5,1253.4 L1726.0,1253.5 L1728.5,1254.5 L1731.0,1254.8 L1733.5,1254.3 L1736.0,1254.8 L1738.5,1254.2 L1741.0,1255.1 L1743.5,1254.5 L1746.0,1254.4 L1748.5,1253.7 L1751.0,1254.2 L1753.5,1254.2 L1756.0,1254.9 L1758.5,1253.8 L1761.0,1253.9 L1763.5,1254.9 L1766.0,1253.5 L1768.5,1254.4 L1771.0,1253.8 L1773.5,1254.6 L1776.0,1254.5 L1778.5,1253.6 L1781.0,1254.7 L1783.5,1254.1 L1786.0,1254.0 L1788.5,1254.9 L1791.0,1254.8 L1793.5,1254.0 L1796.0,1254.6 L1798.5,1253.6 L1801.0,1254.3 L1803.5,1253.5 L1806.0,1254.6 L1808.5,1255.0 L1811.0,1254.5 L1813.5,1253.5 L1816.0,1254.3 L1816.2,1254.3" fill="none" stroke="#0428ff" stroke-width="4.8" stroke-linejoin="round" stroke-linecap="butt" />
<path d="M1110.6,1236.2 L1112.0,1235.2 L1115.0,1234.9 L1117.5,1234.9 L1120.0,1234.4 L1122.5,1234.6 L1125.0,1234.9 L1127.5,1234.2 L1130.0,1235.3 L1132.5,1234.5 L1135.0,1234.6 L1137.5,1234.3 L1140.0,1234.6 L1142.5,1235.8 L1145.0,1234.6 L1147.5,1234.3 L1150.0,1234.7 L1152.5,1235.8 L1155.0,1234.3 L1157.5,1234.7 L1160.0,1234.5 L1162.5,1235.3 L1165.0,1234.9 L1167.5,1234.3 L1170.0,1235.7 L1172.5,1234.7 L1175.0,1235.3 L1177.5,1234.9 L1180.0,1235.7 L1182.5,1234.2 L1185.0,1234.5 L1187.5,1234.6 L1190.0,1234.6 L1192.5,1235.6 L1195.0,1235.0 L1197.5,1234.7 L1200.0,1235.0 L1202.5,1235.6 L1205.0,1235.1 L1207.5,1234.9 L1210.0,1235.3 L1212.5,1235.2 L1215.0,1234.8 L1217.5,1234.9 L1220.0,1234.3 L1222.5,1234.9 L1225.0,1235.7 L1227.5,1234.7 L1230.0,1234.8 L1232.5,1235.2 L1235.0,1235.2 L1237.5,1234.4 L1240.0,1234.9 L1242.5,1235.4 L1245.0,1234.2 L1247.5,1234.3 L1250.0,1235.5 L1252.5,1235.7 L1255.0,1234.2 L1257.5,1234.2 L1260.0,1235.2 L1262.5,1234.6 L1265.0,1235.3 L1267.5,1234.2 L1270.0,1234.9 L1272.5,1234.4 L1275.0,1234.7 L1277.5,1235.3 L1280.0,1235.0 L1282.5,1235.6 L1285.0,1235.6 L1287.5,1235.2 L1290.0,1235.6 L1292.5,1234.4 L1295.0,1235.0 L1297.5,1234.7 L1300.0,1235.2 L1302.5,1234.3 L1305.0,1235.7 L1307.5,1234.8 L1310.0,1235.5 L1312.5,1235.8 L1315.0,1235.8 L1317.5,1234.8 L1320.0,1235.6 L1322.5,1235.9 L1325.0,1234.3 L1327.5,1235.4 L1330.0,1235.4 L1332.5,1234.9 L1335.0,1234.6 L1337.5,1234.4 L1340.0,1234.8 L1342.5,1235.8 L1345.0,1234.8 L1347.5,1234.6 L1350.0,1235.2 L1352.5,1234.9 L1355.0,1235.2 L1357.5,1234.9 L1360.0,1234.6 L1362.5,1234.2 L1365.0,1235.6 L1367.5,1235.3 L1370.0,1234.5 L1372.5,1235.0 L1375.0,1235.1 L1377.5,1235.0 L1380.0,1235.7 L1382.5,1235.5 L1385.0,1234.7 L1387.5,1234.7 L1390.0,1235.2 L1392.5,1234.4 L1395.0,1235.8 L1397.5,1234.2 L1400.0,1235.0 L1402.5,1234.6 L1405.0,1235.0 L1407.5,1234.2 L1410.0,1234.5 L1412.5,1235.9 L1415.0,1235.5 L1417.5,1234.5 L1420.0,1234.9 L1422.5,1234.2 L1425.0,1234.3 L1427.5,1234.4 L1430.0,1235.9 L1432.5,1234.7 L1435.0,1234.5 L1437.5,1234.2 L1440.0,1234.3 L1442.5,1235.9 L1445.0,1235.4 L1447.5,1235.8 L1450.0,1235.6 L1452.5,1235.5 L1455.0,1234.6 L1457.5,1234.4 L1460.0,1234.6 L1462.5,1234.2 L1465.0,1234.4 L1467.5,1235.4 L1470.0,1235.0 L1472.5,1234.1 L1475.0,1234.6 L1477.5,1235.6 L1480.0,1235.6 L1482.5,1235.4 L1485.0,1235.4 L1487.5,1235.7 L1490.0,1235.1 L1492.5,1234.8 L1495.0,1235.1 L1497.5,1234.6 L1500.0,1234.2 L1502.5,1234.6 L1505.0,1234.9 L1507.5,1234.3 L1510.0,1234.2 L1512.5,1234.5 L1515.0,1234.8 L1517.5,1235.8 L1520.0,1235.0 L1522.5,1235.6 L1525.0,1235.4 L1527.5,1235.2 L1530.0,1234.7 L1532.5,1234.8 L1535.0,1234.7 L1537.5,1235.2 L1540.0,1235.6 L1542.5,1235.5 L1545.0,1234.6 L1547.5,1234.4 L1550.0,1234.1 L1552.5,1235.1 L1555.0,1234.5 L1557.5,1234.1 L1560.0,1234.6 L1562.5,1234.5 L1565.0,1234.5 L1567.5,1235.3 L1570.0,1235.1 L1572.5,1234.6 L1575.0,1235.4 L1577.5,1234.5 L1580.0,1235.7 L1582.5,1234.3 L1585.0,1235.1 L1587.5,1235.3 L1590.0,1235.4 L1592.5,1234.9 L1595.0,1235.6 L1597.5,1235.2 L1600.0,1235.3 L1602.5,1234.2 L1605.0,1234.4 L1607.5,1234.9 L1610.0,1235.0 L1612.5,1234.2 L1615.0,1235.4 L1617.5,1234.7 L1620.0,1234.9 L1622.5,1235.0 L1625.0,1235.6 L1627.5,1234.6 L1630.0,1235.1 L1632.5,1235.1 L1635.0,1235.2 L1637.5,1234.6 L1640.0,1234.5 L1642.5,1234.9 L1645.0,1235.1 L1647.5,1235.2 L1650.0,1234.3 L1652.5,1234.8 L1655.0,1235.0 L1657.5,1234.4 L1660.0,1234.2 L1662.5,1235.7 L1665.0,1234.1 L1667.5,1234.9 L1670.0,1234.5 L1672.5,1234.1 L1675.0,1234.5 L1677.5,1234.3 L1680.0,1234.7 L1682.5,1235.6 L1685.0,1234.1 L1687.5,1234.6 L1690.0,1235.2 L1692.5,1235.1 L1695.0,1234.0 L1697.5,1234.4 L1700.0,1234.5 L1702.5,1235.6 L1705.0,1234.8 L1707.5,1234.4 L1710.0,1234.8 L1712.5,1234.8 L1715.0,1234.2 L1717.5,1235.2 L1720.0,1235.3 L1722.5,1234.8 L1725.0,1234.9 L1727.5,1235.3 L1730.0,1235.7 L1732.5,1235.0 L1735.0,1234.0 L1737.5,1234.8 L1740.0,1235.1 L1742.5,1234.5 L1745.0,1235.2 L1747.5,1234.6" fill="none" stroke="#0428ff" stroke-width="4.8" stroke-linejoin="round" stroke-linecap="butt" />
<path d="M1742.2,1234.8 C1743.8,1234.8 1746.6,1234.9 1750.2,1234.8 C1753.9,1234.7 1756.2,1234.6 1760.5,1234.4 C1764.7,1234.2 1768.1,1234.0 1771.4,1233.9 C1774.8,1233.7 1775.0,1233.7 1777.2,1233.6 C1779.5,1233.5 1781.1,1233.4 1782.6,1233.2 C1784.2,1233.1 1784.2,1233.0 1785.0,1232.8 C1785.8,1232.6 1785.7,1233.3 1786.8,1232.4 C1787.9,1231.5 1788.9,1230.2 1790.3,1228.5 C1791.7,1226.7 1792.8,1225.1 1793.9,1223.5 C1794.9,1221.9 1794.9,1221.9 1795.6,1220.6 C1796.3,1219.2 1796.7,1217.8 1797.4,1216.6 C1798.1,1215.4 1798.5,1215.6 1799.2,1214.6 C1799.9,1213.7 1800.3,1213.2 1800.9,1211.7 C1801.6,1210.2 1801.8,1209.1 1802.4,1207.1 C1802.9,1205.2 1803.3,1203.7 1803.8,1202.0 C1804.3,1200.3 1804.6,1200.7 1804.8,1198.7 C1805.1,1196.6 1805.0,1196.3 1805.1,1191.7 C1805.2,1187.2 1805.2,1181.5 1805.3,1176.0 C1805.3,1170.4 1805.3,1167.3 1805.4,1164.1 C1805.4,1161.0 1805.4,1161.3 1805.5,1160.2 C1805.7,1159.0 1805.9,1159.2 1806.2,1158.2 C1806.6,1157.2 1807.2,1157.2 1807.5,1155.2 C1807.8,1153.3 1807.7,1151.7 1807.8,1148.3 C1807.9,1145.0 1807.9,1145.2 1808.0,1138.4 C1808.1,1131.7 1808.1,1129.4 1808.2,1114.8 C1808.2,1100.2 1808.2,1078.0 1808.3,1065.4 C1808.4,1052.8 1808.6,1061.5 1808.7,1051.6 C1808.9,1041.7 1808.9,1029.1 1809.0,1016.1 C1809.1,1003.0 1809.2,1006.3 1809.3,986.4 C1809.3,966.6 1809.3,968.3 1809.4,916.6 C1809.4,865.0 1809.5,765.8 1809.5,728.1" fill="none" stroke="#0428ff" stroke-width="4.2" stroke-linejoin="round" stroke-linecap="butt" />
<path d="M1108.5,1246.0 L1109.1,1251.0 L1111.5,1253.8 L1116.0,1254.5 L1118.5,1254.5 L1121.0,1254.6 L1123.5,1255.1 L1126.0,1254.7 L1128.5,1254.7 L1131.0,1254.7 L1133.5,1253.8 L1136.0,1254.5 L1138.5,1254.5 L1141.0,1253.5 L1143.5,1254.8 L1146.0,1253.8 L1148.5,1254.3 L1151.0,1254.3 L1153.5,1254.7 L1156.0,1254.8 L1158.5,1254.2 L1161.0,1255.1 L1163.5,1254.2 L1166.0,1254.4 L1168.5,1255.2 L1171.0,1254.0 L1173.5,1254.7 L1176.0,1255.1 L1178.5,1253.6 L1181.0,1254.8 L1183.5,1254.6 L1186.0,1254.4 L1188.5,1254.8 L1191.0,1254.9 L1193.5,1253.7 L1196.0,1254.3 L1198.5,1254.5 L1201.0,1254.7 L1203.5,1255.1 L1206.0,1254.8 L1208.5,1254.9 L1211.0,1253.5 L1213.5,1254.2 L1216.0,1255.0 L1218.5,1255.1 L1221.0,1254.8 L1223.5,1254.0 L1226.0,1254.8 L1228.5,1254.4 L1231.0,1254.6 L1233.5,1254.5 L1236.0,1255.0 L1238.5,1254.7 L1241.0,1255.1 L1243.5,1254.3 L1246.0,1254.3 L1248.5,1254.6 L1251.0,1254.4 L1253.5,1253.5 L1256.0,1255.1 L1258.5,1254.0 L1261.0,1254.3 L1263.5,1253.5 L1266.0,1253.7 L1268.5,1255.1 L1271.0,1253.9 L1273.5,1253.9 L1276.0,1254.9 L1278.5,1253.8 L1281.0,1254.6 L1283.5,1254.4 L1286.0,1255.0 L1288.5,1254.3 L1291.0,1254.0 L1293.5,1253.9 L1296.0,1254.1 L1298.5,1253.4 L1301.0,1253.6 L1303.5,1253.7 L1306.0,1254.0 L1308.5,1254.8 L1311.0,1255.1 L1313.5,1254.0 L1316.0,1253.8 L1318.5,1253.9 L1321.0,1254.5 L1323.5,1254.3 L1326.0,1253.6 L1328.5,1254.3 L1331.0,1253.9 L1333.5,1253.7 L1336.0,1254.8 L1338.5,1253.6 L1341.0,1254.2 L1343.5,1254.8 L1346.0,1254.4 L1348.5,1255.0 L1351.0,1254.0 L1353.5,1255.1 L1356.0,1253.5 L1358.5,1255.0 L1361.0,1254.2 L1363.5,1253.4 L1366.0,1253.9 L1368.5,1255.2 L1371.0,1254.7 L1373.5,1254.7 L1376.0,1254.9 L1378.5,1253.4 L1381.0,1254.0 L1383.5,1254.2 L1386.0,1255.0 L1388.5,1255.0 L1391.0,1253.7 L1393.5,1255.2 L1396.0,1254.4 L1398.5,1253.9 L1401.0,1253.5 L1403.5,1254.2 L1406.0,1254.3 L1408.5,1254.2 L1411.0,1254.0 L1413.5,1255.1 L1416.0,1254.3 L1418.5,1254.0 L1421.0,1254.8 L1423.5,1253.8 L1426.0,1254.2 L1428.5,1253.6 L1431.0,1253.8 L1433.5,1255.2 L1436.0,1254.5 L1438.5,1254.3 L1441.0,1254.6 L1443.5,1254.6 L1446.0,1254.3 L1448.5,1254.1 L1451.0,1253.7 L1453.5,1253.5 L1456.0,1253.6 L1458.5,1254.1 L1461.0,1253.4 L1463.5,1254.6 L1466.0,1254.0 L1468.5,1253.8 L1471.0,1254.0 L1473.5,1254.3 L1476.0,1253.8 L1478.5,1254.9 L1481.0,1254.3 L1483.5,1253.5 L1486.0,1253.6 L1488.5,1255.0 L1491.0,1254.4 L1493.5,1253.9 L1496.0,1254.7 L1498.5,1253.5 L1501.0,1255.0 L1503.5,1255.1 L1506.0,1254.6 L1508.5,1253.5 L1511.0,1254.2 L1513.5,1254.9 L1516.0,1254.5 L1518.5,1253.8 L1521.0,1253.8 L1523.5,1253.5 L1526.0,1254.3 L1528.5,1253.7 L1531.0,1254.2 L1533.5,1255.0 L1536.0,1255.0 L1538.5,1254.3 L1541.0,1254.8 L1543.5,1253.6 L1546.0,1255.1 L1548.5,1255.0 L1551.0,1254.3 L1553.5,1255.0 L1556.0,1253.9 L1558.5,1255.2 L1561.0,1254.0 L1563.5,1255.1 L1566.0,1254.9 L1568.5,1255.1 L1571.0,1254.7 L1573.5,1253.5 L1576.0,1253.9 L1578.5,1254.6 L1581.0,1255.0 L1583.5,1254.6 L1586.0,1253.5 L1588.5,1254.0 L1591.0,1254.0 L1593.5,1253.7 L1596.0,1253.8 L1598.5,1254.3 L1601.0,1254.1 L1603.5,1253.9 L1606.0,1254.1 L1608.5,1255.1 L1611.0,1254.5 L1613.5,1254.8 L1616.0,1255.1 L1618.5,1253.5 L1621.0,1255.0 L1623.5,1253.6 L1626.0,1253.8 L1628.5,1254.7 L1631.0,1254.8 L1633.5,1254.5 L1636.0,1254.3 L1638.5,1254.7 L1641.0,1254.2 L1643.5,1253.7 L1646.0,1253.8 L1648.5,1253.6 L1651.0,1253.5 L1653.5,1255.1 L1656.0,1255.1 L1658.5,1254.0 L1661.0,1254.1 L1663.5,1253.9 L1666.0,1254.8 L1668.5,1254.3 L1671.0,1253.7 L1673.5,1255.0 L1676.0,1255.1 L1678.5,1253.5 L1681.0,1254.2 L1683.5,1253.8 L1686.0,1254.6 L1688.5,1254.0 L1691.0,1253.9 L1693.5,1253.9 L1696.0,1254.5 L1698.5,1254.3 L1701.0,1254.3 L1703.5,1254.6 L1706.0,1254.3 L1708.5,1255.1 L1711.0,1254.2 L1713.5,1254.8 L1716.0,1255.1 L1718.5,1254.5 L1721.0,1254.5 L1723.5,1254.8 L1726.0,1254.7 L1728.5,1253.7 L1731.0,1254.2 L1733.5,1253.7 L1736.0,1253.4 L1738.5,1254.6 L1741.0,1254.0 L1743.5,1253.9 L1746.0,1253.4 L1748.5,1253.4 L1751.0,1254.6 L1753.5,1254.0 L1756.0,1254.2 L1758.5,1254.6 L1761.0,1255.0 L1763.5,1254.7 L1766.0,1253.8 L1768.5,1255.2 L1771.0,1253.7 L1773.5,1254.4 L1776.0,1254.6 L1778.5,1253.9 L1781.0,1255.0 L1783.5,1254.5 L1786.0,1254.7 L1788.5,1253.6 L1791.0,1254.9 L1793.5,1253.9 L1796.0,1254.5 L1798.5,1254.7 L1801.0,1254.0 L1803.5,1253.9 L1806.0,1254.0 L1808.5,1255.2 L1811.0,1254.6 L1813.5,1254.2 L1816.0,1254.4 L1816.2,1254.3" fill="none" stroke="#70ad47" stroke-width="4.8" stroke-linejoin="round" stroke-linecap="butt" />
<path d="M1110.6,1236.2 L1112.0,1235.2 L1115.0,1235.3 L1117.5,1234.6 L1120.0,1234.2 L1122.5,1234.3 L1125.0,1235.1 L1127.5,1235.2 L1130.0,1235.9 L1132.5,1235.2 L1135.0,1235.6 L1137.5,1235.9 L1140.0,1235.0 L1142.5,1234.9 L1145.0,1234.9 L1147.5,1234.8 L1150.0,1235.5 L1152.5,1235.1 L1155.0,1234.3 L1157.5,1235.8 L1160.0,1235.0 L1162.5,1235.4 L1165.0,1235.1 L1167.5,1235.2 L1170.0,1235.1 L1172.5,1234.3 L1175.0,1234.3 L1177.5,1235.4 L1180.0,1234.7 L1182.5,1234.3 L1185.0,1235.6 L1187.5,1235.4 L1190.0,1235.5 L1192.5,1234.8 L1195.0,1234.3 L1197.5,1235.5 L1200.0,1234.5 L1202.5,1235.3 L1205.0,1235.4 L1207.5,1234.6 L1210.0,1234.1 L1212.5,1235.2 L1215.0,1235.5 L1217.5,1235.2 L1220.0,1235.9 L1222.5,1234.5 L1225.0,1235.4 L1227.5,1234.9 L1230.0,1235.1 L1232.5,1234.6 L1235.0,1234.5 L1237.5,1235.1 L1240.0,1235.2 L1242.5,1235.7 L1245.0,1235.2 L1247.5,1235.0 L1250.0,1235.3 L1252.5,1235.2 L1255.0,1234.8 L1257.5,1234.6 L1260.0,1235.3 L1262.5,1234.8 L1265.0,1234.2 L1267.5,1234.4 L1270.0,1234.7 L1272.5,1235.3 L1275.0,1235.3 L1277.5,1235.0 L1280.0,1235.6 L1282.5,1234.7 L1285.0,1234.7 L1287.5,1235.5 L1290.0,1235.3 L1292.5,1234.9 L1295.0,1235.7 L1297.5,1234.1 L1300.0,1235.1 L1302.5,1235.6 L1305.0,1235.7 L1307.5,1234.4 L1310.0,1235.6 L1312.5,1235.1 L1315.0,1235.8 L1317.5,1234.7 L1320.0,1235.3 L1322.5,1235.3 L1325.0,1235.9 L1327.5,1234.7 L1330.0,1234.8 L1332.5,1234.3 L1335.0,1235.3 L1337.5,1234.2 L1340.0,1235.6 L1342.5,1234.4 L1345.0,1234.4 L1347.5,1235.8 L1350.0,1235.0 L1352.5,1235.5 L1355.0,1234.7 L1357.5,1234.5 L1360.0,1234.8 L1362.5,1235.9 L1365.0,1234.4 L1367.5,1235.7 L1370.0,1235.7 L1372.5,1235.3 L1375.0,1234.6 L1377.5,1235.4 L1380.0,1235.7 L1382.5,1235.2 L1385.0,1234.5 L1387.5,1235.2 L1390.0,1235.8 L1392.5,1235.2 L1395.0,1234.4 L1397.5,1234.5 L1400.0,1235.2 L1402.5,1234.2 L1405.0,1234.1 L1407.5,1234.8 L1410.0,1234.6 L1412.5,1235.0 L1415.0,1234.2 L1417.5,1235.1 L1420.0,1235.3 L1422.5,1234.7 L1425.0,1235.1 L1427.5,1235.0 L1430.0,1235.5 L1432.5,1235.1 L1435.0,1235.2 L1437.5,1235.1 L1440.0,1235.6 L1442.5,1234.3 L1445.0,1234.3 L1447.5,1235.7 L1450.0,1235.6 L1452.5,1234.1 L1455.0,1235.7 L1457.5,1235.2 L1460.0,1235.6 L1462.5,1235.4 L1465.0,1234.8 L1467.5,1234.3 L1470.0,1235.5 L1472.5,1235.4 L1475.0,1234.9 L1477.5,1234.6 L1480.0,1234.8 L1482.5,1235.8 L1485.0,1234.9 L1487.5,1234.5 L1490.0,1235.9 L1492.5,1235.9 L1495.0,1234.4 L1497.5,1234.5 L1500.0,1235.4 L1502.5,1234.8 L1505.0,1235.0 L1507.5,1235.3 L1510.0,1234.6 L1512.5,1235.2 L1515.0,1234.5 L1517.5,1234.5 L1520.0,1235.1 L1522.5,1234.9 L1525.0,1235.7 L1527.5,1234.4 L1530.0,1235.8 L1532.5,1234.6 L1535.0,1234.7 L1537.5,1234.3 L1540.0,1234.7 L1542.5,1235.9 L1545.0,1234.8 L1547.5,1235.6 L1550.0,1235.9 L1552.5,1235.4 L1555.0,1234.5 L1557.5,1234.9 L1560.0,1234.4 L1562.5,1234.6 L1565.0,1234.7 L1567.5,1234.4 L1570.0,1235.4 L1572.5,1235.1 L1575.0,1234.7 L1577.5,1234.6 L1580.0,1234.4 L1582.5,1234.4 L1585.0,1235.0 L1587.5,1234.3 L1590.0,1235.1 L1592.5,1234.6 L1595.0,1235.6 L1597.5,1234.7 L1600.0,1235.7 L1602.5,1235.9 L1605.0,1235.9 L1607.5,1234.6 L1610.0,1235.9 L1612.5,1235.1 L1615.0,1235.8 L1617.5,1235.0 L1620.0,1235.2 L1622.5,1234.7 L1625.0,1235.6 L1627.5,1234.9 L1630.0,1235.8 L1632.5,1235.5 L1635.0,1235.0 L1637.5,1234.3 L1640.0,1234.7 L1642.5,1235.0 L1645.0,1234.9 L1647.5,1235.3 L1650.0,1234.3 L1652.5,1235.1 L1655.0,1235.9 L1657.5,1236.0 L1660.0,1235.5 L1662.5,1235.5 L1665.0,1235.4 L1667.5,1236.1 L1670.0,1235.8 L1672.5,1235.2 L1675.0,1235.2 L1677.5,1236.0 L1680.0,1235.3 L1682.5,1235.4 L1685.0,1234.9 L1687.5,1235.6 L1690.0,1235.3 L1692.5,1236.1 L1695.0,1236.2 L1697.5,1236.2 L1700.0,1236.1 L1702.5,1234.5 L1705.0,1234.6 L1707.5,1235.0 L1710.0,1235.9 L1712.5,1235.5 L1715.0,1234.9 L1717.5,1234.6 L1720.0,1234.9 L1722.5,1234.7 L1725.0,1234.8 L1727.5,1235.8 L1730.0,1234.9 L1732.5,1234.8 L1735.0,1235.6 L1737.5,1234.8 L1740.0,1236.0 L1742.5,1235.7 L1745.0,1236.1 L1747.5,1235.9" fill="none" stroke="#70ad47" stroke-width="4.8" stroke-linejoin="round" stroke-linecap="butt" />
<path d="M1742.2,1235.5 C1743.8,1235.5 1746.6,1235.6 1750.2,1235.5 C1753.9,1235.4 1756.2,1235.3 1760.5,1235.1 C1764.7,1234.9 1768.1,1234.6 1771.4,1234.4 C1774.8,1234.2 1775.0,1234.2 1777.2,1234.0 C1779.5,1233.9 1781.1,1233.8 1782.6,1233.6 C1784.2,1233.5 1784.2,1233.4 1785.0,1233.2 C1785.8,1233.0 1785.7,1233.6 1786.8,1232.8 C1787.9,1232.0 1788.9,1230.8 1790.3,1229.1 C1791.7,1227.4 1792.8,1225.9 1793.9,1224.3 C1794.9,1222.8 1794.9,1222.7 1795.6,1221.4 C1796.3,1220.1 1796.7,1218.9 1797.4,1217.8 C1798.1,1216.7 1798.5,1216.6 1799.2,1215.6 C1799.9,1214.6 1800.3,1214.3 1800.9,1212.9 C1801.6,1211.4 1801.8,1210.0 1802.4,1208.5 C1802.9,1207.1 1803.2,1206.6 1803.6,1205.6 C1804.0,1204.6 1804.2,1204.8 1804.5,1203.6 C1804.8,1202.4 1805.0,1202.0 1805.2,1199.6 C1805.4,1197.3 1805.4,1196.5 1805.5,1191.7 C1805.6,1187.0 1805.7,1181.5 1805.7,1176.0 C1805.8,1170.4 1805.8,1167.1 1805.8,1164.1 C1805.9,1161.1 1805.6,1162.4 1806.0,1161.1 C1806.3,1159.9 1806.9,1159.2 1807.5,1157.8 C1808.0,1156.4 1808.3,1156.5 1808.7,1154.2 C1809.1,1152.0 1809.2,1149.9 1809.4,1146.3 C1809.6,1142.8 1809.7,1142.8 1809.8,1136.5 C1809.9,1130.2 1810.0,1129.0 1810.0,1114.8 C1810.1,1100.5 1810.1,1078.0 1810.2,1065.4 C1810.3,1052.8 1810.4,1061.5 1810.6,1051.6 C1810.7,1041.7 1810.9,1029.1 1811.0,1016.1 C1811.2,1003.0 1811.2,1006.3 1811.3,986.4 C1811.3,966.6 1811.3,968.3 1811.3,916.6 C1811.4,865.0 1811.4,765.8 1811.4,728.1" fill="none" stroke="#70ad47" stroke-width="4.2" stroke-linejoin="round" stroke-linecap="butt" />
<path d="M1108.5,1246.0 L1109.1,1251.0 L1111.5,1253.8 L1116.0,1254.5 L1118.5,1254.1 L1121.0,1254.2 L1123.5,1254.2 L1126.0,1254.2 L1128.5,1254.6 L1131.0,1254.3 L1133.5,1254.5 L1136.0,1254.4 L1138.5,1254.0 L1141.0,1254.1 L1143.5,1254.4 L1146.0,1254.5 L1148.5,1254.1 L1151.0,1254.1 L1153.5,1254.2 L1156.0,1254.3 L1158.5,1254.2 L1161.0,1254.6 L1163.5,1254.4 L1166.0,1254.1 L1168.5,1254.2 L1171.0,1254.3 L1173.5,1254.1 L1176.0,1254.2 L1178.5,1254.0 L1181.0,1254.4 L1183.5,1254.6 L1186.0,1254.6 L1188.5,1254.4 L1191.0,1254.2 L1193.5,1254.3 L1196.0,1254.3 L1198.5,1254.1 L1201.0,1254.3 L1203.5,1254.3 L1206.0,1254.1 L1208.5,1254.3 L1211.0,1254.5 L1213.5,1254.4 L1216.0,1254.2 L1218.5,1254.1 L1221.0,1254.4 L1223.5,1254.3 L1226.0,1254.2 L1228.5,1254.3 L1231.0,1254.2 L1233.5,1254.4 L1236.0,1254.6 L1238.5,1254.2 L1241.0,1254.3 L1243.5,1254.3 L1246.0,1254.4 L1248.5,1254.1 L1251.0,1254.1 L1253.5,1254.6 L1256.0,1254.1 L1258.5,1254.4 L1261.0,1254.1 L1263.5,1254.3 L1266.0,1254.3 L1268.5,1254.1 L1271.0,1254.1 L1273.5,1254.6 L1276.0,1254.0 L1278.5,1254.0 L1281.0,1254.5 L1283.5,1254.2 L1286.0,1254.1 L1288.5,1254.5 L1291.0,1254.6 L1293.5,1254.1 L1296.0,1254.4 L1298.5,1254.2 L1301.0,1254.6 L1303.5,1254.4 L1306.0,1254.6 L1308.5,1254.4 L1311.0,1254.0 L1313.5,1254.3 L1316.0,1254.4 L1318.5,1254.1 L1321.0,1254.0 L1323.5,1254.6 L1326.0,1254.6 L1328.5,1254.4 L1331.0,1254.0 L1333.5,1254.4 L1336.0,1254.6 L1338.5,1254.5 L1341.0,1254.5 L1343.5,1254.3 L1346.0,1254.4 L1348.5,1254.6 L1351.0,1254.3 L1353.5,1254.0 L1356.0,1254.1 L1358.5,1254.6 L1361.0,1254.4 L1363.5,1254.6 L1366.0,1254.1 L1368.5,1254.0 L1371.0,1254.4 L1373.5,1254.2 L1376.0,1254.3 L1378.5,1254.1 L1381.0,1254.5 L1383.5,1254.5 L1386.0,1254.5 L1388.5,1254.3 L1391.0,1254.3 L1393.5,1254.2 L1396.0,1254.3 L1398.5,1254.2 L1401.0,1254.3 L1403.5,1254.6 L1406.0,1254.5 L1408.5,1254.0 L1411.0,1254.4 L1413.5,1254.5 L1416.0,1254.2 L1418.5,1254.6 L1421.0,1254.6 L1423.5,1254.0 L1426.0,1254.4 L1428.5,1254.2 L1431.0,1254.3 L1433.5,1254.3 L1436.0,1254.6 L1438.5,1254.4 L1441.0,1254.6 L1443.5,1254.1 L1446.0,1254.5 L1448.5,1254.2 L1451.0,1254.1 L1453.5,1254.5 L1456.0,1254.4 L1458.5,1254.1 L1461.0,1254.6 L1463.5,1254.3 L1466.0,1254.4 L1468.5,1254.6 L1471.0,1254.2 L1473.5,1254.3 L1476.0,1254.3 L1478.5,1254.1 L1481.0,1254.3 L1483.5,1254.6 L1486.0,1254.4 L1488.5,1254.1 L1491.0,1254.4 L1493.5,1254.4 L1496.0,1254.2 L1498.5,1254.4 L1501.0,1254.2 L1503.5,1254.5 L1506.0,1254.2 L1508.5,1254.5 L1511.0,1254.2 L1513.5,1254.1 L1516.0,1254.2 L1518.5,1254.0 L1521.0,1254.6 L1523.5,1254.6 L1526.0,1254.2 L1528.5,1254.1 L1531.0,1254.6 L1533.5,1254.5 L1536.0,1254.1 L1538.5,1254.2 L1541.0,1254.3 L1543.5,1254.0 L1546.0,1254.1 L1548.5,1254.2 L1551.0,1254.0 L1553.5,1254.1 L1556.0,1254.4 L1558.5,1254.2 L1561.0,1254.6 L1563.5,1254.6 L1566.0,1254.4 L1568.5,1254.1 L1571.0,1254.5 L1573.5,1254.2 L1576.0,1254.6 L1578.5,1254.2 L1581.0,1254.4 L1583.5,1254.5 L1586.0,1254.4 L1588.5,1254.5 L1591.0,1254.2 L1593.5,1254.1 L1596.0,1254.2 L1598.5,1254.6 L1601.0,1254.0 L1603.5,1254.1 L1606.0,1254.2 L1608.5,1254.3 L1611.0,1254.6 L1613.5,1254.1 L1616.0,1254.0 L1618.5,1254.0 L1621.0,1254.2 L1623.5,1254.5 L1626.0,1254.3 L1628.5,1254.4 L1631.0,1254.3 L1633.5,1254.2 L1636.0,1254.2 L1638.5,1254.0 L1641.0,1254.6 L1643.5,1254.5 L1646.0,1254.0 L1648.5,1254.1 L1651.0,1254.5 L1653.5,1254.3 L1656.0,1254.5 L1658.5,1254.5 L1661.0,1254.1 L1663.5,1254.5 L1666.0,1254.1 L1668.5,1254.0 L1671.0,1254.5 L1673.5,1254.5 L1676.0,1254.2 L1678.5,1254.2 L1681.0,1254.5 L1683.5,1254.2 L1686.0,1254.3 L1688.5,1254.6 L1691.0,1254.0 L1693.5,1254.6 L1696.0,1254.6 L1698.5,1254.6 L1701.0,1254.1 L1703.5,1254.1 L1706.0,1254.3 L1708.5,1254.1 L1711.0,1254.6 L1713.5,1254.3 L1716.0,1254.5 L1718.5,1254.3 L1721.0,1254.3 L1723.5,1254.6 L1726.0,1254.0 L1728.5,1254.1 L1731.0,1254.5 L1733.5,1254.4 L1736.0,1254.5 L1738.5,1254.6 L1741.0,1254.5 L1743.5,1254.4 L1746.0,1254.5 L1748.5,1254.3 L1751.0,1254.1 L1753.5,1254.2 L1756.0,1254.6 L1758.5,1254.3 L1761.0,1254.0 L1763.5,1254.4 L1766.0,1254.6 L1768.5,1254.4 L1771.0,1254.3 L1773.5,1254.3 L1776.0,1254.4 L1778.5,1254.4 L1781.0,1254.3 L1783.5,1254.6 L1786.0,1254.6 L1788.5,1254.5 L1791.0,1254.5 L1793.5,1254.5 L1796.0,1254.1 L1798.5,1254.3 L1801.0,1254.1 L1803.5,1254.1 L1806.0,1254.6 L1808.5,1254.1 L1811.0,1254.5 L1813.5,1254.5 L1816.0,1254.2 L1816.2,1254.3" fill="none" stroke="#ff0000" stroke-width="4.0" stroke-linejoin="round" stroke-linecap="butt" />
<path d="M1110.6,1236.2 L1112.0,1235.2 L1115.0,1234.7 L1117.5,1234.8 L1120.0,1235.1 L1122.5,1235.1 L1125.0,1234.9 L1127.5,1235.1 L1130.0,1234.8 L1132.5,1235.1 L1135.0,1235.2 L1137.5,1235.2 L1140.0,1235.0 L1142.5,1235.1 L1145.0,1234.7 L1147.5,1234.8 L1150.0,1234.9 L1152.5,1234.7 L1155.0,1234.7 L1157.5,1235.3 L1160.0,1235.1 L1162.5,1235.0 L1165.0,1235.1 L1167.5,1235.3 L1170.0,1235.1 L1172.5,1234.9 L1175.0,1234.9 L1177.5,1235.3 L1180.0,1235.3 L1182.5,1234.8 L1185.0,1235.2 L1187.5,1235.1 L1190.0,1234.9 L1192.5,1235.1 L1195.0,1234.8 L1197.5,1235.2 L1200.0,1235.0 L1202.5,1235.1 L1205.0,1234.7 L1207.5,1235.3 L1210.0,1235.3 L1212.5,1235.2 L1215.0,1234.9 L1217.5,1235.2 L1220.0,1234.7 L1222.5,1235.0 L1225.0,1234.9 L1227.5,1235.0 L1230.0,1234.9 L1232.5,1234.7 L1235.0,1235.0 L1237.5,1234.8 L1240.0,1234.8 L1242.5,1234.9 L1245.0,1234.7 L1247.5,1234.7 L1250.0,1235.3 L1252.5,1234.7 L1255.0,1235.3 L1257.5,1234.9 L1260.0,1234.7 L1262.5,1235.0 L1265.0,1235.0 L1267.5,1234.7 L1270.0,1235.0 L1272.5,1234.7 L1275.0,1234.9 L1277.5,1235.1 L1280.0,1235.2 L1282.5,1234.8 L1285.0,1234.9 L1287.5,1235.3 L1290.0,1234.9 L1292.5,1234.7 L1295.0,1234.8 L1297.5,1235.3 L1300.0,1234.9 L1302.5,1235.1 L1305.0,1235.3 L1307.5,1235.1 L1310.0,1234.8 L1312.5,1235.0 L1315.0,1234.9 L1317.5,1235.0 L1320.0,1235.1 L1322.5,1235.3 L1325.0,1235.1 L1327.5,1235.0 L1330.0,1235.2 L1332.5,1235.0 L1335.0,1234.8 L1337.5,1235.1 L1340.0,1234.8 L1342.5,1234.8 L1345.0,1234.9 L1347.5,1235.0 L1350.0,1234.7 L1352.5,1234.9 L1355.0,1235.3 L1357.5,1235.0 L1360.0,1234.9 L1362.5,1235.0 L1365.0,1235.1 L1367.5,1235.0 L1370.0,1234.9 L1372.5,1235.1 L1375.0,1234.8 L1377.5,1235.1 L1380.0,1234.9 L1382.5,1235.1 L1385.0,1234.9 L1387.5,1235.1 L1390.0,1234.8 L1392.5,1235.0 L1395.0,1235.0 L1397.5,1234.7 L1400.0,1234.7 L1402.5,1235.0 L1405.0,1235.2 L1407.5,1235.2 L1410.0,1235.2 L1412.5,1235.2 L1415.0,1235.3 L1417.5,1234.8 L1420.0,1234.8 L1422.5,1234.7 L1425.0,1235.2 L1427.5,1234.8 L1430.0,1234.9 L1432.5,1234.7 L1435.0,1235.3 L1437.5,1234.8 L1440.0,1234.8 L1442.5,1235.1 L1445.0,1235.1 L1447.5,1234.7 L1450.0,1235.1 L1452.5,1235.0 L1455.0,1235.0 L1457.5,1235.0 L1460.0,1235.2 L1462.5,1235.2 L1465.0,1235.3 L1467.5,1234.9 L1470.0,1234.7 L1472.5,1235.0 L1475.0,1234.7 L1477.5,1235.1 L1480.0,1235.0 L1482.5,1235.2 L1485.0,1235.2 L1487.5,1235.2 L1490.0,1235.1 L1492.5,1234.9 L1495.0,1235.2 L1497.5,1235.1 L1500.0,1234.8 L1502.5,1235.3 L1505.0,1235.0 L1507.5,1235.0 L1510.0,1234.8 L1512.5,1235.2 L1515.0,1235.0 L1517.5,1235.2 L1520.0,1235.2 L1522.5,1235.0 L1525.0,1235.1 L1527.5,1235.0 L1530.0,1234.8 L1532.5,1235.2 L1535.0,1235.3 L1537.5,1234.7 L1540.0,1234.7 L1542.5,1235.0 L1545.0,1234.7 L1547.5,1235.0 L1550.0,1234.9 L1552.5,1234.8 L1555.0,1235.2 L1557.5,1235.1 L1560.0,1235.3 L1562.5,1234.8 L1565.0,1234.9 L1567.5,1235.1 L1570.0,1235.2 L1572.5,1235.0 L1575.0,1234.8 L1577.5,1234.9 L1580.0,1235.1 L1582.5,1235.4 L1585.0,1235.1 L1587.5,1235.3 L1590.0,1235.3 L1592.5,1235.0 L1595.0,1235.0 L1597.5,1235.3 L1600.0,1235.2 L1602.5,1235.0 L1605.0,1234.8 L1607.5,1235.2 L1610.0,1234.9 L1612.5,1234.9 L1615.0,1234.9 L1617.5,1235.2 L1620.0,1235.2 L1622.5,1235.4 L1625.0,1235.1 L1627.5,1235.0 L1630.0,1235.3 L1632.5,1234.8 L1635.0,1235.1 L1637.5,1235.4 L1640.0,1235.0 L1642.5,1234.8 L1645.0,1234.8 L1647.5,1234.7 L1650.0,1235.2 L1652.5,1235.0 L1655.0,1235.3 L1657.5,1235.3 L1660.0,1234.8 L1662.5,1235.0 L1665.0,1234.9 L1667.5,1234.9 L1670.0,1234.8 L1672.5,1234.9 L1675.0,1235.0 L1677.5,1235.1 L1680.0,1235.1 L1682.5,1235.5 L1685.0,1234.8 L1687.5,1234.9 L1690.0,1235.4 L1692.5,1235.0 L1695.0,1235.2 L1697.5,1235.0 L1700.0,1235.4 L1702.5,1235.4 L1705.0,1235.2 L1707.5,1234.9 L1710.0,1235.1 L1712.5,1235.3 L1715.0,1235.2 L1717.5,1235.0 L1720.0,1235.1 L1722.5,1234.9 L1725.0,1235.1 L1727.5,1235.4 L1730.0,1235.1 L1732.5,1235.2 L1735.0,1235.0 L1737.5,1235.3 L1740.0,1235.1 L1742.5,1235.1 L1745.0,1235.4 L1747.5,1235.1" fill="none" stroke="#ff0000" stroke-width="3.8" stroke-linejoin="round" stroke-linecap="butt" />
<path d="M1742.2,1235.2 C1743.8,1235.2 1746.6,1235.3 1750.2,1235.2 C1753.9,1235.1 1756.2,1235.1 1760.5,1234.8 C1764.7,1234.6 1768.1,1234.3 1771.4,1234.0 C1774.8,1233.8 1775.0,1233.8 1777.2,1233.6 C1779.5,1233.4 1781.1,1233.3 1782.6,1233.1 C1784.2,1232.9 1784.2,1232.8 1785.0,1232.7 C1785.8,1232.5 1785.7,1233.1 1786.8,1232.2 C1787.9,1231.3 1788.9,1230.0 1790.3,1228.3 C1791.7,1226.5 1792.8,1224.9 1793.9,1223.3 C1794.9,1221.8 1794.9,1221.8 1795.6,1220.4 C1796.3,1219.0 1796.7,1217.6 1797.4,1216.4 C1798.1,1215.2 1798.5,1215.4 1799.2,1214.4 C1799.9,1213.5 1800.3,1213.1 1800.9,1211.5 C1801.6,1209.9 1801.9,1208.3 1802.4,1206.6 C1802.8,1204.8 1803.0,1204.2 1803.2,1202.6 C1803.5,1201.0 1803.6,1200.8 1803.8,1198.7 C1803.9,1196.5 1803.9,1196.3 1804.0,1191.7 C1804.1,1187.2 1804.1,1181.5 1804.2,1176.0 C1804.3,1170.4 1804.3,1167.3 1804.4,1164.1 C1804.5,1161.0 1804.4,1161.1 1804.7,1160.2 C1804.9,1159.2 1805.2,1159.6 1805.5,1159.2 C1805.9,1158.7 1805.9,1158.3 1806.2,1157.8 C1806.6,1157.3 1807.1,1157.5 1807.5,1156.6 C1807.9,1155.7 1808.1,1155.1 1808.4,1153.3 C1808.7,1151.4 1808.7,1150.3 1808.9,1147.3 C1809.1,1144.4 1809.1,1143.0 1809.3,1138.4 C1809.4,1133.9 1809.4,1131.3 1809.5,1124.6 C1809.6,1117.9 1809.6,1116.7 1809.7,1104.9 C1809.7,1093.0 1809.7,1076.1 1809.8,1065.4 C1809.9,1054.8 1810.0,1061.5 1810.1,1051.6 C1810.3,1041.7 1810.4,1029.1 1810.6,1016.1 C1810.8,1003.0 1810.9,1006.3 1811.0,986.4 C1811.1,966.6 1811.1,968.3 1811.2,916.6 C1811.3,865.0 1811.3,765.8 1811.4,728.1" fill="none" stroke="#ff0000" stroke-width="4.0" stroke-linejoin="round" stroke-linecap="butt" />
<path d="M1107.9,1176.0 L1107.9,1246.0 L1109.6,1251.0 L1112.0,1253.6 L1118.0,1254.0" fill="none" stroke="#ff0000" stroke-width="4.0" stroke-linejoin="round" stroke-linecap="butt" />
<rect x="1174.7" y="767" width="537.0" height="386.29999999999995" fill="none" stroke="#686868" stroke-width="1.45"/>
<line x1="1174.7" y1="1153.3" x2="1174.7" y2="1159.3" stroke="#686868" stroke-width="1.45"/>
<line x1="1353.7000000000003" y1="1153.3" x2="1353.7000000000003" y2="1159.3" stroke="#686868" stroke-width="1.45"/>
<line x1="1532.7000000000003" y1="1153.3" x2="1532.7000000000003" y2="1159.3" stroke="#686868" stroke-width="1.45"/>
<line x1="1711.6999999999998" y1="1153.3" x2="1711.6999999999998" y2="1159.3" stroke="#686868" stroke-width="1.45"/>
<line x1="1264.1999999999998" y1="1153.3" x2="1264.1999999999998" y2="1159.3" stroke="#686868" stroke-width="1.45"/>
<line x1="1443.1999999999998" y1="1153.3" x2="1443.1999999999998" y2="1159.3" stroke="#686868" stroke-width="1.45"/>
<line x1="1622.2" y1="1153.3" x2="1622.2" y2="1159.3" stroke="#686868" stroke-width="1.45"/>
<line x1="1168.7" y1="767.0" x2="1174.7" y2="767.0" stroke="#686868" stroke-width="1.45"/>
<line x1="1168.7" y1="844.26" x2="1174.7" y2="844.26" stroke="#686868" stroke-width="1.45"/>
<line x1="1168.7" y1="921.52" x2="1174.7" y2="921.52" stroke="#686868" stroke-width="1.45"/>
<line x1="1168.7" y1="998.78" x2="1174.7" y2="998.78" stroke="#686868" stroke-width="1.45"/>
<line x1="1168.7" y1="1076.04" x2="1174.7" y2="1076.04" stroke="#686868" stroke-width="1.45"/>
<line x1="1168.7" y1="1153.3" x2="1174.7" y2="1153.3" stroke="#686868" stroke-width="1.45"/>
<line x1="1168.7" y1="805.6299999999999" x2="1174.7" y2="805.6299999999999" stroke="#686868" stroke-width="1.45"/>
<line x1="1168.7" y1="882.89" x2="1174.7" y2="882.89" stroke="#686868" stroke-width="1.45"/>
<line x1="1168.7" y1="960.15" x2="1174.7" y2="960.15" stroke="#686868" stroke-width="1.45"/>
<line x1="1168.7" y1="1037.4099999999999" x2="1174.7" y2="1037.4099999999999" stroke="#686868" stroke-width="1.45"/>
<line x1="1168.7" y1="1114.6699999999998" x2="1174.7" y2="1114.6699999999998" stroke="#686868" stroke-width="1.45"/>
<text x="1174.7" y="1181.8" font-size="22.8" text-anchor="middle" font-weight="normal" fill="#000" ></text>
<text x="1353.7000000000003" y="1181.8" font-size="22.8" text-anchor="middle" font-weight="normal" fill="#000" ></text>
<text x="1532.7000000000003" y="1181.8" font-size="22.8" text-anchor="middle" font-weight="normal" fill="#000" ></text>
<text x="1711.6999999999998" y="1181.8" font-size="22.8" text-anchor="middle" font-weight="normal" fill="#000" ></text>
<text x="1165.7" y="774.9344" font-size="22.8" text-anchor="end" font-weight="normal" fill="#000" >1.0</text>
<text x="1165.7" y="852.1944" font-size="22.8" text-anchor="end" font-weight="normal" fill="#000" >0.8</text>
<text x="1165.7" y="929.4544" font-size="22.8" text-anchor="end" font-weight="normal" fill="#000" >0.6</text>
<text x="1165.7" y="1006.7144" font-size="22.8" text-anchor="end" font-weight="normal" fill="#000" >0.4</text>
<text x="1165.7" y="1083.9744" font-size="22.8" text-anchor="end" font-weight="normal" fill="#000" >0.2</text>
<text x="1165.7" y="1161.2344" font-size="22.8" text-anchor="end" font-weight="normal" fill="#000" >0</text>
<text x="1177.5" y="1180.8999999999999" font-size="22.8" text-anchor="middle" font-weight="normal" fill="#000" >3.0</text>
<text x="1355.5" y="1180.8999999999999" font-size="22.8" text-anchor="middle" font-weight="normal" fill="#000" >3.1</text>
<text x="1533.4" y="1180.8999999999999" font-size="22.8" text-anchor="middle" font-weight="normal" fill="#000" >3.2</text>
<text x="1711.4" y="1180.8999999999999" font-size="22.8" text-anchor="middle" font-weight="normal" fill="#000" >3.3</text>
<path d="M1174.7,1143.2 C1194.6,1143.0 1218.7,1143.0 1260.0,1142.4 C1301.3,1141.8 1319.1,1141.5 1351.8,1140.6 C1384.5,1139.7 1378.2,1139.7 1400.0,1138.6 C1421.8,1137.5 1430.0,1136.9 1445.2,1135.8 C1460.4,1134.7 1456.9,1134.7 1465.0,1133.8 C1473.1,1132.9 1473.1,1133.2 1480.0,1132.1 C1486.9,1131.1 1487.9,1130.8 1494.8,1129.2 C1501.7,1127.6 1504.4,1126.5 1509.6,1125.2 C1514.7,1123.9 1512.5,1124.5 1516.9,1123.7 C1521.4,1122.9 1523.6,1122.7 1528.8,1121.8 C1533.9,1120.9 1535.3,1120.9 1539.1,1119.9 C1542.9,1118.8 1542.8,1118.6 1545.0,1117.4 C1547.3,1116.1 1547.3,1116.0 1548.7,1114.4 C1550.1,1112.9 1549.9,1113.3 1550.9,1110.7 C1552.0,1108.1 1552.1,1106.8 1553.1,1103.3 C1554.2,1099.9 1554.3,1098.9 1555.4,1095.9 C1556.4,1093.0 1556.4,1092.7 1557.6,1090.8 C1558.8,1088.9 1558.6,1088.7 1560.5,1087.8 C1562.4,1086.9 1563.1,1087.2 1565.7,1086.8 C1568.3,1086.3 1569.5,1086.6 1571.6,1085.9 C1573.7,1085.2 1573.4,1085.6 1574.6,1083.8 C1575.8,1082.0 1575.9,1081.6 1576.8,1078.2 C1577.6,1074.8 1577.7,1076.2 1578.3,1069.3 C1578.8,1062.4 1578.8,1060.4 1579.0,1048.7 C1579.2,1036.9 1578.7,1028.8 1579.0,1019.1 C1579.3,1009.4 1579.8,1015.2 1580.5,1007.3 C1581.2,999.4 1581.1,992.7 1582.0,985.1 C1582.8,977.5 1583.3,980.6 1584.2,974.8 C1585.0,968.9 1585.1,975.6 1585.6,960.0 C1586.2,944.4 1586.2,952.9 1586.7,907.8 C1587.2,862.6 1587.6,799.6 1587.9,766.6" fill="none" stroke="#000" stroke-width="4.6" stroke-linejoin="round" stroke-linecap="butt" />
<path d="M1174.7,1145.2 C1194.6,1145.1 1218.7,1145.0 1260.0,1144.7 C1301.3,1144.4 1319.1,1144.2 1351.8,1143.9 C1384.5,1143.6 1378.2,1143.6 1400.0,1143.3 C1421.8,1143.0 1430.0,1142.9 1445.2,1142.6 C1460.4,1142.3 1456.9,1142.4 1465.0,1142.2 C1473.1,1142.0 1469.6,1143.1 1480.0,1141.7 C1490.4,1140.4 1495.8,1138.8 1509.6,1136.6 C1523.3,1134.3 1528.8,1134.0 1539.1,1132.1 C1549.4,1130.2 1547.7,1130.2 1553.9,1128.4 C1560.1,1126.7 1560.5,1126.1 1565.7,1124.7 C1570.9,1123.4 1571.9,1123.6 1576.0,1122.5 C1580.2,1121.5 1580.8,1121.5 1583.4,1120.3 C1586.0,1119.1 1585.7,1119.3 1587.1,1117.4 C1588.5,1115.5 1588.5,1115.1 1589.3,1112.2 C1590.2,1109.3 1590.1,1108.6 1590.8,1104.8 C1591.5,1101.0 1591.6,1099.2 1592.3,1095.9 C1593.0,1092.7 1592.7,1092.7 1593.8,1090.8 C1594.8,1088.9 1594.7,1088.6 1596.7,1087.8 C1598.8,1087.0 1600.2,1087.6 1602.6,1087.4 C1605.0,1087.1 1605.3,1087.5 1607.1,1086.8 C1608.8,1086.0 1608.9,1086.1 1610.0,1084.1 C1611.1,1082.1 1611.1,1083.0 1611.8,1078.2 C1612.5,1073.4 1612.5,1070.3 1613.0,1063.4 C1613.4,1056.5 1613.5,1059.0 1613.7,1048.7 C1613.9,1038.3 1613.4,1028.4 1613.7,1019.1 C1614.1,1009.8 1614.3,1017.4 1615.2,1008.8 C1616.1,1000.1 1616.4,990.8 1617.4,982.2 C1618.4,973.5 1618.7,977.0 1619.6,971.8 C1620.6,966.6 1620.9,974.9 1621.5,960.0 C1622.2,945.1 1622.1,952.9 1622.6,907.8 C1623.1,862.6 1623.4,799.6 1623.6,766.6" fill="none" stroke="#76309c" stroke-width="4.4" stroke-linejoin="round" stroke-linecap="butt" />
<path d="M1174.7,1145.9 C1194.6,1145.8 1218.7,1145.8 1260.0,1145.6 C1301.3,1145.4 1319.1,1145.3 1351.8,1145.2 C1384.5,1145.1 1378.2,1145.1 1400.0,1145.0 C1421.8,1144.9 1430.0,1144.8 1445.2,1144.7 C1460.4,1144.6 1456.9,1144.5 1465.0,1144.4 C1473.1,1144.3 1469.6,1144.9 1480.0,1144.1 C1490.4,1143.3 1495.8,1142.7 1509.6,1141.1 C1523.3,1139.6 1528.8,1138.8 1539.1,1137.5 C1549.4,1136.1 1547.0,1136.4 1553.9,1135.2 C1560.8,1134.0 1561.8,1133.3 1568.7,1132.3 C1575.5,1131.2 1576.5,1131.7 1583.4,1130.8 C1590.3,1129.9 1592.0,1129.9 1598.2,1128.6 C1604.4,1127.3 1604.5,1126.9 1610.0,1125.2 C1615.5,1123.5 1617.0,1122.8 1621.8,1121.3 C1626.7,1119.9 1628.1,1120.6 1630.7,1118.8 C1633.3,1117.0 1632.1,1117.6 1632.9,1113.7 C1633.8,1109.7 1633.9,1106.7 1634.4,1101.8 C1634.9,1097.0 1634.6,1095.7 1635.1,1093.0 C1635.7,1090.2 1634.9,1091.1 1636.6,1090.0 C1638.3,1089.0 1638.7,1089.4 1642.5,1088.5 C1646.3,1087.7 1649.8,1088.1 1652.9,1086.3 C1656.0,1084.6 1654.8,1084.1 1655.8,1081.2 C1656.9,1078.2 1656.6,1079.6 1657.3,1073.8 C1658.0,1067.9 1658.3,1068.8 1658.8,1056.0 C1659.3,1043.3 1658.5,1030.1 1659.5,1019.1 C1660.6,1008.1 1661.8,1017.4 1663.2,1008.8 C1664.6,1000.1 1664.4,993.5 1665.4,982.2 C1666.5,970.8 1666.9,977.4 1667.6,960.0 C1668.4,942.6 1668.2,952.9 1668.7,907.8 C1669.2,862.6 1669.5,799.6 1669.7,766.6" fill="none" stroke="#0428ff" stroke-width="4.4" stroke-linejoin="round" stroke-linecap="butt" />
<path d="M1174.7,1146.4 C1194.6,1146.3 1218.7,1146.3 1260.0,1146.1 C1301.3,1145.9 1319.1,1145.8 1351.8,1145.6 C1384.5,1145.4 1378.2,1145.4 1400.0,1145.3 C1421.8,1145.2 1430.0,1145.1 1445.2,1145.0 C1460.4,1144.9 1456.9,1144.8 1465.0,1144.7 C1473.1,1144.6 1469.6,1145.1 1480.0,1144.4 C1490.4,1143.7 1495.8,1143.1 1509.6,1141.6 C1523.3,1140.1 1528.8,1139.4 1539.1,1138.0 C1549.4,1136.7 1547.0,1137.0 1553.9,1135.8 C1560.8,1134.7 1561.8,1134.2 1568.7,1133.2 C1575.5,1132.2 1576.5,1132.4 1583.4,1131.5 C1590.3,1130.7 1592.0,1130.7 1598.2,1129.5 C1604.4,1128.2 1604.9,1127.5 1610.0,1126.2 C1615.2,1124.9 1616.2,1124.9 1620.4,1124.0 C1624.5,1123.1 1624.7,1123.6 1627.8,1122.5 C1630.9,1121.5 1631.6,1121.6 1633.7,1119.6 C1635.7,1117.5 1635.6,1117.8 1636.6,1113.7 C1637.7,1109.5 1637.6,1106.7 1638.1,1101.8 C1638.6,1097.0 1638.3,1095.6 1638.8,1093.0 C1639.4,1090.4 1637.0,1091.9 1640.3,1090.8 C1643.6,1089.7 1647.5,1089.5 1652.9,1088.3 C1658.2,1087.0 1659.4,1087.6 1663.2,1085.6 C1667.0,1083.6 1667.1,1082.8 1669.1,1079.7 C1671.2,1076.6 1670.9,1077.8 1672.1,1072.3 C1673.3,1066.8 1673.4,1068.5 1674.3,1056.0 C1675.2,1043.6 1674.7,1030.1 1675.8,1019.1 C1676.8,1008.1 1677.2,1017.4 1678.7,1008.8 C1680.3,1000.1 1681.0,993.5 1682.4,982.2 C1683.8,970.8 1684.0,977.4 1684.6,960.0 C1685.3,942.6 1684.8,952.9 1685.1,907.8 C1685.4,862.6 1685.8,799.6 1686.0,766.6" fill="none" stroke="#70ad47" stroke-width="4.4" stroke-linejoin="round" stroke-linecap="butt" />
<path d="M1174.7,1146.2 C1194.6,1146.1 1218.7,1146.1 1260.0,1145.9 C1301.3,1145.7 1319.1,1145.5 1351.8,1145.3 C1384.5,1145.1 1378.2,1145.2 1400.0,1145.0 C1421.8,1144.8 1430.0,1144.8 1445.2,1144.6 C1460.4,1144.4 1456.9,1144.5 1465.0,1144.3 C1473.1,1144.1 1469.6,1144.7 1480.0,1144.0 C1490.4,1143.2 1495.8,1142.6 1509.6,1141.0 C1523.3,1139.4 1528.8,1138.7 1539.1,1137.3 C1549.4,1135.9 1547.0,1136.3 1553.9,1135.1 C1560.8,1133.9 1561.8,1133.2 1568.7,1132.1 C1575.5,1131.1 1576.5,1131.5 1583.4,1130.7 C1590.3,1129.8 1592.0,1129.8 1598.2,1128.4 C1604.4,1127.1 1605.5,1126.3 1610.0,1124.7 C1614.5,1123.2 1614.7,1123.2 1617.4,1121.8 C1620.2,1120.4 1620.3,1120.7 1621.8,1118.8 C1623.4,1116.9 1623.2,1117.6 1624.1,1113.7 C1624.9,1109.7 1624.8,1106.7 1625.5,1101.8 C1626.2,1097.0 1626.2,1095.7 1627.0,1093.0 C1627.9,1090.2 1627.0,1090.9 1629.2,1090.0 C1631.5,1089.2 1633.5,1089.7 1636.6,1089.3 C1639.7,1088.9 1638.7,1088.7 1642.5,1088.3 C1646.3,1087.8 1648.7,1088.2 1652.9,1087.4 C1657.0,1086.6 1657.5,1086.5 1660.3,1084.9 C1663.0,1083.2 1663.0,1083.0 1664.7,1080.4 C1666.4,1077.8 1666.4,1077.7 1667.6,1073.8 C1668.9,1069.8 1669.0,1069.3 1669.9,1063.4 C1670.7,1057.6 1670.8,1059.0 1671.3,1048.7 C1671.9,1038.3 1671.2,1028.4 1672.1,1019.1 C1672.9,1009.8 1673.5,1017.4 1675.0,1008.8 C1676.6,1000.1 1677.0,993.5 1678.7,982.2 C1680.5,970.8 1681.2,977.4 1682.4,960.0 C1683.6,942.6 1683.2,952.9 1683.9,907.8 C1684.6,862.6 1685.0,799.6 1685.4,766.6" fill="none" stroke="#ff0000" stroke-width="4.4" stroke-linejoin="round" stroke-linecap="butt" />
<line x1="1189.7" y1="791.8" x2="1251" y2="791.8" stroke="#000" stroke-width="3.3"/>
<text x="1256.6" y="801.2" font-size="25.7">1<tspan font-size="66%" dy="-0.52em">st</tspan><tspan dy="0.343em"> </tspan>cycle,</text>
<text x="1379.3" y="801.2" font-size="25.7">CE = 97.9%</text>
<line x1="1189.7" y1="824.8" x2="1251" y2="824.8" stroke="#76309c" stroke-width="2.8"/>
<text x="1256.6" y="834.2" font-size="25.7">2<tspan font-size="66%" dy="-0.52em">nd</tspan><tspan dy="0.343em"> </tspan>cycle,</text>
<text x="1379.3" y="834.2" font-size="25.7">CE = 98.5%</text>
<line x1="1189.7" y1="857.6" x2="1251" y2="857.6" stroke="#0428ff" stroke-width="2.8"/>
<text x="1256.6" y="867.0" font-size="25.7">5<tspan font-size="66%" dy="-0.52em">th</tspan><tspan dy="0.343em"> </tspan>cycle,</text>
<text x="1379.3" y="867.0" font-size="25.7">CE = 99.3%</text>
<line x1="1189.7" y1="890.2" x2="1251" y2="890.2" stroke="#70ad47" stroke-width="2.8"/>
<text x="1256.6" y="899.6" font-size="25.7">10<tspan font-size="66%" dy="-0.52em">th</tspan><tspan dy="0.343em"> </tspan>cycle,</text>
<text x="1379.3" y="899.6" font-size="25.7">CE = 99.6%</text>
<line x1="1189.7" y1="922.9" x2="1251" y2="922.9" stroke="#ff0000" stroke-width="2.8"/>
<text x="1256.6" y="932.3" font-size="25.7">15<tspan font-size="66%" dy="-0.52em">th</tspan><tspan dy="0.343em"> </tspan>cycle,</text>
<text x="1379.3" y="932.3" font-size="25.7">CE = 99.5%</text>
<text transform="translate(1046.3,1006.8) rotate(-90)" font-size="28.1" font-weight="bold" text-anchor="middle">Potential (V)</text>
<text x="1455.8" y="1343.3" font-size="28.9" font-weight="bold" text-anchor="middle">Capacity (mAh cm<tspan font-size="66%" dy="-0.52em">-2</tspan><tspan dy="0.343em">)</tspan></text>
</g>
</g>
</svg>
</body></html>
